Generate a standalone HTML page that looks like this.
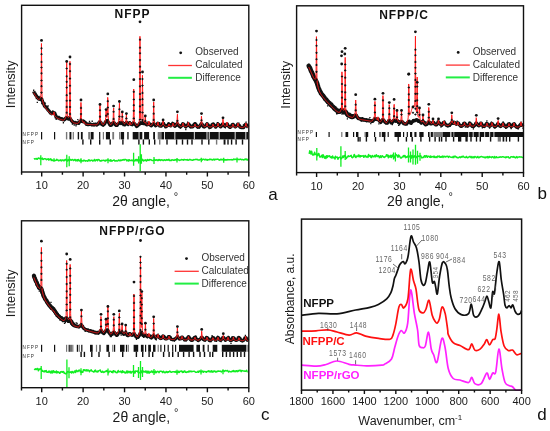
<!DOCTYPE html>
<html><head><meta charset="utf-8"><style>
html,body{margin:0;padding:0;background:#fff;width:550px;height:431px;overflow:hidden}
svg{display:block;font-family:"Liberation Sans",sans-serif;filter:blur(0.3px)}
</style></head><body><svg width="550" height="431" viewBox="0 0 550 431"><rect width="550" height="431" fill="#fff"/>
<path d="M33.7 91.31 L34.2 92.7 L34.7 93.48 L35.2 93.91 L35.7 94.92 L36.2 95.65 L36.7 96.5 L37.2 97.24 L37.7 97.28 L38.2 97.77 L38.7 98.87 L39.2 98.85 L39.7 99.19 L40.2 98.43 L40.7 98.56 L41.2 98.81 L41.7 98.97 L42.2 100.64 L42.7 102 L43.2 102.68 L43.7 103.83 L44.2 105.16 L44.7 106.23 L45.2 106.45 L45.7 106.94 L46.2 107.71 L46.7 108.01 L47.2 108.78 L47.7 109.56 L48.2 110.21 L48.7 110.59 L49.2 111.15 L49.7 111.68 L50.2 112.36 L50.7 112.66 L51.2 112.79 L51.7 113.63 L52.2 113.35 L52.7 113.11 L53.2 112.34 L53.7 112.78 L54.2 112.97 L54.7 113.18 L55.2 114.43 L55.7 115.77 L56.2 116.55 L56.7 117.27 L57.2 117.22 L57.7 117.81 L58.2 117.92 L58.7 117.83 L59.2 118.26 L59.7 118.68 L60.2 118.84 L60.7 118.74 L61.2 118.98 L61.7 118.7 L62.2 119.03 L62.7 119.62 L63.2 119.46 L63.7 119.36 L64.2 119.64 L64.7 119.55 L65.2 119.07 L65.7 118.2 L66.2 117.7 L66.7 117.59 L67.2 118.13 L67.7 118.52 L68.2 118.88 L68.7 119 L69.2 118.35 L69.7 118.1 L70.2 118.77 L70.7 119.61 L71.2 120.19 L71.7 120.89 L72.2 121.35 L72.7 122 L73.2 122.61 L73.7 122.59 L74.2 122.52 L74.7 122.87 L75.2 122.46 L75.7 122.78 L76.2 123.22 L76.7 123 L77.2 122.97 L77.7 122.87 L78.2 123.07 L78.7 123.23 L79.2 122.07 L79.7 122.05 L80.2 121.35 L80.7 120.88 L81.2 120.69 L81.7 121.11 L82.2 121.36 L82.7 121.67 L83.2 121.56 L83.7 121.18 L84.2 121.96 L84.7 122.15 L85.2 122.46 L85.7 123.29 L86.2 123.69 L86.7 123.83 L87.2 123.95 L87.7 124.17 L88.2 124.29 L88.7 124.32 L89.2 124.23 L89.7 123.92 L90.2 124.12 L90.7 124.11 L91.2 124.47 L91.7 124.73 L92.2 124.71 L92.7 124.74 L93.2 124.79 L93.7 124.37 L94.2 124.87 L94.7 124.77 L95.2 124.32 L95.7 124.3 L96.2 124.32 L96.7 124.91 L97.2 124.43 L97.7 124.11 L98.2 124.09 L98.7 123.19 L99.2 122.21 L99.7 121.75 L100.2 122.02 L100.7 122.23 L101.2 123.11 L101.7 124.23 L102.2 124.56 L102.7 124.74 L103.2 124.93 L103.7 124.43 L104.2 124.32 L104.7 123.66 L105.2 122.55 L105.7 121.56 L106.2 121.47 L106.7 120.79 L107.2 120.57 L107.7 121.29 L108.2 122.21 L108.7 122.55 L109.2 123.5 L109.7 124.33 L110.2 125.21 L110.7 124.91 L111.2 125.24 L111.7 124.84 L112.2 124.1 L112.7 123.06 L113.2 123.05 L113.7 122.76 L114.2 122.93 L114.7 123.45 L115.2 124.57 L115.7 124.94 L116.2 125.38 L116.7 125.22 L117.2 125.26 L117.7 124.31 L118.2 123.78 L118.7 123.55 L119.2 122.96 L119.7 122.44 L120.2 123.13 L120.7 122.93 L121.2 123.38 L121.7 122.97 L122.2 122.58 L122.7 122.72 L123.2 123.16 L123.7 124.56 L124.2 124.28 L124.7 124.82 L125.2 124.41 L125.7 123.43 L126.2 122.66 L126.7 123.26 L127.2 123.83 L127.7 124.17 L128.2 124.27 L128.7 123.94 L129.2 123.38 L129.7 122.81 L130.2 123.16 L130.7 123.42 L131.2 123.86 L131.7 124.22 L132.2 124.63 L132.7 123.86 L133.2 123.42 L133.7 122.95 L134.2 123.58 L134.7 124.25 L135.2 124.35 L135.7 125.17 L136.2 125.69 L136.7 126.4 L137.2 126.23 L137.7 125.67 L138.2 125.12 L138.7 124.79 L139.2 124.12 L139.7 123.54 L140.2 122.79 L140.7 123.24 L141.2 123.15 L141.7 122.94 L142.2 123.26 L142.7 122.75 L143.2 123.42 L143.7 123.16 L144.2 123.22 L144.7 123.61 L145.2 122.95 L145.7 123.65 L146.2 124.11 L146.7 124.87 L147.2 124.7 L147.7 124.4 L148.2 123.79 L148.7 123.78 L149.2 123.55 L149.7 124.31 L150.2 125.02 L150.7 125.1 L151.2 125.79 L151.7 125.35 L152.2 124.81 L152.7 124.1 L153.2 124.06 L153.7 123.73 L154.2 124.04 L154.7 124.32 L155.2 125.23 L155.7 125.75 L156.2 125.34 L156.7 124.97 L157.2 123.98 L157.7 123.33 L158.2 123.43 L158.7 124.41 L159.2 124.92 L159.7 125.93 L160.2 126 L160.7 125.94 L161.2 126.06 L161.7 125.48 L162.2 124.05 L162.7 123.95 L163.2 123.33 L163.7 123.74 L164.2 125.09 L164.7 125.19 L165.2 125.92 L165.7 126.81 L166.2 126.42 L166.7 126.02 L167.2 125.66 L167.7 125.09 L168.2 124.79 L168.7 123.77 L169.2 124.36 L169.7 124.34 L170.2 125.42 L170.7 125.8 L171.2 125.32 L171.7 124.84 L172.2 124.34 L172.7 123.52 L173.2 123.92 L173.7 123.9 L174.2 124.61 L174.7 126.01 L175.2 125.71 L175.7 125.71 L176.2 124.98 L176.7 124.15 L177.2 123.49 L177.7 124.23 L178.2 124.84 L178.7 125.63 L179.2 125.65 L179.7 126.17 L180.2 126.64 L180.7 126.79 L181.2 126.01 L181.7 125.43 L182.2 124.63 L182.7 123.76 L183.2 123.93 L183.7 124.22 L184.2 124.94 L184.7 125.54 L185.2 126.17 L185.7 126.87 L186.2 126.24 L186.7 125.88 L187.2 125.12 L187.7 124.63 L188.2 123.82 L188.7 123.92 L189.2 124.58 L189.7 125.36 L190.2 126.45 L190.7 126.91 L191.2 126.64 L191.7 126.71 L192.2 126.82 L192.7 126.62 L193.2 126.18 L193.7 125.21 L194.2 124.26 L194.7 123.89 L195.2 123.71 L195.7 124.56 L196.2 124.94 L196.7 125.67 L197.2 126.63 L197.7 126.63 L198.2 127.12 L198.7 126.83 L199.2 126.9 L199.7 125.87 L200.2 125.45 L200.7 124.91 L201.2 123.78 L201.7 124.42 L202.2 124.28 L202.7 125.54 L203.2 126.44 L203.7 126.8 L204.2 126.58 L204.7 126.3 L205.2 126.2 L205.7 125.84 L206.2 124.56 L206.7 124.49 L207.2 123.83 L207.7 124.93 L208.2 125 L208.7 125.97 L209.2 126.95 L209.7 127.13 L210.2 127.23 L210.7 126.99 L211.2 126.46 L211.7 125.72 L212.2 124.53 L212.7 124.18 L213.2 123.91 L213.7 124.83 L214.2 125.56 L214.7 125.94 L215.2 126.21 L215.7 126.98 L216.2 126.51 L216.7 125.65 L217.2 124.87 L217.7 124.57 L218.2 124.2 L218.7 124.63 L219.2 125.35 L219.7 126 L220.2 126.23 L220.7 126.78 L221.2 126.25 L221.7 125.71 L222.2 124.54 L222.7 124.22 L223.2 123.98 L223.7 124.42 L224.2 125.21 L224.7 126.17 L225.2 125.88 L225.7 125.46 L226.2 124.97 L226.7 124.15 L227.2 123.93 L227.7 124.83 L228.2 125.58 L228.7 126.44 L229.2 126.79 L229.7 127.24 L230.2 127.3 L230.7 126.71 L231.2 126.47 L231.7 125.76 L232.2 124.78 L232.7 124.37 L233.2 124.44 L233.7 125.19 L234.2 125.97 L234.7 126.16 L235.2 126.89 L235.7 126.45 L236.2 126.13 L236.7 125.82 L237.2 125.35 L237.7 124.22 L238.2 124.65 L238.7 125.23 L239.2 125.54 L239.7 126.59 L240.2 127.24 L240.7 127.14 L241.2 127.53 L241.7 127.6 L242.2 127.49 L242.7 127.67 L243.2 127.59 L243.7 127.37 L244.2 126.54 L244.7 125.49 L245.2 124.79 L245.7 124.29 L246.2 124.64 L246.7 125.35 L247.2 125.58 L247.7 126.79 L248.2 127.29" fill="none" stroke="#111" stroke-width="3.4" stroke-linejoin="round"/>
<path d="M33.05 89.62h1.3v1.3h-1.3zM33.95 94.33h1.3v1.3h-1.3zM34.85 95.54h1.3v1.3h-1.3zM35.75 98h1.3v1.3h-1.3zM36.65 101.72h1.3v1.3h-1.3zM37.55 98.86h1.3v1.3h-1.3zM38.45 99.17h1.3v1.3h-1.3zM39.35 95.74h1.3v1.3h-1.3zM40.25 97.45h1.3v1.3h-1.3zM41.15 102.93h1.3v1.3h-1.3zM42.05 102.04h1.3v1.3h-1.3zM42.95 103.08h1.3v1.3h-1.3zM43.85 105.53h1.3v1.3h-1.3zM44.75 102.5h1.3v1.3h-1.3zM45.65 105.64h1.3v1.3h-1.3zM46.55 105.83h1.3v1.3h-1.3zM47.45 105.34h1.3v1.3h-1.3zM48.35 111.97h1.3v1.3h-1.3zM49.25 113.31h1.3v1.3h-1.3zM50.15 111.91h1.3v1.3h-1.3zM51.05 113.37h1.3v1.3h-1.3zM51.95 110.49h1.3v1.3h-1.3zM52.85 112.64h1.3v1.3h-1.3zM53.75 113.76h1.3v1.3h-1.3zM54.65 117.08h1.3v1.3h-1.3zM55.55 118.73h1.3v1.3h-1.3zM56.45 117.5h1.3v1.3h-1.3zM57.35 116.8h1.3v1.3h-1.3zM58.25 115.83h1.3v1.3h-1.3zM59.15 116.6h1.3v1.3h-1.3zM60.05 119.27h1.3v1.3h-1.3zM60.95 119.47h1.3v1.3h-1.3zM61.85 118.71h1.3v1.3h-1.3zM62.75 122.11h1.3v1.3h-1.3zM63.65 120.17h1.3v1.3h-1.3zM64.55 118.31h1.3v1.3h-1.3zM65.45 116.82h1.3v1.3h-1.3zM66.35 117.23h1.3v1.3h-1.3zM67.25 116.25h1.3v1.3h-1.3zM68.15 116.44h1.3v1.3h-1.3zM69.05 118.49h1.3v1.3h-1.3zM69.95 117.3h1.3v1.3h-1.3zM70.85 119.48h1.3v1.3h-1.3zM71.75 123.48h1.3v1.3h-1.3zM72.65 121.24h1.3v1.3h-1.3zM73.55 124.36h1.3v1.3h-1.3zM74.45 121.99h1.3v1.3h-1.3zM75.35 125.08h1.3v1.3h-1.3zM76.25 123.21h1.3v1.3h-1.3zM77.15 119.03h1.3v1.3h-1.3zM78.05 123.7h1.3v1.3h-1.3zM78.95 121.07h1.3v1.3h-1.3zM79.85 117.73h1.3v1.3h-1.3zM80.75 120.09h1.3v1.3h-1.3zM81.65 120.96h1.3v1.3h-1.3zM82.55 119.42h1.3v1.3h-1.3zM83.45 120.23h1.3v1.3h-1.3zM84.35 122.46h1.3v1.3h-1.3zM85.25 124.52h1.3v1.3h-1.3zM86.15 124.7h1.3v1.3h-1.3zM87.05 124.96h1.3v1.3h-1.3zM87.95 124.92h1.3v1.3h-1.3zM88.85 120.66h1.3v1.3h-1.3zM89.75 122.83h1.3v1.3h-1.3zM90.65 123.99h1.3v1.3h-1.3zM91.55 120.59h1.3v1.3h-1.3zM92.45 124.8h1.3v1.3h-1.3zM93.35 125h1.3v1.3h-1.3zM94.25 123.06h1.3v1.3h-1.3zM95.15 123.58h1.3v1.3h-1.3zM96.05 122.93h1.3v1.3h-1.3zM96.95 123.81h1.3v1.3h-1.3zM97.85 122.91h1.3v1.3h-1.3zM98.75 121.64h1.3v1.3h-1.3zM99.65 120.18h1.3v1.3h-1.3zM100.55 123.11h1.3v1.3h-1.3zM101.45 123.46h1.3v1.3h-1.3zM102.35 125.44h1.3v1.3h-1.3zM103.25 124.41h1.3v1.3h-1.3zM104.15 121.12h1.3v1.3h-1.3zM105.05 119.49h1.3v1.3h-1.3zM105.95 120.26h1.3v1.3h-1.3zM106.85 119.77h1.3v1.3h-1.3zM107.75 122.25h1.3v1.3h-1.3zM108.65 124.37h1.3v1.3h-1.3zM109.55 124.41h1.3v1.3h-1.3zM110.45 122.44h1.3v1.3h-1.3zM111.35 122.26h1.3v1.3h-1.3zM112.25 123.04h1.3v1.3h-1.3zM113.15 120.65h1.3v1.3h-1.3zM114.05 124.35h1.3v1.3h-1.3zM114.95 124.17h1.3v1.3h-1.3zM115.85 125.35h1.3v1.3h-1.3zM116.75 123.28h1.3v1.3h-1.3zM117.65 123.01h1.3v1.3h-1.3zM118.55 118.46h1.3v1.3h-1.3zM119.45 121.88h1.3v1.3h-1.3zM120.35 123.13h1.3v1.3h-1.3zM121.25 120.96h1.3v1.3h-1.3zM122.15 121.36h1.3v1.3h-1.3zM123.05 123.54h1.3v1.3h-1.3zM123.95 124.05h1.3v1.3h-1.3zM124.85 122.01h1.3v1.3h-1.3zM125.75 123.04h1.3v1.3h-1.3zM126.65 120.94h1.3v1.3h-1.3zM127.55 124.95h1.3v1.3h-1.3zM128.45 121.28h1.3v1.3h-1.3zM129.35 121.33h1.3v1.3h-1.3zM130.25 124.67h1.3v1.3h-1.3zM131.15 122.73h1.3v1.3h-1.3zM132.05 121.39h1.3v1.3h-1.3zM132.95 122.56h1.3v1.3h-1.3zM133.85 121.88h1.3v1.3h-1.3zM134.75 123.04h1.3v1.3h-1.3zM135.65 124.39h1.3v1.3h-1.3zM136.55 124.46h1.3v1.3h-1.3zM137.45 123.64h1.3v1.3h-1.3zM138.35 122.28h1.3v1.3h-1.3zM139.25 124.32h1.3v1.3h-1.3zM140.15 121.5h1.3v1.3h-1.3zM141.05 123.47h1.3v1.3h-1.3zM141.95 120.59h1.3v1.3h-1.3zM142.85 123.42h1.3v1.3h-1.3zM143.75 121.26h1.3v1.3h-1.3zM144.65 122h1.3v1.3h-1.3zM145.55 124.14h1.3v1.3h-1.3zM146.45 123.52h1.3v1.3h-1.3zM147.35 121.19h1.3v1.3h-1.3zM148.25 122.1h1.3v1.3h-1.3zM149.15 123.25h1.3v1.3h-1.3zM150.05 125.43h1.3v1.3h-1.3zM150.95 123.87h1.3v1.3h-1.3zM151.85 123.74h1.3v1.3h-1.3zM152.75 123.02h1.3v1.3h-1.3zM153.65 121.26h1.3v1.3h-1.3zM154.55 124.36h1.3v1.3h-1.3zM155.45 123.85h1.3v1.3h-1.3zM156.35 124.36h1.3v1.3h-1.3zM157.25 122.8h1.3v1.3h-1.3zM158.15 123.39h1.3v1.3h-1.3zM159.05 122.05h1.3v1.3h-1.3zM159.95 125.35h1.3v1.3h-1.3zM160.85 124.4h1.3v1.3h-1.3zM161.75 122.37h1.3v1.3h-1.3zM162.65 122.43h1.3v1.3h-1.3zM163.55 122.62h1.3v1.3h-1.3zM164.45 125.59h1.3v1.3h-1.3zM165.35 126.63h1.3v1.3h-1.3zM166.25 126.26h1.3v1.3h-1.3zM167.15 123.88h1.3v1.3h-1.3zM168.05 125.45h1.3v1.3h-1.3zM168.95 124.7h1.3v1.3h-1.3zM169.85 123.55h1.3v1.3h-1.3zM170.75 124.53h1.3v1.3h-1.3zM171.65 121.63h1.3v1.3h-1.3zM172.55 123.01h1.3v1.3h-1.3zM173.45 125.06h1.3v1.3h-1.3zM174.35 126.7h1.3v1.3h-1.3zM175.25 124.27h1.3v1.3h-1.3zM176.15 121.38h1.3v1.3h-1.3zM177.05 123.05h1.3v1.3h-1.3zM177.95 126.08h1.3v1.3h-1.3zM178.85 125.78h1.3v1.3h-1.3zM179.75 127.4h1.3v1.3h-1.3zM180.65 126.2h1.3v1.3h-1.3zM181.55 125.73h1.3v1.3h-1.3zM182.45 123.93h1.3v1.3h-1.3zM183.35 123.38h1.3v1.3h-1.3zM184.25 125.98h1.3v1.3h-1.3zM185.15 128.86h1.3v1.3h-1.3zM186.05 124.49h1.3v1.3h-1.3zM186.95 121.53h1.3v1.3h-1.3zM187.85 125.82h1.3v1.3h-1.3zM188.75 124.87h1.3v1.3h-1.3zM189.65 124.88h1.3v1.3h-1.3zM190.55 125.42h1.3v1.3h-1.3zM191.45 124.31h1.3v1.3h-1.3zM192.35 126.51h1.3v1.3h-1.3zM193.25 124.62h1.3v1.3h-1.3zM194.15 122.63h1.3v1.3h-1.3zM195.05 123.36h1.3v1.3h-1.3zM195.95 124.72h1.3v1.3h-1.3zM196.85 127.34h1.3v1.3h-1.3zM197.75 126.01h1.3v1.3h-1.3zM198.65 127.54h1.3v1.3h-1.3zM199.55 123.8h1.3v1.3h-1.3zM200.45 122.81h1.3v1.3h-1.3zM201.35 123.07h1.3v1.3h-1.3zM202.25 124.33h1.3v1.3h-1.3zM203.15 125.84h1.3v1.3h-1.3zM204.05 127.19h1.3v1.3h-1.3zM204.95 126.46h1.3v1.3h-1.3zM205.85 122.41h1.3v1.3h-1.3zM206.75 125.14h1.3v1.3h-1.3zM207.65 125h1.3v1.3h-1.3zM208.55 127.89h1.3v1.3h-1.3zM209.45 126.07h1.3v1.3h-1.3zM210.35 124.82h1.3v1.3h-1.3zM211.25 125.55h1.3v1.3h-1.3zM212.15 124.28h1.3v1.3h-1.3zM213.05 123.46h1.3v1.3h-1.3zM213.95 125.39h1.3v1.3h-1.3zM214.85 126.14h1.3v1.3h-1.3zM215.75 125.76h1.3v1.3h-1.3zM216.65 121.99h1.3v1.3h-1.3zM217.55 122.14h1.3v1.3h-1.3zM218.45 124.73h1.3v1.3h-1.3zM219.35 126.15h1.3v1.3h-1.3zM220.25 125.29h1.3v1.3h-1.3zM221.15 122.74h1.3v1.3h-1.3zM222.05 125.3h1.3v1.3h-1.3zM222.95 123.58h1.3v1.3h-1.3zM223.85 123.84h1.3v1.3h-1.3zM224.75 127.1h1.3v1.3h-1.3zM225.65 125.46h1.3v1.3h-1.3zM226.55 124.92h1.3v1.3h-1.3zM227.45 125.77h1.3v1.3h-1.3zM228.35 126.7h1.3v1.3h-1.3zM229.25 125.31h1.3v1.3h-1.3zM230.15 126.24h1.3v1.3h-1.3zM231.05 125.55h1.3v1.3h-1.3zM231.95 124.63h1.3v1.3h-1.3zM232.85 124.54h1.3v1.3h-1.3zM233.75 124.08h1.3v1.3h-1.3zM234.65 125.43h1.3v1.3h-1.3zM235.55 125.42h1.3v1.3h-1.3zM236.45 124.31h1.3v1.3h-1.3zM237.35 122.69h1.3v1.3h-1.3zM238.25 122.38h1.3v1.3h-1.3zM239.15 124.45h1.3v1.3h-1.3zM240.05 126.96h1.3v1.3h-1.3zM240.95 126.74h1.3v1.3h-1.3zM241.85 127.45h1.3v1.3h-1.3zM242.75 124.27h1.3v1.3h-1.3zM243.65 125.2h1.3v1.3h-1.3zM244.55 125.41h1.3v1.3h-1.3zM245.45 121.52h1.3v1.3h-1.3zM246.35 123.67h1.3v1.3h-1.3zM247.25 124.22h1.3v1.3h-1.3z" fill="#111"/>
<path d="M33.7 92.8 L33.95 93.2 L34.2 93.61 L34.45 94.03 L34.7 94.45 L34.95 94.87 L35.2 95.28 L35.45 95.69 L35.7 96.09 L35.95 96.48 L36.2 96.85 L36.45 97.2 L36.7 97.53 L36.95 97.84 L37.2 98.14 L37.45 98.42 L37.7 98.69 L37.95 98.93 L38.2 99.14 L38.45 99.3 L38.7 99.41 L38.95 99.45 L39.2 99.42 L39.45 99.29 L39.7 99.09 L39.95 98.81 L40.2 98.5 L40.45 98.18 L40.7 97.87 L40.95 95.81 L41.2 77.15 L41.45 43.48 L41.7 62.38 L41.95 92.91 L42.2 99.27 L42.45 100.33 L42.7 101.23 L42.95 102.13 L43.2 103.01 L43.45 103.83 L43.7 104.57 L43.95 105.22 L44.2 105.79 L44.45 106.29 L44.7 106.73 L44.95 107.12 L45.2 107.48 L45.45 107.82 L45.7 108.14 L45.95 108.45 L46.2 108.75 L46.45 109.06 L46.7 109.36 L46.95 109.66 L47.2 109.97 L47.45 110.27 L47.7 110.57 L47.95 110.87 L48.2 111.17 L48.45 111.46 L48.7 111.74 L48.95 112.03 L49.2 112.3 L49.45 112.57 L49.7 112.83 L49.95 113.07 L50.2 113.31 L50.45 113.53 L50.7 113.73 L50.95 113.92 L51.2 114.09 L51.45 114.24 L51.7 114.37 L51.95 114.47 L52.2 114.54 L52.45 114.59 L52.7 114.63 L52.95 114.66 L53.2 114.69 L53.45 114.65 L53.7 113.7 L53.95 111.95 L54.2 113.17 L54.45 115.06 L54.7 115.64 L54.95 115.94 L55.2 116.25 L55.45 116.55 L55.7 116.84 L55.95 117.11 L56.2 117.35 L56.45 117.57 L56.7 117.76 L56.95 117.92 L57.2 118.07 L57.45 118.21 L57.7 118.33 L57.95 118.45 L58.2 118.56 L58.45 118.66 L58.7 118.76 L58.95 118.86 L59.2 118.95 L59.45 119.04 L59.7 119.13 L59.95 119.22 L60.2 119.31 L60.45 119.39 L60.7 119.47 L60.95 119.55 L61.2 119.63 L61.45 119.71 L61.7 119.79 L61.95 119.86 L62.2 119.94 L62.45 120 L62.7 120.06 L62.95 120.1 L63.2 120.13 L63.45 120.13 L63.7 120.08 L63.95 119.98 L64.2 119.81 L64.45 119.57 L64.7 119.23 L64.95 118.82 L65.2 118.34 L65.45 117.81 L65.7 117.29 L65.95 116.71 L66.2 113.06 L66.45 89.09 L66.7 61.83 L66.95 89.05 L67.2 112.95 L67.45 116.49 L67.7 116.88 L67.95 117.14 L68.2 117.33 L68.45 117.4 L68.7 117.37 L68.95 117.25 L69.2 117.04 L69.45 114.96 L69.7 95.85 L69.95 61.36 L70.2 80.49 L70.45 111.43 L70.7 117.69 L70.95 118.52 L71.2 119.17 L71.45 119.82 L71.7 120.44 L71.95 121 L72.2 121.48 L72.45 121.87 L72.7 122.18 L72.95 122.41 L73.2 122.59 L73.45 122.73 L73.7 122.83 L73.95 122.91 L74.2 122.97 L74.45 123.03 L74.7 123.08 L74.95 123.12 L75.2 123.16 L75.45 123.21 L75.7 123.25 L75.95 123.29 L76.2 123.32 L76.45 123.36 L76.7 123.38 L76.95 123.41 L77.2 123.41 L77.45 123.4 L77.7 123.37 L77.95 123.29 L78.2 123.16 L78.45 122.97 L78.7 122.69 L78.95 122.33 L79.2 121.89 L79.45 121.38 L79.7 120.82 L79.95 120.25 L80.2 119.72 L80.45 118.71 L80.7 112.78 L80.95 102.43 L81.2 108.09 L81.45 117.4 L81.7 119.49 L81.95 120.05 L82.2 120.59 L82.45 121.13 L82.7 121.64 L82.95 122.08 L83.2 122.46 L83.45 122.7 L83.7 122.43 L83.95 121.7 L84.2 122.36 L84.45 123.31 L84.7 123.59 L84.95 123.71 L85.2 123.82 L85.45 123.93 L85.7 124.03 L85.95 124.11 L86.2 124.18 L86.45 124.25 L86.7 124.3 L86.95 124.34 L87.2 124.37 L87.45 124.4 L87.7 124.42 L87.95 124.44 L88.2 124.45 L88.45 124.47 L88.7 124.48 L88.95 124.5 L89.2 124.51 L89.45 124.53 L89.7 124.54 L89.95 124.55 L90.2 124.57 L90.45 124.58 L90.7 124.59 L90.95 124.61 L91.2 124.62 L91.45 124.63 L91.7 124.64 L91.95 124.66 L92.2 124.67 L92.45 124.68 L92.7 124.69 L92.95 124.7 L93.2 124.71 L93.45 124.73 L93.7 124.74 L93.95 124.75 L94.2 124.76 L94.45 124.77 L94.7 124.78 L94.95 124.79 L95.2 124.8 L95.45 124.81 L95.7 124.81 L95.95 124.8 L96.2 124.79 L96.45 124.75 L96.7 124.69 L96.95 124.59 L97.2 124.44 L97.45 124.22 L97.7 123.93 L97.95 123.55 L98.2 123.09 L98.45 122.56 L98.7 121.98 L98.95 121.4 L99.2 120.85 L99.45 119.89 L99.7 114.42 L99.95 104.93 L100.2 110.13 L100.45 118.69 L100.7 120.66 L100.95 121.25 L101.2 121.84 L101.45 122.44 L101.7 123.01 L101.95 123.51 L102.2 123.92 L102.45 124.24 L102.7 124.45 L102.95 124.56 L103.2 124.57 L103.45 124.47 L103.7 124.27 L103.95 123.97 L104.2 123.55 L104.45 123.03 L104.7 122.43 L104.95 121.74 L105.2 121.02 L105.45 120.19 L105.7 117.79 L105.95 110.65 L106.2 108.87 L106.45 115.27 L106.7 117.53 L106.95 117.6 L107.2 117.23 L107.45 111.89 L107.7 97.39 L107.95 100.6 L108.2 115.45 L108.45 119.89 L108.7 120.87 L108.95 121.64 L109.2 122.37 L109.45 123.03 L109.7 123.6 L109.95 124.05 L110.2 124.38 L110.45 124.58 L110.7 124.65 L110.95 124.6 L111.2 124.43 L111.45 124.15 L111.7 123.75 L111.95 123.27 L112.2 122.71 L112.45 122.13 L112.7 121.58 L112.95 120.96 L113.2 118.36 L113.45 109.63 L113.7 107.99 L113.95 117.11 L114.2 120.79 L114.45 121.53 L114.7 122.09 L114.95 122.69 L115.2 123.27 L115.45 123.79 L115.7 124.22 L115.95 124.55 L116.2 124.76 L116.45 124.85 L116.7 124.82 L116.95 124.67 L117.2 124.41 L117.45 124.03 L117.7 123.56 L117.95 123.01 L118.2 122.42 L118.45 121.83 L118.7 121.22 L118.95 118.99 L119.2 109.19 L119.45 103.15 L119.7 113.82 L119.95 119.79 L120.2 120.54 L120.45 120.73 L120.7 120.89 L120.95 121 L121.2 121.06 L121.45 121.08 L121.7 120.91 L121.95 118.64 L122.2 112.56 L122.45 113.86 L122.7 120 L122.95 121.89 L123.2 122.38 L123.45 122.79 L123.7 123.17 L123.95 123.48 L124.2 123.68 L124.45 123.75 L124.7 123.69 L124.95 123.52 L125.2 123.27 L125.45 122.98 L125.7 122.66 L125.95 121.58 L126.2 116.98 L126.45 114.19 L126.7 119.32 L126.95 122.3 L127.2 122.88 L127.45 123.23 L127.7 123.58 L127.95 123.92 L128.2 124.2 L128.45 124.41 L128.7 124.55 L128.95 124.63 L129.2 124.67 L129.45 124.58 L129.7 123.64 L129.95 121.95 L130.2 122.89 L130.45 124.41 L130.7 124.71 L130.95 124.7 L131.2 124.64 L131.45 124.5 L131.7 124.27 L131.95 123.94 L132.2 123.52 L132.45 123.03 L132.7 122.5 L132.95 121.98 L133.2 120.9 L133.45 112.07 L133.7 89.06 L133.95 93.25 L134.2 115.29 L134.45 121.39 L134.7 122.22 L134.95 122.8 L135.2 123.4 L135.45 123.97 L135.7 124.49 L135.95 124.92 L136.2 125.25 L136.45 125.49 L136.7 125.62 L136.95 125.66 L137.2 125.59 L137.45 125.43 L137.7 125.16 L137.95 124.8 L138.2 124.33 L138.45 123.79 L138.7 123.18 L138.95 122.56 L139.2 121.88 L139.45 118.39 L139.7 89.05 L139.95 36.3 L140.2 64.78 L140.45 111.05 L140.7 119.74 L140.95 120.08 L141.2 120.08 L141.45 120.07 L141.7 120.03 L141.95 118.48 L142.2 103.11 L142.45 75.23 L142.7 90.76 L142.95 115.82 L143.2 120.8 L143.45 121.32 L143.7 121.63 L143.95 121.9 L144.2 122.12 L144.45 122.29 L144.7 122.3 L144.95 120.7 L145.2 116.22 L145.45 117.25 L145.7 121.91 L145.95 123.35 L146.2 123.73 L146.45 124.05 L146.7 124.34 L146.95 124.59 L147.2 124.77 L147.45 124.87 L147.7 124.91 L147.95 124.89 L148.2 124.84 L148.45 124.65 L148.7 123.35 L148.95 121.05 L149.2 122.35 L149.45 124.47 L149.7 124.98 L149.95 125.14 L150.2 125.28 L150.45 125.41 L150.7 125.47 L150.95 125.47 L151.2 125.37 L151.45 125.16 L151.7 124.84 L151.95 124.42 L152.2 123.91 L152.45 123.35 L152.7 122.79 L152.95 122.24 L153.2 120.65 L153.45 111.85 L153.7 101.99 L153.95 111.85 L154.2 120.65 L154.45 122.25 L154.7 122.8 L154.95 123.36 L155.2 123.91 L155.45 124.4 L155.7 124.81 L155.95 125.12 L156.2 125.31 L156.45 125.41 L156.7 125.43 L156.95 125.39 L157.2 125.32 L157.45 125.14 L157.7 124.02 L157.95 122.07 L158.2 123.16 L158.45 124.94 L158.7 125.38 L158.95 125.54 L159.2 125.69 L159.45 125.84 L159.7 125.98 L159.95 126.08 L160.2 126.15 L160.45 126.16 L160.7 126.13 L160.95 126.04 L161.2 125.9 L161.45 125.73 L161.7 125.52 L161.95 125.29 L162.2 125.07 L162.45 124.84 L162.7 123.95 L162.95 121.04 L163.2 120.5 L163.45 123.54 L163.7 124.78 L163.95 125.06 L164.2 125.28 L164.45 125.52 L164.7 125.76 L164.95 125.97 L165.2 126.15 L165.45 126.29 L165.7 126.4 L165.95 126.47 L166.2 126.51 L166.45 126.51 L166.7 126.49 L166.95 126.45 L167.2 126.38 L167.45 126.3 L167.7 126.21 L167.95 126.12 L168.2 126.03 L168.45 125.9 L168.7 125.22 L168.95 124.04 L169.2 124.68 L169.45 125.73 L169.7 125.97 L169.95 126.04 L170.2 126.1 L170.45 126.15 L170.7 126.18 L170.95 126.17 L171.2 126.14 L171.45 126.07 L171.7 125.99 L171.95 125.89 L172.2 125.78 L172.45 125.61 L172.7 124.67 L172.95 123.06 L173.2 123.94 L173.45 125.39 L173.7 125.73 L173.95 125.81 L174.2 125.88 L174.45 125.92 L174.7 125.91 L174.95 125.82 L175.2 125.66 L175.45 125.41 L175.7 125.09 L175.95 124.7 L176.2 124.28 L176.45 123.85 L176.7 123.44 L176.95 122.23 L177.2 117.25 L177.45 114.25 L177.7 119.77 L177.95 122.99 L178.2 123.64 L178.45 124.07 L178.7 124.53 L178.95 124.97 L179.2 125.39 L179.45 125.74 L179.7 126.03 L179.95 126.24 L180.2 126.38 L180.45 126.45 L180.7 126.47 L180.95 126.44 L181.2 126.36 L181.45 126.26 L181.7 126.14 L181.95 126.01 L182.2 125.89 L182.45 125.7 L182.7 124.73 L182.95 123.07 L183.2 123.98 L183.45 125.48 L183.7 125.85 L183.95 125.98 L184.2 126.11 L184.45 126.24 L184.7 126.36 L184.95 126.46 L185.2 126.53 L185.45 126.57 L185.7 126.57 L185.95 126.53 L186.2 126.45 L186.45 126.34 L186.7 126.2 L186.95 126.04 L187.2 125.87 L187.45 125.71 L187.7 125.51 L187.95 124.6 L188.2 122.36 L188.45 122.77 L188.7 124.92 L188.95 125.58 L189.2 125.76 L189.45 125.93 L189.7 126.1 L189.95 126.27 L190.2 126.43 L190.45 126.56 L190.7 126.66 L190.95 126.74 L191.2 126.8 L191.45 126.83 L191.7 126.85 L191.95 126.85 L192.2 126.83 L192.45 126.8 L192.7 126.75 L192.95 126.69 L193.2 126.61 L193.45 126.52 L193.7 126.41 L193.95 126.31 L194.2 126.22 L194.45 126.07 L194.7 125.33 L194.95 124.06 L195.2 124.75 L195.45 125.91 L195.7 126.19 L195.95 126.29 L196.2 126.39 L196.45 126.5 L196.7 126.6 L196.95 126.69 L197.2 126.76 L197.45 126.81 L197.7 126.85 L197.95 126.85 L198.2 126.83 L198.45 126.77 L198.7 126.68 L198.95 126.54 L199.2 126.34 L199.45 126.09 L199.7 125.78 L199.95 125.42 L200.2 125.04 L200.45 124.65 L200.7 124.29 L200.95 123.73 L201.2 120.96 L201.45 116.21 L201.7 118.81 L201.95 123.1 L202.2 124.15 L202.45 124.52 L202.7 124.9 L202.95 125.3 L203.2 125.66 L203.45 125.99 L203.7 126.25 L203.95 126.45 L204.2 126.59 L204.45 126.66 L204.7 126.67 L204.95 126.63 L205.2 126.56 L205.45 126.45 L205.7 126.32 L205.95 126.18 L206.2 126.05 L206.45 125.85 L206.7 124.83 L206.95 123.08 L207.2 124.04 L207.45 125.63 L207.7 126.02 L207.95 126.16 L208.2 126.3 L208.45 126.45 L208.7 126.59 L208.95 126.71 L209.2 126.81 L209.45 126.89 L209.7 126.94 L209.95 126.97 L210.2 126.97 L210.45 126.95 L210.7 126.91 L210.95 126.85 L211.2 126.76 L211.45 126.67 L211.7 126.56 L211.95 126.45 L212.2 126.35 L212.45 126.19 L212.7 125.41 L212.95 124.06 L213.2 124.8 L213.45 126.02 L213.7 126.32 L213.95 126.42 L214.2 126.53 L214.45 126.63 L214.7 126.72 L214.95 126.79 L215.2 126.83 L215.45 126.84 L215.7 126.82 L215.95 126.76 L216.2 126.66 L216.45 126.55 L216.7 126.41 L216.95 126.27 L217.2 126.14 L217.45 125.93 L217.7 124.88 L217.95 123.08 L218.2 124.07 L218.45 125.7 L218.7 126.09 L218.95 126.23 L219.2 126.36 L219.45 126.49 L219.7 126.6 L219.95 126.68 L220.2 126.71 L220.45 126.68 L220.7 126.6 L220.95 126.45 L221.2 126.26 L221.45 126.01 L221.7 125.74 L221.95 125.46 L222.2 125.19 L222.45 124.77 L222.7 122.7 L222.95 119.15 L223.2 121.08 L223.45 124.28 L223.7 125.04 L223.95 125.29 L224.2 125.52 L224.45 125.75 L224.7 125.93 L224.95 126.06 L225.2 126.12 L225.45 126.12 L225.7 126.06 L225.95 125.97 L226.2 125.86 L226.45 125.64 L226.7 124.34 L226.95 122.08 L227.2 123.34 L227.45 125.4 L227.7 125.9 L227.95 126.09 L228.2 126.27 L228.45 126.46 L228.7 126.64 L228.95 126.8 L229.2 126.93 L229.45 127.03 L229.7 127.1 L229.95 127.14 L230.2 127.15 L230.45 127.14 L230.7 127.1 L230.95 127.03 L231.2 126.95 L231.45 126.84 L231.7 126.73 L231.95 126.62 L232.2 126.51 L232.45 126.34 L232.7 125.5 L232.95 124.06 L233.2 124.85 L233.45 126.15 L233.7 126.47 L233.95 126.58 L234.2 126.69 L234.45 126.8 L234.7 126.9 L234.95 126.98 L235.2 127.02 L235.45 127.03 L235.7 127 L235.95 126.94 L236.2 126.85 L236.45 126.72 L236.7 126.58 L236.95 126.44 L237.2 126.3 L237.45 126.08 L237.7 124.98 L237.95 123.08 L238.2 124.12 L238.45 125.83 L238.7 126.25 L238.95 126.4 L239.2 126.56 L239.45 126.72 L239.7 126.87 L239.95 127 L240.2 127.12 L240.45 127.21 L240.7 127.28 L240.95 127.33 L241.2 127.37 L241.45 127.39 L241.7 127.4 L241.95 127.41 L242.2 127.41 L242.45 127.4 L242.7 127.38 L242.95 127.35 L243.2 127.3 L243.45 127.24 L243.7 127.15 L243.95 127.04 L244.2 126.91 L244.45 126.76 L244.7 126.6 L244.95 126.45 L245.2 126.3 L245.45 125.88 L245.7 124.14 L245.95 123.09 L246.2 125.02 L246.45 126.15 L246.7 126.38 L246.95 126.53 L247.2 126.69 L247.45 126.85 L247.7 127 L247.95 127.13 L248.2 127.23" fill="none" stroke="#ff1a1a" stroke-width="1.0" stroke-linejoin="round"/>
<g fill="#111"><circle cx="41.5" cy="40.4" r="1.4"/><path d="M40.4 47.78h2.2v1h-2.2z M41 47.18h1v2.2h-1z"/><path d="M40.4 53.66h2.2v1h-2.2z M41 53.06h1v2.2h-1z"/><path d="M40.4 61.44h2.2v1h-2.2z M41 60.84h1v2.2h-1z"/><path d="M40.4 66.98h2.2v1h-2.2z M41 66.38h1v2.2h-1z"/><path d="M40.4 72.84h2.2v1h-2.2z M41 72.24h1v2.2h-1z"/><path d="M40.4 80h2.2v1h-2.2z M41 79.4h1v2.2h-1z"/><path d="M40.4 85.65h2.2v1h-2.2z M41 85.05h1v2.2h-1z"/><path d="M40.4 92.1h2.2v1h-2.2z M41 91.5h1v2.2h-1z"/><path d="M40.4 97.92h2.2v1h-2.2z M41 97.32h1v2.2h-1z"/><circle cx="66.7" cy="61.4" r="1.4"/><path d="M65.6 68.02h2.2v1h-2.2z M66.2 67.42h1v2.2h-1z"/><path d="M65.6 75.79h2.2v1h-2.2z M66.2 75.19h1v2.2h-1z"/><path d="M65.6 81.37h2.2v1h-2.2z M66.2 80.77h1v2.2h-1z"/><path d="M65.6 87.03h2.2v1h-2.2z M66.2 86.43h1v2.2h-1z"/><path d="M65.6 94.63h2.2v1h-2.2z M66.2 94.03h1v2.2h-1z"/><path d="M65.6 100.23h2.2v1h-2.2z M66.2 99.63h1v2.2h-1z"/><path d="M65.6 106.42h2.2v1h-2.2z M66.2 105.82h1v2.2h-1z"/><path d="M65.6 112.21h2.2v1h-2.2z M66.2 111.61h1v2.2h-1z"/><circle cx="70" cy="57" r="1.4"/><path d="M68.9 63.58h2.2v1h-2.2z M69.5 62.98h1v2.2h-1z"/><path d="M68.9 70.68h2.2v1h-2.2z M69.5 70.08h1v2.2h-1z"/><path d="M68.9 78.04h2.2v1h-2.2z M69.5 77.44h1v2.2h-1z"/><path d="M68.9 85.26h2.2v1h-2.2z M69.5 84.66h1v2.2h-1z"/><path d="M68.9 92.87h2.2v1h-2.2z M69.5 92.27h1v2.2h-1z"/><path d="M68.9 100.03h2.2v1h-2.2z M69.5 99.43h1v2.2h-1z"/><path d="M68.9 106.5h2.2v1h-2.2z M69.5 105.9h1v2.2h-1z"/><path d="M68.9 113.58h2.2v1h-2.2z M69.5 112.98h1v2.2h-1z"/><circle cx="81" cy="100" r="1.4"/><path d="M79.9 107.42h2.2v1h-2.2z M80.5 106.82h1v2.2h-1z"/><path d="M79.9 113.53h2.2v1h-2.2z M80.5 112.93h1v2.2h-1z"/><path d="M79.9 119.18h2.2v1h-2.2z M80.5 118.58h1v2.2h-1z"/><circle cx="100" cy="104.4" r="1.4"/><path d="M98.9 109.77h2.2v1h-2.2z M99.5 109.17h1v2.2h-1z"/><path d="M98.9 116.15h2.2v1h-2.2z M99.5 115.55h1v2.2h-1z"/><circle cx="106.1" cy="109.6" r="1.4"/><path d="M105 115.18h2.2v1h-2.2z M105.6 114.58h1v2.2h-1z"/><circle cx="107.8" cy="93.9" r="1.4"/><path d="M106.7 100.68h2.2v1h-2.2z M107.3 100.08h1v2.2h-1z"/><path d="M106.7 107.07h2.2v1h-2.2z M107.3 106.47h1v2.2h-1z"/><path d="M106.7 113.6h2.2v1h-2.2z M107.3 113h1v2.2h-1z"/><path d="M106.7 119.6h2.2v1h-2.2z M107.3 119h1v2.2h-1z"/><circle cx="113.6" cy="106.1" r="1.4"/><path d="M112.5 111.27h2.2v1h-2.2z M113.1 110.67h1v2.2h-1z"/><path d="M112.5 118.43h2.2v1h-2.2z M113.1 117.83h1v2.2h-1z"/><circle cx="119.4" cy="101.5" r="1.4"/><path d="M118.3 108.73h2.2v1h-2.2z M118.9 108.13h1v2.2h-1z"/><path d="M118.3 116.03h2.2v1h-2.2z M118.9 115.43h1v2.2h-1z"/><circle cx="122.3" cy="111.9" r="1.4"/><path d="M121.2 116.25h2.2v1h-2.2z M121.8 115.65h1v2.2h-1z"/><circle cx="126.4" cy="113.6" r="1.4"/><path d="M125.3 117.95h2.2v1h-2.2z M125.9 117.35h1v2.2h-1z"/><circle cx="133.8" cy="79.7" r="1.4"/><path d="M132.7 91.36h2.2v1h-2.2z M133.3 90.76h1v2.2h-1z"/><path d="M132.7 98.99h2.2v1h-2.2z M133.3 98.39h1v2.2h-1z"/><path d="M132.7 104.63h2.2v1h-2.2z M133.3 104.03h1v2.2h-1z"/><path d="M132.7 110.35h2.2v1h-2.2z M133.3 109.75h1v2.2h-1z"/><path d="M132.7 117.89h2.2v1h-2.2z M133.3 117.29h1v2.2h-1z"/><circle cx="140" cy="21.8" r="1.4"/><path d="M138.9 39.21h2.2v1h-2.2z M139.5 38.61h1v2.2h-1z"/><path d="M138.9 47.17h2.2v1h-2.2z M139.5 46.57h1v2.2h-1z"/><path d="M138.9 52.77h2.2v1h-2.2z M139.5 52.17h1v2.2h-1z"/><path d="M138.9 59.6h2.2v1h-2.2z M139.5 59h1v2.2h-1z"/><path d="M138.9 66.21h2.2v1h-2.2z M139.5 65.61h1v2.2h-1z"/><path d="M138.9 72.03h2.2v1h-2.2z M139.5 71.43h1v2.2h-1z"/><path d="M138.9 78.52h2.2v1h-2.2z M139.5 77.92h1v2.2h-1z"/><path d="M138.9 85.79h2.2v1h-2.2z M139.5 85.19h1v2.2h-1z"/><path d="M138.9 93.49h2.2v1h-2.2z M139.5 92.89h1v2.2h-1z"/><path d="M138.9 99.05h2.2v1h-2.2z M139.5 98.45h1v2.2h-1z"/><path d="M138.9 105.87h2.2v1h-2.2z M139.5 105.27h1v2.2h-1z"/><path d="M138.9 111.59h2.2v1h-2.2z M139.5 110.99h1v2.2h-1z"/><path d="M138.9 119.09h2.2v1h-2.2z M139.5 118.49h1v2.2h-1z"/><circle cx="142.5" cy="72" r="1.4"/><path d="M141.4 78.6h2.2v1h-2.2z M142 78h1v2.2h-1z"/><path d="M141.4 85.06h2.2v1h-2.2z M142 84.46h1v2.2h-1z"/><path d="M141.4 92.39h2.2v1h-2.2z M142 91.79h1v2.2h-1z"/><path d="M141.4 98.68h2.2v1h-2.2z M142 98.08h1v2.2h-1z"/><path d="M141.4 104.5h2.2v1h-2.2z M142 103.9h1v2.2h-1z"/><path d="M141.4 111.99h2.2v1h-2.2z M142 111.39h1v2.2h-1z"/><path d="M141.4 119.51h2.2v1h-2.2z M142 118.91h1v2.2h-1z"/><circle cx="145.3" cy="116" r="1.4"/><path d="M144.2 120.41h2.2v1h-2.2z M144.8 119.81h1v2.2h-1z"/><circle cx="153.7" cy="100" r="1.4"/><path d="M152.6 106.24h2.2v1h-2.2z M153.2 105.64h1v2.2h-1z"/><path d="M152.6 113.13h2.2v1h-2.2z M153.2 112.53h1v2.2h-1z"/><path d="M152.6 119.45h2.2v1h-2.2z M153.2 118.85h1v2.2h-1z"/><circle cx="163.1" cy="120" r="1.4"/><circle cx="177.4" cy="111.8" r="1.4"/><path d="M176.3 120.37h2.2v1h-2.2z M176.9 119.77h1v2.2h-1z"/><circle cx="201.5" cy="113.6" r="1.4"/><path d="M200.4 119.81h2.2v1h-2.2z M201 119.21h1v2.2h-1z"/><circle cx="223" cy="117.8" r="1.4"/></g>
<g><rect x="41" y="132" width="1.2" height="7.4" fill="#111"/><rect x="54" y="132" width="1.2" height="7.4" fill="#111"/><rect x="65.9" y="132" width="1.4" height="7.4" fill="#777"/><rect x="69.5" y="132" width="1.9" height="7.4" fill="#111"/><rect x="72.7" y="132" width="1.2" height="7.4" fill="#777"/><rect x="77.7" y="132" width="1.4" height="7.4" fill="#111"/><rect x="80.9" y="132" width="1.8" height="7.4" fill="#111"/><rect x="88.2" y="132" width="2.3" height="7.4" fill="#777"/><rect x="90.9" y="132" width="2.7" height="7.4" fill="#111"/><rect x="99.1" y="132" width="1.2" height="7.4" fill="#111"/><rect x="102.8" y="132" width="1.2" height="7.4" fill="#777"/><rect x="105.9" y="132" width="4.1" height="7.4" fill="#111"/><rect x="112.3" y="132" width="1.8" height="7.4" fill="#777"/><rect x="119.1" y="132" width="1.4" height="7.4" fill="#777"/><rect x="120.9" y="132" width="3.2" height="7.4" fill="#111"/><rect x="127.3" y="132" width="1.3" height="7.4" fill="#111"/><rect x="132.7" y="132" width="5.9" height="7.4" fill="#111"/><rect x="139.5" y="132" width="2.8" height="7.4" fill="#111"/><rect x="144.1" y="132" width="5" height="7.4" fill="#111"/><rect x="153.2" y="132" width="1.8" height="7.4" fill="#111"/><rect x="157.7" y="132" width="3.7" height="7.4" fill="#777"/><rect x="161.4" y="132" width="2.7" height="7.4" fill="#111"/><rect x="165" y="132" width="83.3" height="7.4" fill="#111"/><rect x="174.2" y="132" width="1.2" height="7.4" fill="#bbb"/><rect x="193.8" y="132" width="1.2" height="7.4" fill="#bbb"/><rect x="206.4" y="132" width="1.2" height="7.4" fill="#bbb"/><rect x="208.7" y="132" width="1.2" height="7.4" fill="#bbb"/><rect x="218.6" y="132" width="1.2" height="7.4" fill="#bbb"/><rect x="234.6" y="132" width="1.2" height="7.4" fill="#bbb"/><rect x="245.2" y="132" width="1.2" height="7.4" fill="#bbb"/><rect x="82.2" y="139.4" width="1.4" height="5.2" fill="#111"/><rect x="90" y="139.4" width="1.4" height="5.2" fill="#111"/><rect x="99" y="139.4" width="1.4" height="5.2" fill="#111"/><rect x="109.5" y="139.4" width="1.4" height="5.2" fill="#111"/><rect x="122.2" y="139.4" width="1.4" height="5.2" fill="#111"/><rect x="138.2" y="139.4" width="1.4" height="5.2" fill="#111"/><rect x="142.7" y="139.4" width="1.4" height="5.2" fill="#111"/><rect x="148.6" y="139.4" width="1.4" height="5.2" fill="#111"/><rect x="154" y="139.4" width="1.4" height="5.2" fill="#111"/><rect x="159" y="139.4" width="1.4" height="5.2" fill="#777"/><rect x="166.3" y="139.4" width="1.4" height="5.2" fill="#111"/><rect x="175.9" y="139.4" width="1.4" height="5.2" fill="#111"/><rect x="181.8" y="139.4" width="1.4" height="5.2" fill="#111"/><rect x="186.8" y="139.4" width="1.4" height="5.2" fill="#111"/><rect x="191.3" y="139.4" width="1.4" height="5.2" fill="#111"/><rect x="201.3" y="139.4" width="1.4" height="5.2" fill="#111"/><rect x="208.1" y="139.4" width="1.4" height="5.2" fill="#111"/><rect x="215.9" y="139.4" width="1.4" height="5.2" fill="#777"/><rect x="223.6" y="139.4" width="1.9" height="5.2" fill="#111"/><rect x="227.3" y="139.4" width="1.4" height="5.2" fill="#111"/><rect x="230.9" y="139.4" width="1.4" height="5.2" fill="#111"/><rect x="235.4" y="139.4" width="1.4" height="5.2" fill="#111"/><rect x="241.8" y="139.4" width="1.4" height="5.2" fill="#111"/></g>
<text transform="translate(22.6 135.8) scale(0.8 1)" font-size="5.8" fill="#333" letter-spacing="1.3" font-family="Liberation Sans, sans-serif">NFPP</text>
<text transform="translate(22.6 143.6) scale(0.8 1)" font-size="5.8" fill="#333" letter-spacing="1.3" font-family="Liberation Sans, sans-serif">NFP</text>
<path d="M33.9 159.18 L34.5 158.73 L35.1 158.98 L35.7 158.78 L36.3 158.53 L36.9 159.22 L37.5 159.15 L38.1 158.22 L38.7 158.02 L39.3 158.45 L39.9 158.77 L40.5 158.05 L41.1 158.54 L41.7 159 L42.3 158.09 L42.9 159.52 L43.5 159.28 L44.1 158.71 L44.7 158.73 L45.3 158.88 L45.9 158.87 L46.5 159.68 L47.1 159.28 L47.7 159.37 L48.3 158.73 L48.9 160.15 L49.5 159.13 L50.1 159.18 L50.7 158.75 L51.3 160.43 L51.9 159.57 L52.5 160.39 L53.1 160.45 L53.7 160.56 L54.3 160.32 L54.9 160.55 L55.5 160.57 L56.1 160.39 L56.7 159.22 L57.3 159.94 L57.9 160.06 L58.5 160.84 L59.1 160.48 L59.7 160.36 L60.3 160.45 L60.9 159.78 L61.5 160.84 L62.1 160.32 L62.7 159.9 L63.3 160.03 L63.9 160.97 L64.5 160.18 L65.1 159.53 L65.7 159.51 L66.3 160.49 L66.9 160.28 L67.5 160.91 L68.1 159.62 L68.7 160.04 L69.3 160.62 L69.9 159.41 L70.5 159.51 L71.1 160.32 L71.7 159.82 L72.3 159.55 L72.9 159.83 L73.5 160.5 L74.1 160.32 L74.7 159.52 L75.3 159.52 L75.9 160.92 L76.5 160.55 L77.1 159.71 L77.7 160.95 L78.3 159.45 L78.9 160.07 L79.5 160.94 L80.1 160.69 L80.7 159.93 L81.3 161.02 L81.9 160.5 L82.5 160.98 L83.1 161.03 L83.7 160.19 L84.3 160.64 L84.9 160.41 L85.5 161.13 L86.1 160.86 L86.7 160.73 L87.3 160.89 L87.9 161.22 L88.5 159.89 L89.1 159.79 L89.7 160.77 L90.3 160.81 L90.9 160.35 L91.5 160.3 L92.1 160.15 L92.7 161.01 L93.3 160.85 L93.9 160.47 L94.5 159.49 L95.1 160.95 L95.7 160.24 L96.3 159.75 L96.9 159.95 L97.5 160.65 L98.1 159.42 L98.7 159.62 L99.3 159.95 L99.9 161 L100.5 160.74 L101.1 161.14 L101.7 160.37 L102.3 160.42 L102.9 160.38 L103.5 160.34 L104.1 160.36 L104.7 160.86 L105.3 161.1 L105.9 160.12 L106.5 160.52 L107.1 159.93 L107.7 159.92 L108.3 160.29 L108.9 160.43 L109.5 160.36 L110.1 161.13 L110.7 159.66 L111.3 160.51 L111.9 161.15 L112.5 160.69 L113.1 160.38 L113.7 160.02 L114.3 160.08 L114.9 161.04 L115.5 160.96 L116.1 160.55 L116.7 160.96 L117.3 161.01 L117.9 160.86 L118.5 160.03 L119.1 160.17 L119.7 160.77 L120.3 160 L120.9 160.68 L121.5 160.19 L122.1 159.93 L122.7 160.14 L123.3 159.53 L123.9 159.96 L124.5 160.06 L125.1 159.34 L125.7 159.62 L126.3 159.78 L126.9 160.85 L127.5 160.36 L128.1 159.82 L128.7 161.09 L129.3 159.76 L129.9 160.22 L130.5 160.62 L131.1 160.53 L131.7 160.06 L132.3 160.68 L132.9 160.15 L133.5 160.56 L134.1 160.16 L134.7 161.02 L135.3 160.55 L135.9 159.43 L136.5 159.49 L137.1 161 L137.7 159.67 L138.3 159.3 L138.9 159.7 L139.5 160.11 L140.1 160.96 L140.7 159.96 L141.3 160.54 L141.9 160.73 L142.5 159.39 L143.1 160.33 L143.7 161.02 L144.3 160.21 L144.9 160.18 L145.5 159.84 L146.1 160.89 L146.7 160.92 L147.3 159.43 L147.9 160.19 L148.5 159.96 L149.1 160.38 L149.7 159.48 L150.3 159.72 L150.9 159.74 L151.5 160.05 L152.1 160.52 L152.7 160.61 L153.3 160.49 L153.9 160.32 L154.5 159.48 L155.1 159.91 L155.7 160.29 L156.3 159.78 L156.9 160.06 L157.5 160.57 L158.1 159.56 L158.7 160.48 L159.3 159.55 L159.9 159.9 L160.5 160.52 L161.1 159.67 L161.7 160.05 L162.3 159.92 L162.9 160.48 L163.5 160.6 L164.1 159.76 L164.7 160 L165.3 160.48 L165.9 160.05 L166.5 159.65 L167.1 160.3 L167.7 159.79 L168.3 159.97 L168.9 159.39 L169.5 160.56 L170.1 160.16 L170.7 160.48 L171.3 160.53 L171.9 159.68 L172.5 160.01 L173.1 159.88 L173.7 160.26 L174.3 160.36 L174.9 159.62 L175.5 159.67 L176.1 160.19 L176.7 159.83 L177.3 159.49 L177.9 159.56 L178.5 160 L179.1 160.04 L179.7 160.47 L180.3 159.95 L180.9 160.04 L181.5 159.48 L182.1 159.8 L182.7 159.63 L183.3 160.13 L183.9 159.61 L184.5 159.54 L185.1 159.72 L185.7 159.84 L186.3 159.68 L186.9 160 L187.5 159.48 L188.1 160.32 L188.7 160.09 L189.3 159.9 L189.9 159.32 L190.5 159.64 L191.1 160.07 L191.7 160.01 L192.3 160.21 L192.9 160.3 L193.5 159.61 L194.1 159.82 L194.7 159.62 L195.3 159.37 L195.9 159.38 L196.5 159.52 L197.1 159.31 L197.7 159.85 L198.3 160.04 L198.9 159.87 L199.5 160.01 L200.1 159.46 L200.7 159.42 L201.3 159.86 L201.9 160.24 L202.5 159.68 L203.1 159.17 L203.7 159.19 L204.3 159.53 L204.9 159.9 L205.5 159.26 L206.1 159.42 L206.7 159.96 L207.3 160.32 L207.9 159.55 L208.5 159.86 L209.1 159.75 L209.7 159.15 L210.3 159.52 L210.9 159.29 L211.5 159.42 L212.1 160.04 L212.7 159.93 L213.3 159.15 L213.9 159.19 L214.5 159.97 L215.1 159.22 L215.7 159.47 L216.3 159.41 L216.9 159.14 L217.5 159.12 L218.1 159.24 L218.7 159.55 L219.3 160.19 L219.9 159.83 L220.5 159.35 L221.1 159.87 L221.7 159.38 L222.3 159.67 L222.9 159.43 L223.5 160.18 L224.1 159.46 L224.7 160 L225.3 159.8 L225.9 160.04 L226.5 159.75 L227.1 160.06 L227.7 159.5 L228.3 159.83 L228.9 159.75 L229.5 159.64 L230.1 159.68 L230.7 159.64 L231.3 159.47 L231.9 160.07 L232.5 159.75 L233.1 159.64 L233.7 159.05 L234.3 159.59 L234.9 159.18 L235.5 159.23 L236.1 159.49 L236.7 159.62 L237.3 159.26 L237.9 159.28 L238.5 159.59 L239.1 159.52 L239.7 159.43 L240.3 159.07 L240.9 159.39 L241.5 159.72 L242.1 159.59 L242.7 159.58 L243.3 159.94 L243.9 159.79 L244.5 159.74 L245.1 158.95 L245.7 159.28 L246.3 159.73 L246.9 159.09 L247.5 160 L248.1 159.07" fill="none" stroke="#11ee22" stroke-width="1.5" stroke-linejoin="round"/>
<path d="M40.8 155.3 L40.8 165.3 M54 158.23 L54 161.73 M66.8 154.67 L66.8 167.17 M69.2 156.21 L69.2 166.21 M81 158.32 L81 163.32 M108 158.28 L108 163.28 M133.6 152.67 L133.6 165.67 M138.6 156.15 L138.6 163.55 M140.2 144.14 L140.2 171.14 M141.4 154.14 L141.4 163.64 M154 157.07 L154 164.07 M177 157.93 L177 162.43 M201.3 157.78 L201.3 162.28 M223.7 157.64 L223.7 162.64 M237 157.56 L237 162.56" fill="none" stroke="#11ee22" stroke-width="1.3"/>
<rect x="21.6" y="5.3" width="227.2" height="166.7" fill="none" stroke="#111" stroke-width="1.4"/>
<path d="M21.6 172 V174.8 M41.7 172 V176.5 M62.41 172 V174.8 M83.12 172 V176.5 M103.83 172 V174.8 M124.54 172 V176.5 M145.25 172 V174.8 M165.96 172 V176.5 M186.67 172 V174.8 M207.38 172 V176.5 M228.09 172 V174.8 M248.8 172 V176.5" stroke="#111" stroke-width="1.4" fill="none"/>
<text x="41.7" y="189" font-size="11" fill="#1a1a1a" text-anchor="middle" font-family="Liberation Sans, sans-serif">10</text>
<text x="83.12" y="189" font-size="11" fill="#1a1a1a" text-anchor="middle" font-family="Liberation Sans, sans-serif">20</text>
<text x="124.54" y="189" font-size="11" fill="#1a1a1a" text-anchor="middle" font-family="Liberation Sans, sans-serif">30</text>
<text x="165.96" y="189" font-size="11" fill="#1a1a1a" text-anchor="middle" font-family="Liberation Sans, sans-serif">40</text>
<text x="207.38" y="189" font-size="11" fill="#1a1a1a" text-anchor="middle" font-family="Liberation Sans, sans-serif">50</text>
<text x="248.8" y="189" font-size="11" fill="#1a1a1a" text-anchor="middle" font-family="Liberation Sans, sans-serif">60</text>
<text x="114.6" y="17.9" font-size="12" font-weight="bold" fill="#111" letter-spacing="0.95" font-family="Liberation Sans, sans-serif">NFPP</text>
<circle cx="180.7" cy="52.8" r="1.4" fill="#111"/>
<path d="M168.2 65.5 H191.9" stroke="#ff3333" stroke-width="1.3"/>
<path d="M168.2 77.8 H191.9" stroke="#22ee44" stroke-width="2"/>
<text x="195.3" y="55.4" font-size="10" fill="#333" font-family="Liberation Sans, sans-serif">Observed</text>
<text x="195.3" y="68.2" font-size="10" fill="#333" font-family="Liberation Sans, sans-serif">Calculated</text>
<text x="195.3" y="81" font-size="10" fill="#333" font-family="Liberation Sans, sans-serif">Difference</text>
<text transform="translate(14.9 84.3) rotate(-90)" font-size="12.8" fill="#1a1a1a" text-anchor="middle" font-family="Liberation Sans, sans-serif">Intensity</text>
<text x="112.3" y="205.7" font-size="14" fill="#1a1a1a" font-family="Liberation Sans, sans-serif">2θ angle, <tspan font-size="11" dy="-6">°</tspan></text>
<text x="268.3" y="200.2" font-size="17" fill="#111" font-family="Liberation Sans, sans-serif">a</text>
<path d="M308.7 66.16 L309.2 67.26 L309.7 67.64 L310.2 68.74 L310.7 70.43 L311.2 71.44 L311.7 72.49 L312.2 73.33 L312.7 74.73 L313.2 75.91 L313.7 77.08 L314.2 77.85 L314.7 78.99 L315.2 79.65 L315.7 80.5 L316.2 81.49 L316.7 82.66 L317.2 83.97 L317.7 85.72 L318.2 87.32 L318.7 88.61 L319.2 89.79 L319.7 91.14 L320.2 91.9 L320.7 92.76 L321.2 93.94 L321.7 94.39 L322.2 95.13 L322.7 95.56 L323.2 96.06 L323.7 96.95 L324.2 97.42 L324.7 98.32 L325.2 99.29 L325.7 99.6 L326.2 99.76 L326.7 100.87 L327.2 101.33 L327.7 101.8 L328.2 102.46 L328.7 102.85 L329.2 103.38 L329.7 103.54 L330.2 104.56 L330.7 105.06 L331.2 104.94 L331.7 105.94 L332.2 106.43 L332.7 106.75 L333.2 107.32 L333.7 107.79 L334.2 108.63 L334.7 108.77 L335.2 109.5 L335.7 109.56 L336.2 110.41 L336.7 110.82 L337.2 110.85 L337.7 111.28 L338.2 111.87 L338.7 111.98 L339.2 111.97 L339.7 111.79 L340.2 111.67 L340.7 111.52 L341.2 110.54 L341.7 110.79 L342.2 110.39 L342.7 111.42 L343.2 111.55 L343.7 112.4 L344.2 112.12 L344.7 111.74 L345.2 111.77 L345.7 112.37 L346.2 113.18 L346.7 113.87 L347.2 114.48 L347.7 115.11 L348.2 115.63 L348.7 115.49 L349.2 115.22 L349.7 116.06 L350.2 116.28 L350.7 116.72 L351.2 116.39 L351.7 117.03 L352.2 116.63 L352.7 117.19 L353.2 116.86 L353.7 116.6 L354.2 116.64 L354.7 115.37 L355.2 115.15 L355.7 115.26 L356.2 115.18 L356.7 115.96 L357.2 117.4 L357.7 117.77 L358.2 118.49 L358.7 118.23 L359.2 118.67 L359.7 118.65 L360.2 119.16 L360.7 118.8 L361.2 119.6 L361.7 118.96 L362.2 119.62 L362.7 119.15 L363.2 119.44 L363.7 119.98 L364.2 119.56 L364.7 119.67 L365.2 120.17 L365.7 120.02 L366.2 119.84 L366.7 120.69 L367.2 120.11 L367.7 120.11 L368.2 120.45 L368.7 120.76 L369.2 120.95 L369.7 120.54 L370.2 120.81 L370.7 120.65 L371.2 121.06 L371.7 121.36 L372.2 121.31 L372.7 121.25 L373.2 120.7 L373.7 120.14 L374.2 119.32 L374.7 118.71 L375.2 118.56 L375.7 119.31 L376.2 119.43 L376.7 119.34 L377.2 119.38 L377.7 119.48 L378.2 119 L378.7 119.95 L379.2 120.63 L379.7 121.5 L380.2 121.68 L380.7 122.43 L381.2 121.59 L381.7 121.26 L382.2 120.39 L382.7 119.56 L383.2 119.99 L383.7 120.18 L384.2 120.92 L384.7 121.69 L385.2 122.34 L385.7 122.6 L386.2 123.13 L386.7 122.96 L387.2 123.06 L387.7 122.49 L388.2 121.8 L388.7 120.48 L389.2 120.3 L389.7 120.34 L390.2 121.27 L390.7 122.09 L391.2 122.84 L391.7 123.01 L392.2 122.46 L392.7 122.03 L393.2 121.37 L393.7 120.32 L394.2 120.1 L394.7 120.57 L395.2 120.63 L395.7 121.2 L396.2 120.62 L396.7 120.3 L397.2 120.47 L397.7 121.05 L398.2 121.82 L398.7 122.73 L399.2 122.98 L399.7 122.69 L400.2 122.4 L400.7 121.33 L401.2 121.36 L401.7 121.37 L402.2 121.68 L402.7 122.23 L403.2 123.06 L403.7 123.65 L404.2 123.53 L404.7 123.95 L405.2 124.09 L405.7 123.79 L406.2 123.6 L406.7 123.86 L407.2 122.97 L407.7 122.34 L408.2 121.95 L408.7 121.33 L409.2 121.26 L409.7 122.43 L410.2 122.65 L410.7 122.81 L411.2 123.31 L411.7 122.35 L412.2 121.78 L412.7 121.57 L413.2 121.12 L413.7 120.55 L414.2 120.89 L414.7 120.67 L415.2 120.42 L415.7 119.92 L416.2 120.11 L416.7 119.75 L417.2 120.13 L417.7 120.5 L418.2 121.19 L418.7 120.62 L419.2 121.26 L419.7 121.11 L420.2 121.98 L420.7 122.45 L421.2 122.81 L421.7 122.88 L422.2 122.1 L422.7 121.46 L423.2 121.46 L423.7 121.93 L424.2 123.33 L424.7 123.92 L425.2 124.69 L425.7 124.72 L426.2 124.18 L426.7 124.42 L427.2 123.98 L427.7 123.18 L428.2 122.28 L428.7 121.8 L429.2 122.06 L429.7 122.95 L430.2 123.24 L430.7 123.88 L431.2 123.81 L431.7 123.71 L432.2 122.9 L432.7 122.48 L433.2 122.37 L433.7 122.44 L434.2 123.17 L434.7 124.12 L435.2 124.44 L435.7 124.77 L436.2 124.87 L436.7 124.65 L437.2 123.71 L437.7 123.13 L438.2 122.01 L438.7 122.18 L439.2 123.19 L439.7 123.29 L440.2 124.26 L440.7 124.48 L441.2 124.7 L441.7 125.25 L442.2 124.91 L442.7 123.97 L443.2 122.79 L443.7 122.38 L444.2 122.29 L444.7 123.13 L445.2 123.93 L445.7 124.49 L446.2 125.1 L446.7 125.06 L447.2 125.54 L447.7 125.93 L448.2 125.79 L448.7 125.23 L449.2 125.44 L449.7 125.3 L450.2 124.38 L450.7 124.14 L451.2 123.05 L451.7 122.82 L452.2 122.59 L452.7 123.35 L453.2 123.37 L453.7 123.1 L454.2 122.49 L454.7 122.63 L455.2 122.58 L455.7 123.53 L456.2 124.1 L456.7 123.47 L457.2 123.33 L457.7 122.94 L458.2 122.9 L458.7 123.66 L459.2 124.63 L459.7 125.2 L460.2 125.54 L460.7 126.22 L461.2 125.82 L461.7 126.11 L462.2 125.83 L462.7 125.46 L463.2 124.84 L463.7 123.57 L464.2 123.34 L464.7 123.13 L465.2 123.83 L465.7 124.86 L466.2 125.33 L466.7 125.33 L467.2 125.88 L467.7 125.97 L468.2 125.7 L468.7 124.83 L469.2 124.2 L469.7 123.01 L470.2 123.71 L470.7 124.02 L471.2 124.7 L471.7 125.69 L472.2 126.2 L472.7 125.85 L473.2 126.5 L473.7 126.37 L474.2 125.62 L474.7 125.5 L475.2 124.61 L475.7 123.57 L476.2 123.69 L476.7 123.33 L477.2 124.35 L477.7 124.97 L478.2 125.4 L478.7 125.84 L479.2 125.5 L479.7 124.68 L480.2 124.54 L480.7 123.27 L481.2 123.17 L481.7 124.04 L482.2 125.1 L482.7 125.7 L483.2 126.29 L483.7 126.33 L484.2 126.51 L484.7 126.05 L485.2 125.55 L485.7 125.04 L486.2 123.88 L486.7 123.37 L487.2 123.86 L487.7 123.88 L488.2 125.11 L488.7 125.85 L489.2 125.97 L489.7 126.23 L490.2 125.98 L490.7 125.39 L491.2 124.04 L491.7 123.51 L492.2 123.63 L492.7 124.18 L493.2 124.82 L493.7 125.34 L494.2 126.29 L494.7 126.88 L495.2 126.45 L495.7 126.43 L496.2 125.91 L496.7 125.31 L497.2 124.86 L497.7 123.79 L498.2 123.9 L498.7 124.16 L499.2 124.94 L499.7 125.98 L500.2 125.79 L500.7 126.48 L501.2 125.75 L501.7 125.38 L502.2 124.73 L502.7 124.07 L503.2 123.82 L503.7 124.66 L504.2 124.84 L504.7 126.01 L505.2 126.34 L505.7 126.71 L506.2 126.99 L506.7 126.76 L507.2 126.18 L507.7 125.23 L508.2 124.39 L508.7 124.02 L509.2 123.79 L509.7 124.31 L510.2 125.62 L510.7 125.66 L511.2 126.66 L511.7 126.35 L512.2 126 L512.7 125.31 L513.2 124.35 L513.7 124.11 L514.2 123.83 L514.7 124.53 L515.2 125.19 L515.7 126.42 L516.2 126.97 L516.7 126.87 L517.2 127.14 L517.7 127.39 L518.2 126.83 L518.7 126.42 L519.2 126.08 L519.7 125.34 L520.2 124.96 L520.7 124.16 L521.2 124.1 L521.7 124.94 L522.2 125.26 L522.7 126.47" fill="none" stroke="#111" stroke-width="3.4" stroke-linejoin="round"/>
<path d="M308.7 65.86 L309.2 66.96 L309.7 67.34 L310.2 68.44 L310.7 70.13 L311.2 71.14 L311.7 72.19 L312.2 73.03 L312.7 74.43 L313.2 75.61 L313.7 76.78 L314.2 77.55 L314.7 78.69 L315.2 79.35 L315.7 80.2 L316.2 81.19 L316.7 82.36 L317.2 83.67 L317.7 85.42 L318.2 87.02 L318.7 88.31 L319.2 89.49 L319.7 90.84 L320.2 91.6 L320.7 92.46 L321.2 93.64 L321.7 94.09 L322.2 94.83 L322.7 95.26 L323.2 95.76 L323.7 96.65 L324.2 97.12 L324.7 98.02 L325.2 98.99 L325.7 99.3 L326.2 99.46 L326.7 100.57 L327.2 101.03 L327.7 101.5 L328.2 102.16 L328.7 102.55 L329.2 103.08 L329.7 103.24 L330.2 104.26 L330.7 104.76 L331.2 104.64 L331.7 105.64 L332.2 106.13 L332.7 106.45 L333.2 107.02 L333.7 107.49 L334.2 108.33 L334.7 108.47 L335.2 109.2 L335.7 109.26 L336.2 110.11 L336.7 110.52 L337.2 110.55 L337.7 110.98 L338.2 111.57 L338.7 111.68 L339.2 111.67 L339.7 111.49 L340.2 111.37 L340.7 111.22 L341.2 110.24 L341.7 110.49 L342.2 110.09 L342.7 111.12 L343.2 111.25 L343.7 112.1 L344.2 111.82 L344.7 111.44 L345.2 111.47 L345.7 112.07 L346.2 112.88 L346.7 113.57 L347.2 114.18 L347.7 114.81 L348.2 115.33 L348.7 115.19 L349.2 114.92 L349.7 115.76 L350.2 115.98 L350.7 116.42 L351.2 116.09 L351.7 116.73 L352.2 116.33 L352.7 116.89 L353.2 116.56" fill="none" stroke="#111" stroke-width="4.6" stroke-linecap="round" stroke-linejoin="round"/>
<path d="M308.05 63.85h1.3v1.3h-1.3zM308.95 65.69h1.3v1.3h-1.3zM309.85 69.86h1.3v1.3h-1.3zM310.75 69.47h1.3v1.3h-1.3zM311.65 76.23h1.3v1.3h-1.3zM312.55 72.15h1.3v1.3h-1.3zM313.45 74.32h1.3v1.3h-1.3zM314.35 78.78h1.3v1.3h-1.3zM315.25 82.94h1.3v1.3h-1.3zM316.15 80.95h1.3v1.3h-1.3zM317.05 85.14h1.3v1.3h-1.3zM317.95 84.19h1.3v1.3h-1.3zM318.85 93.09h1.3v1.3h-1.3zM319.75 90.46h1.3v1.3h-1.3zM320.65 94.71h1.3v1.3h-1.3zM321.55 94.22h1.3v1.3h-1.3zM322.45 93.61h1.3v1.3h-1.3zM323.35 94.82h1.3v1.3h-1.3zM324.25 96.6h1.3v1.3h-1.3zM325.15 100.35h1.3v1.3h-1.3zM326.05 102.11h1.3v1.3h-1.3zM326.95 105.16h1.3v1.3h-1.3zM327.85 100.46h1.3v1.3h-1.3zM328.75 104.44h1.3v1.3h-1.3zM329.65 104.6h1.3v1.3h-1.3zM330.55 103.8h1.3v1.3h-1.3zM331.45 106.48h1.3v1.3h-1.3zM332.35 106.19h1.3v1.3h-1.3zM333.25 109.1h1.3v1.3h-1.3zM334.15 108.52h1.3v1.3h-1.3zM335.05 106.31h1.3v1.3h-1.3zM335.95 113.09h1.3v1.3h-1.3zM336.85 112.85h1.3v1.3h-1.3zM337.75 108.82h1.3v1.3h-1.3zM338.65 109.14h1.3v1.3h-1.3zM339.55 112.1h1.3v1.3h-1.3zM340.45 110.57h1.3v1.3h-1.3zM341.35 113.44h1.3v1.3h-1.3zM342.25 109.49h1.3v1.3h-1.3zM343.15 112.4h1.3v1.3h-1.3zM344.05 110.38h1.3v1.3h-1.3zM344.95 110.63h1.3v1.3h-1.3zM345.85 111.24h1.3v1.3h-1.3zM346.75 118.26h1.3v1.3h-1.3zM347.65 115.54h1.3v1.3h-1.3zM348.55 115.5h1.3v1.3h-1.3zM349.45 115.8h1.3v1.3h-1.3zM350.35 117.29h1.3v1.3h-1.3zM351.25 114.97h1.3v1.3h-1.3zM352.15 117.13h1.3v1.3h-1.3zM353.05 115.37h1.3v1.3h-1.3zM353.95 115.92h1.3v1.3h-1.3zM354.85 114.42h1.3v1.3h-1.3zM355.75 116.67h1.3v1.3h-1.3zM356.65 116.02h1.3v1.3h-1.3zM357.55 118.66h1.3v1.3h-1.3zM358.45 118.15h1.3v1.3h-1.3zM359.35 117.9h1.3v1.3h-1.3zM360.25 119.97h1.3v1.3h-1.3zM361.15 120.55h1.3v1.3h-1.3zM362.05 117h1.3v1.3h-1.3zM362.95 119.95h1.3v1.3h-1.3zM363.85 120.22h1.3v1.3h-1.3zM364.75 120.49h1.3v1.3h-1.3zM365.65 120.19h1.3v1.3h-1.3zM366.55 118.84h1.3v1.3h-1.3zM367.45 120.09h1.3v1.3h-1.3zM368.35 118.43h1.3v1.3h-1.3zM369.25 116.97h1.3v1.3h-1.3zM370.15 122.93h1.3v1.3h-1.3zM371.05 119.44h1.3v1.3h-1.3zM371.95 121.19h1.3v1.3h-1.3zM372.85 118.71h1.3v1.3h-1.3zM373.75 117.57h1.3v1.3h-1.3zM374.65 119.03h1.3v1.3h-1.3zM375.55 117.55h1.3v1.3h-1.3zM376.45 117.56h1.3v1.3h-1.3zM377.35 117.76h1.3v1.3h-1.3zM378.25 123.13h1.3v1.3h-1.3zM379.15 120.62h1.3v1.3h-1.3zM380.05 122.13h1.3v1.3h-1.3zM380.95 119.55h1.3v1.3h-1.3zM381.85 118.21h1.3v1.3h-1.3zM382.75 120.22h1.3v1.3h-1.3zM383.65 121.35h1.3v1.3h-1.3zM384.55 122.13h1.3v1.3h-1.3zM385.45 122.99h1.3v1.3h-1.3zM386.35 122.15h1.3v1.3h-1.3zM387.25 122.88h1.3v1.3h-1.3zM388.15 119.24h1.3v1.3h-1.3zM389.05 120.3h1.3v1.3h-1.3zM389.95 120.94h1.3v1.3h-1.3zM390.85 121.41h1.3v1.3h-1.3zM391.75 123.83h1.3v1.3h-1.3zM392.65 121.12h1.3v1.3h-1.3zM393.55 119.86h1.3v1.3h-1.3zM394.45 119.8h1.3v1.3h-1.3zM395.35 120.88h1.3v1.3h-1.3zM396.25 121.04h1.3v1.3h-1.3zM397.15 122.19h1.3v1.3h-1.3zM398.05 124.74h1.3v1.3h-1.3zM398.95 124.01h1.3v1.3h-1.3zM399.85 120.97h1.3v1.3h-1.3zM400.75 119.99h1.3v1.3h-1.3zM401.65 121.71h1.3v1.3h-1.3zM402.55 121.87h1.3v1.3h-1.3zM403.45 121.67h1.3v1.3h-1.3zM404.35 123.58h1.3v1.3h-1.3zM405.25 124.28h1.3v1.3h-1.3zM406.15 123.97h1.3v1.3h-1.3zM407.05 122.42h1.3v1.3h-1.3zM407.95 120.92h1.3v1.3h-1.3zM408.85 123.06h1.3v1.3h-1.3zM409.75 121.24h1.3v1.3h-1.3zM410.65 120.65h1.3v1.3h-1.3zM411.55 121.03h1.3v1.3h-1.3zM412.45 120.84h1.3v1.3h-1.3zM413.35 119.83h1.3v1.3h-1.3zM414.25 119.34h1.3v1.3h-1.3zM415.15 119.5h1.3v1.3h-1.3zM416.05 119.87h1.3v1.3h-1.3zM416.95 120.28h1.3v1.3h-1.3zM417.85 120.37h1.3v1.3h-1.3zM418.75 120.88h1.3v1.3h-1.3zM419.65 121.66h1.3v1.3h-1.3zM420.55 123.34h1.3v1.3h-1.3zM421.45 119.94h1.3v1.3h-1.3zM422.35 119.4h1.3v1.3h-1.3zM423.25 123.49h1.3v1.3h-1.3zM424.15 122.2h1.3v1.3h-1.3zM425.05 121.24h1.3v1.3h-1.3zM425.95 123.6h1.3v1.3h-1.3zM426.85 122.96h1.3v1.3h-1.3zM427.75 121.91h1.3v1.3h-1.3zM428.65 122.24h1.3v1.3h-1.3zM429.55 121.24h1.3v1.3h-1.3zM430.45 123.51h1.3v1.3h-1.3zM431.35 123.42h1.3v1.3h-1.3zM432.25 121.03h1.3v1.3h-1.3zM433.15 123.31h1.3v1.3h-1.3zM434.05 122.39h1.3v1.3h-1.3zM434.95 124.7h1.3v1.3h-1.3zM435.85 124.52h1.3v1.3h-1.3zM436.75 120.59h1.3v1.3h-1.3zM437.65 120.38h1.3v1.3h-1.3zM438.55 121.62h1.3v1.3h-1.3zM439.45 123.1h1.3v1.3h-1.3zM440.35 126.33h1.3v1.3h-1.3zM441.25 125.02h1.3v1.3h-1.3zM442.15 122.97h1.3v1.3h-1.3zM443.05 121.35h1.3v1.3h-1.3zM443.95 120.44h1.3v1.3h-1.3zM444.85 123.45h1.3v1.3h-1.3zM445.75 124.32h1.3v1.3h-1.3zM446.65 124.11h1.3v1.3h-1.3zM447.55 124.67h1.3v1.3h-1.3zM448.45 125.35h1.3v1.3h-1.3zM449.35 125.66h1.3v1.3h-1.3zM450.25 121.83h1.3v1.3h-1.3zM451.15 120.64h1.3v1.3h-1.3zM452.05 122.21h1.3v1.3h-1.3zM452.95 120.56h1.3v1.3h-1.3zM453.85 121.66h1.3v1.3h-1.3zM454.75 122.56h1.3v1.3h-1.3zM455.65 123.48h1.3v1.3h-1.3zM456.55 120.46h1.3v1.3h-1.3zM457.45 123.11h1.3v1.3h-1.3zM458.35 121.91h1.3v1.3h-1.3zM459.25 125.4h1.3v1.3h-1.3zM460.15 125.42h1.3v1.3h-1.3zM461.05 126.59h1.3v1.3h-1.3zM461.95 125.78h1.3v1.3h-1.3zM462.85 122.7h1.3v1.3h-1.3zM463.75 122.3h1.3v1.3h-1.3zM464.65 126.37h1.3v1.3h-1.3zM465.55 123.66h1.3v1.3h-1.3zM466.45 126.33h1.3v1.3h-1.3zM467.35 124.15h1.3v1.3h-1.3zM468.25 123.54h1.3v1.3h-1.3zM469.15 123.48h1.3v1.3h-1.3zM470.05 124.03h1.3v1.3h-1.3zM470.95 122.92h1.3v1.3h-1.3zM471.85 124.99h1.3v1.3h-1.3zM472.75 128.13h1.3v1.3h-1.3zM473.65 123.99h1.3v1.3h-1.3zM474.55 123.38h1.3v1.3h-1.3zM475.45 121.18h1.3v1.3h-1.3zM476.35 124.29h1.3v1.3h-1.3zM477.25 122.95h1.3v1.3h-1.3zM478.15 125.61h1.3v1.3h-1.3zM479.05 125.61h1.3v1.3h-1.3zM479.95 124.34h1.3v1.3h-1.3zM480.85 122.79h1.3v1.3h-1.3zM481.75 127.11h1.3v1.3h-1.3zM482.65 125.75h1.3v1.3h-1.3zM483.55 126.78h1.3v1.3h-1.3zM484.45 124.03h1.3v1.3h-1.3zM485.35 123.63h1.3v1.3h-1.3zM486.25 120.28h1.3v1.3h-1.3zM487.15 123.2h1.3v1.3h-1.3zM488.05 125.59h1.3v1.3h-1.3zM488.95 127.43h1.3v1.3h-1.3zM489.85 124h1.3v1.3h-1.3zM490.75 121.44h1.3v1.3h-1.3zM491.65 121.89h1.3v1.3h-1.3zM492.55 124.76h1.3v1.3h-1.3zM493.45 124.75h1.3v1.3h-1.3zM494.35 127.03h1.3v1.3h-1.3zM495.25 125.6h1.3v1.3h-1.3zM496.15 125.33h1.3v1.3h-1.3zM497.05 122.52h1.3v1.3h-1.3zM497.95 123.52h1.3v1.3h-1.3zM498.85 123.18h1.3v1.3h-1.3zM499.75 125.86h1.3v1.3h-1.3zM500.65 124.88h1.3v1.3h-1.3zM501.55 124.53h1.3v1.3h-1.3zM502.45 121.33h1.3v1.3h-1.3zM503.35 122.73h1.3v1.3h-1.3zM504.25 125.79h1.3v1.3h-1.3zM505.15 127.69h1.3v1.3h-1.3zM506.05 124.52h1.3v1.3h-1.3zM506.95 122.79h1.3v1.3h-1.3zM507.85 123.15h1.3v1.3h-1.3zM508.75 122.56h1.3v1.3h-1.3zM509.65 125.37h1.3v1.3h-1.3zM510.55 127.95h1.3v1.3h-1.3zM511.45 125.5h1.3v1.3h-1.3zM512.35 124.52h1.3v1.3h-1.3zM513.25 123.95h1.3v1.3h-1.3zM514.15 123.49h1.3v1.3h-1.3zM515.05 125.05h1.3v1.3h-1.3zM515.95 127.19h1.3v1.3h-1.3zM516.85 126.33h1.3v1.3h-1.3zM517.75 128.18h1.3v1.3h-1.3zM518.65 124.8h1.3v1.3h-1.3zM519.55 125.24h1.3v1.3h-1.3zM520.45 121.54h1.3v1.3h-1.3zM521.35 125.61h1.3v1.3h-1.3zM522.25 127.39h1.3v1.3h-1.3z" fill="#111"/>
<path d="M308.7 67 L308.95 67.55 L309.2 68.09 L309.45 68.64 L309.7 69.17 L309.95 69.71 L310.2 70.25 L310.45 70.78 L310.7 71.32 L310.95 71.86 L311.2 72.4 L311.45 72.95 L311.7 73.5 L311.95 74.06 L312.2 74.61 L312.45 75.17 L312.7 75.73 L312.95 76.28 L313.2 76.81 L313.45 77.33 L313.7 77.82 L313.95 78.26 L314.2 78.63 L314.45 78.93 L314.7 79.14 L314.95 79.3 L315.2 79.4 L315.45 79.5 L315.7 79.6 L315.95 78.28 L316.2 63.52 L316.45 36.62 L316.7 52.32 L316.95 77.43 L317.2 82.98 L317.45 84.22 L317.7 85.31 L317.95 86.41 L318.2 87.46 L318.45 88.45 L318.7 89.34 L318.95 90.13 L319.2 90.84 L319.45 91.46 L319.7 92.02 L319.95 92.52 L320.2 92.99 L320.45 93.42 L320.7 93.83 L320.95 94.23 L321.2 94.61 L321.45 94.98 L321.7 95.34 L321.95 95.7 L322.2 96.05 L322.45 96.4 L322.7 96.73 L322.95 97.07 L323.2 97.39 L323.45 97.71 L323.7 98.03 L323.95 98.34 L324.2 98.64 L324.45 98.94 L324.7 99.24 L324.95 99.53 L325.2 99.81 L325.45 100.09 L325.7 100.37 L325.95 100.65 L326.2 100.92 L326.45 101.18 L326.7 101.45 L326.95 101.71 L327.2 101.97 L327.45 102.23 L327.7 102.49 L327.95 102.74 L328.2 103 L328.45 103.25 L328.7 103.5 L328.95 103.75 L329.2 104 L329.45 104.25 L329.7 104.5 L329.95 104.75 L330.2 105.01 L330.45 105.26 L330.7 105.52 L330.95 105.77 L331.2 106.03 L331.45 106.29 L331.7 106.55 L331.95 106.8 L332.2 107.06 L332.45 107.31 L332.7 107.57 L332.95 107.82 L333.2 108.07 L333.45 108.32 L333.7 108.57 L333.95 108.81 L334.2 109.05 L334.45 109.29 L334.7 109.52 L334.95 109.75 L335.2 109.98 L335.45 110.2 L335.7 110.41 L335.95 110.62 L336.2 110.83 L336.45 111.03 L336.7 111.22 L336.95 111.41 L337.2 111.59 L337.45 111.76 L337.7 111.91 L337.95 112.06 L338.2 112.18 L338.45 112.28 L338.7 112.35 L338.95 112.38 L339.2 112.36 L339.45 112.26 L339.7 112.09 L339.95 111.83 L340.2 111.48 L340.45 111.06 L340.7 110.58 L340.95 110.1 L341.2 109.63 L341.45 107.97 L341.7 95.01 L341.95 71.84 L342.2 84.53 L342.45 105.14 L342.7 109.26 L342.95 109.72 L343.2 109.99 L343.45 110.19 L343.7 110.3 L343.95 110.31 L344.2 110.24 L344.45 110.04 L344.7 106.78 L344.95 83.7 L345.2 57.39 L345.45 84.08 L345.7 107.57 L345.95 111.29 L346.2 112.02 L346.45 112.69 L346.7 113.35 L346.95 113.97 L347.2 114.52 L347.45 114.99 L347.7 115.37 L347.95 115.66 L348.2 115.89 L348.45 116.05 L348.7 116.06 L348.95 115.93 L349.2 116.17 L349.45 116.48 L349.7 116.62 L349.95 116.71 L350.2 116.8 L350.45 116.9 L350.7 116.98 L350.95 117.07 L351.2 117.15 L351.45 117.22 L351.7 117.28 L351.95 117.33 L352.2 117.35 L352.45 117.35 L352.7 117.3 L352.95 117.19 L353.2 117.02 L353.45 116.76 L353.7 116.42 L353.95 116 L354.2 115.51 L354.45 114.98 L354.7 114.46 L354.95 113.96 L355.2 112.79 L355.45 106.73 L355.7 100 L355.95 106.85 L356.2 113.03 L356.45 114.32 L356.7 114.93 L356.95 115.57 L357.2 116.22 L357.45 116.83 L357.7 117.37 L357.95 117.83 L358.2 118.2 L358.45 118.5 L358.7 118.73 L358.95 118.9 L359.2 119.03 L359.45 119.13 L359.7 119.2 L359.95 119.27 L360.2 119.33 L360.45 119.38 L360.7 119.44 L360.95 119.48 L361.2 119.53 L361.45 119.58 L361.7 119.63 L361.95 119.67 L362.2 119.72 L362.45 119.77 L362.7 119.81 L362.95 119.86 L363.2 119.9 L363.45 119.95 L363.7 119.99 L363.95 120.04 L364.2 120.08 L364.45 120.12 L364.7 120.17 L364.95 120.21 L365.2 120.25 L365.45 120.29 L365.7 120.34 L365.95 120.38 L366.2 120.42 L366.45 120.46 L366.7 120.5 L366.95 120.55 L367.2 120.59 L367.45 120.63 L367.7 120.67 L367.95 120.71 L368.2 120.75 L368.45 120.79 L368.7 120.84 L368.95 120.88 L369.2 120.92 L369.45 120.96 L369.7 121 L369.95 121.04 L370.2 121.08 L370.45 121.11 L370.7 121.14 L370.95 121.16 L371.2 121.17 L371.45 121.16 L371.7 121.11 L371.95 121.03 L372.2 120.88 L372.45 120.66 L372.7 120.36 L372.95 119.98 L373.2 119.51 L373.45 118.99 L373.7 118.43 L373.95 117.89 L374.2 117.34 L374.45 115.36 L374.7 106.66 L374.95 101.36 L375.2 111.05 L375.45 116.59 L375.7 117.52 L375.95 117.99 L376.2 118.47 L376.45 118.92 L376.7 119.31 L376.95 119.64 L377.2 119.89 L377.45 119.96 L377.7 118.89 L377.95 116.81 L378.2 118.19 L378.45 120.35 L378.7 120.92 L378.95 121.14 L379.2 121.35 L379.45 121.53 L379.7 121.67 L379.95 121.76 L380.2 121.76 L380.45 121.67 L380.7 121.48 L380.95 121.18 L381.2 120.77 L381.45 120.29 L381.7 119.75 L381.95 119.19 L382.2 118.66 L382.45 117.47 L382.7 109.56 L382.95 95.62 L383.2 103.29 L383.45 115.81 L383.7 118.54 L383.95 119.18 L384.2 119.78 L384.45 120.39 L384.7 120.97 L384.95 121.49 L385.2 121.92 L385.45 122.26 L385.7 122.49 L385.95 122.63 L386.2 122.68 L386.45 122.63 L386.7 122.49 L386.95 122.25 L387.2 121.91 L387.45 121.48 L387.7 120.97 L387.95 120.41 L388.2 119.83 L388.45 119.28 L388.7 118.55 L388.95 114.57 L389.2 104.62 L389.45 106.43 L389.7 116 L389.95 118.82 L390.2 119.45 L390.45 120 L390.7 120.54 L390.95 121.04 L391.2 121.43 L391.45 121.68 L391.7 121.78 L391.95 121.71 L392.2 121.48 L392.45 121.11 L392.7 120.64 L392.95 120.11 L393.2 119.56 L393.45 118.93 L393.7 116.03 L393.95 106.24 L394.2 104.3 L394.45 114.26 L394.7 118.09 L394.95 118.54 L395.2 118.74 L395.45 118.91 L395.7 119.03 L395.95 119.1 L396.2 119.13 L396.45 118.83 L396.7 115.77 L396.95 110.24 L397.2 113.54 L397.45 118.84 L397.7 120.15 L397.95 120.62 L398.2 121.06 L398.45 121.47 L398.7 121.81 L398.95 122.05 L399.2 122.15 L399.45 122.12 L399.7 121.95 L399.95 121.67 L400.2 121.31 L400.45 120.91 L400.7 120.51 L400.95 119.86 L401.2 116.47 L401.45 110.65 L401.7 113.86 L401.95 119.15 L402.2 120.44 L402.45 120.91 L402.7 121.39 L402.95 121.88 L403.2 122.35 L403.45 122.77 L403.7 123.12 L403.95 123.41 L404.2 123.62 L404.45 123.77 L404.7 123.87 L404.95 123.92 L405.2 123.93 L405.45 123.89 L405.7 123.8 L405.95 123.64 L406.2 123.41 L406.45 123.09 L406.7 122.66 L406.95 122.13 L407.2 121.49 L407.45 120.77 L407.7 119.99 L407.95 119.17 L408.2 117.72 L408.45 108.2 L408.7 83.97 L408.95 87.7 L409.2 109.76 L409.45 115.25 L409.7 115.19 L409.95 114.77 L410.2 114.28 L410.45 113.7 L410.7 113 L410.95 112.2 L411.2 111.33 L411.45 110.41 L411.7 109.48 L411.95 108.61 L412.2 107.81 L412.45 107.13 L412.7 106.58 L412.95 106.18 L413.2 105.91 L413.45 105.78 L413.7 105.78 L413.95 105.89 L414.2 106.09 L414.45 106.4 L414.7 106.48 L414.95 99.46 L415.2 60.15 L415.45 36.15 L415.7 81.93 L415.95 107.55 L416.2 110.92 L416.45 111.76 L416.7 110.36 L416.95 94.9 L417.2 77.04 L417.45 96.39 L417.7 113.3 L417.95 116.09 L418.2 116.63 L418.45 117.01 L418.7 117.33 L418.95 117.25 L419.2 113.69 L419.45 107.01 L419.7 111.28 L419.95 117.98 L420.2 119.67 L420.45 120.25 L420.7 120.75 L420.95 121.17 L421.2 121.5 L421.45 121.72 L421.7 121.82 L421.95 121.83 L422.2 121.77 L422.45 121.47 L422.7 119.16 L422.95 115.06 L423.2 117.41 L423.45 121.24 L423.7 122.19 L423.95 122.53 L424.2 122.88 L424.45 123.23 L424.7 123.55 L424.95 123.83 L425.2 124.05 L425.45 124.19 L425.7 124.25 L425.95 124.21 L426.2 124.08 L426.45 123.85 L426.7 123.52 L426.95 123.09 L427.2 122.58 L427.45 122.01 L427.7 121.43 L427.95 120.88 L428.2 120.16 L428.45 116.52 L428.7 107.47 L428.95 109.11 L429.2 117.79 L429.45 120.38 L429.7 120.98 L429.95 121.52 L430.2 122.07 L430.45 122.56 L430.7 122.98 L430.95 123.29 L431.2 123.48 L431.45 123.56 L431.7 123.56 L431.95 123.49 L432.2 123.39 L432.45 123.15 L432.7 121.67 L432.95 119.09 L433.2 120.54 L433.45 122.91 L433.7 123.49 L433.95 123.71 L434.2 123.92 L434.45 124.14 L434.7 124.34 L434.95 124.52 L435.2 124.65 L435.45 124.74 L435.7 124.78 L435.95 124.77 L436.2 124.71 L436.45 124.6 L436.7 124.45 L436.95 124.27 L437.2 124.06 L437.45 123.85 L437.7 123.65 L437.95 123.34 L438.2 121.75 L438.45 119.02 L438.7 120.52 L438.95 123 L439.2 123.61 L439.45 123.84 L439.7 124.06 L439.95 124.29 L440.2 124.51 L440.45 124.7 L440.7 124.85 L440.95 124.96 L441.2 125.03 L441.45 125.05 L441.7 125.02 L441.95 124.96 L442.2 124.86 L442.45 124.74 L442.7 124.6 L442.95 124.46 L443.2 124.32 L443.45 124.1 L443.7 122.99 L443.95 121.08 L444.2 122.14 L444.45 123.88 L444.7 124.31 L444.95 124.47 L445.2 124.64 L445.45 124.81 L445.7 124.97 L445.95 125.11 L446.2 125.23 L446.45 125.33 L446.7 125.41 L446.95 125.47 L447.2 125.51 L447.45 125.53 L447.7 125.55 L447.95 125.55 L448.2 125.53 L448.45 125.5 L448.7 125.44 L448.95 125.34 L449.2 125.2 L449.45 125.01 L449.7 124.76 L449.95 124.44 L450.2 124.08 L450.45 123.68 L450.7 123.26 L450.95 122.87 L451.2 122.38 L451.45 120.18 L451.7 114.8 L451.95 115.73 L452.2 120.83 L452.45 122.34 L452.7 122.67 L452.95 122.96 L453.2 123.26 L453.45 123.52 L453.7 123.75 L453.95 123.93 L454.2 123.91 L454.45 122.8 L454.7 121.5 L454.95 123.01 L455.2 124.35 L455.45 124.62 L455.7 124.72 L455.95 124.79 L456.2 124.84 L456.45 124.86 L456.7 124.85 L456.95 124.82 L457.2 124.77 L457.45 124.64 L457.7 123.69 L457.95 122.03 L458.2 122.99 L458.45 124.54 L458.7 124.93 L458.95 125.08 L459.2 125.23 L459.45 125.37 L459.7 125.52 L459.95 125.64 L460.2 125.75 L460.45 125.83 L460.7 125.9 L460.95 125.94 L461.2 125.96 L461.45 125.97 L461.7 125.95 L461.95 125.92 L462.2 125.87 L462.45 125.8 L462.7 125.7 L462.95 125.6 L463.2 125.48 L463.45 125.36 L463.7 125.25 L463.95 125.08 L464.2 124.19 L464.45 122.67 L464.7 123.51 L464.95 124.9 L465.2 125.24 L465.45 125.37 L465.7 125.5 L465.95 125.63 L466.2 125.75 L466.45 125.86 L466.7 125.94 L466.95 126 L467.2 126.03 L467.45 126.03 L467.7 126 L467.95 125.95 L468.2 125.87 L468.45 125.78 L468.7 125.67 L468.95 125.57 L469.2 125.46 L469.45 125.3 L469.7 124.48 L469.95 123.06 L470.2 123.85 L470.45 125.14 L470.7 125.46 L470.95 125.57 L471.2 125.69 L471.45 125.82 L471.7 125.93 L471.95 126.03 L472.2 126.11 L472.45 126.17 L472.7 126.21 L472.95 126.21 L473.2 126.19 L473.45 126.12 L473.7 126.02 L473.95 125.87 L474.2 125.67 L474.45 125.41 L474.7 125.12 L474.95 124.8 L475.2 124.47 L475.45 124.15 L475.7 123.77 L475.95 122.01 L476.2 117.7 L476.45 118.48 L476.7 122.63 L476.95 123.9 L477.2 124.23 L477.45 124.55 L477.7 124.87 L477.95 125.17 L478.2 125.42 L478.45 125.61 L478.7 125.74 L478.95 125.79 L479.2 125.78 L479.45 125.72 L479.7 125.61 L479.95 125.49 L480.2 125.37 L480.45 125.15 L480.7 124.02 L480.95 122.08 L481.2 123.15 L481.45 124.92 L481.7 125.35 L481.95 125.51 L482.2 125.67 L482.45 125.83 L482.7 125.99 L482.95 126.12 L483.2 126.24 L483.45 126.32 L483.7 126.38 L483.95 126.41 L484.2 126.41 L484.45 126.39 L484.7 126.34 L484.95 126.27 L485.2 126.18 L485.45 126.07 L485.7 125.95 L485.95 125.82 L486.2 125.71 L486.45 125.53 L486.7 124.62 L486.95 123.07 L487.2 123.92 L487.45 125.33 L487.7 125.67 L487.95 125.79 L488.2 125.92 L488.45 126.04 L488.7 126.15 L488.95 126.23 L489.2 126.28 L489.45 126.3 L489.7 126.29 L489.95 126.23 L490.2 126.15 L490.45 126.03 L490.7 125.9 L490.95 125.76 L491.2 125.63 L491.45 125.42 L491.7 124.38 L491.95 122.58 L492.2 123.57 L492.45 125.2 L492.7 125.6 L492.95 125.74 L493.2 125.89 L493.45 126.04 L493.7 126.18 L493.95 126.31 L494.2 126.41 L494.45 126.48 L494.7 126.53 L494.95 126.54 L495.2 126.52 L495.45 126.46 L495.7 126.37 L495.95 126.24 L496.2 126.07 L496.45 125.86 L496.7 125.64 L496.95 125.4 L497.2 125.17 L497.45 124.93 L497.7 124.03 L497.95 121.06 L498.2 120.51 L498.45 123.6 L498.7 124.87 L498.95 125.15 L499.2 125.38 L499.45 125.61 L499.7 125.83 L499.95 126.03 L500.2 126.18 L500.45 126.28 L500.7 126.33 L500.95 126.33 L501.2 126.29 L501.45 126.21 L501.7 126.11 L501.95 125.99 L502.2 125.88 L502.45 125.69 L502.7 124.73 L502.95 123.07 L503.2 123.98 L503.45 125.49 L503.7 125.86 L503.95 125.99 L504.2 126.13 L504.45 126.27 L504.7 126.4 L504.95 126.52 L505.2 126.62 L505.45 126.69 L505.7 126.74 L505.95 126.76 L506.2 126.77 L506.45 126.74 L506.7 126.7 L506.95 126.63 L507.2 126.54 L507.45 126.43 L507.7 126.32 L507.95 126.2 L508.2 126.09 L508.45 125.92 L508.7 125.05 L508.95 123.57 L509.2 124.38 L509.45 125.73 L509.7 126.06 L509.95 126.18 L510.2 126.3 L510.45 126.41 L510.7 126.52 L510.95 126.6 L511.2 126.65 L511.45 126.67 L511.7 126.66 L511.95 126.6 L512.2 126.52 L512.45 126.41 L512.7 126.28 L512.95 126.15 L513.2 126.03 L513.45 125.83 L513.7 124.82 L513.95 123.08 L514.2 124.03 L514.45 125.61 L514.7 126 L514.95 126.14 L515.2 126.29 L515.45 126.43 L515.7 126.58 L515.95 126.7 L516.2 126.81 L516.45 126.89 L516.7 126.96 L516.95 127 L517.2 127.03 L517.45 127.04 L517.7 127.03 L517.95 127.01 L518.2 126.97 L518.45 126.9 L518.7 126.81 L518.95 126.69 L519.2 126.54 L519.45 126.37 L519.7 126.19 L519.95 126 L520.2 125.83 L520.45 125.56 L520.7 124.21 L520.95 121.9 L521.2 123.17 L521.45 125.27 L521.7 125.78 L521.95 125.96 L522.2 126.15 L522.45 126.35 L522.7 126.54 L522.95 126.7" fill="none" stroke="#ff1a1a" stroke-width="1.0" stroke-linejoin="round"/>
<g fill="#111"><circle cx="316.5" cy="31.1" r="1.4"/><path d="M315.4 39.4h2.2v1h-2.2z M316 38.8h1v2.2h-1z"/><path d="M315.4 45.27h2.2v1h-2.2z M316 44.67h1v2.2h-1z"/><path d="M315.4 52.29h2.2v1h-2.2z M316 51.69h1v2.2h-1z"/><path d="M315.4 58.73h2.2v1h-2.2z M316 58.13h1v2.2h-1z"/><path d="M315.4 64.39h2.2v1h-2.2z M316 63.79h1v2.2h-1z"/><path d="M315.4 71.36h2.2v1h-2.2z M316 70.76h1v2.2h-1z"/><path d="M315.4 79.15h2.2v1h-2.2z M316 78.55h1v2.2h-1z"/><circle cx="342" cy="51.7" r="1.4"/><path d="M340.9 75.99h2.2v1h-2.2z M341.5 75.39h1v2.2h-1z"/><path d="M340.9 83.49h2.2v1h-2.2z M341.5 82.89h1v2.2h-1z"/><path d="M340.9 91.28h2.2v1h-2.2z M341.5 90.68h1v2.2h-1z"/><path d="M340.9 97.16h2.2v1h-2.2z M341.5 96.56h1v2.2h-1z"/><path d="M340.9 103.4h2.2v1h-2.2z M341.5 102.8h1v2.2h-1z"/><circle cx="345.2" cy="48.3" r="1.4"/><path d="M344.1 63.88h2.2v1h-2.2z M344.7 63.28h1v2.2h-1z"/><path d="M344.1 69.89h2.2v1h-2.2z M344.7 69.29h1v2.2h-1z"/><path d="M344.1 77.14h2.2v1h-2.2z M344.7 76.54h1v2.2h-1z"/><path d="M344.1 84.83h2.2v1h-2.2z M344.7 84.23h1v2.2h-1z"/><path d="M344.1 91.81h2.2v1h-2.2z M344.7 91.21h1v2.2h-1z"/><path d="M344.1 99.06h2.2v1h-2.2z M344.7 98.46h1v2.2h-1z"/><path d="M344.1 105.87h2.2v1h-2.2z M344.7 105.27h1v2.2h-1z"/><circle cx="355.7" cy="94.7" r="1.4"/><path d="M354.6 104.14h2.2v1h-2.2z M355.2 103.54h1v2.2h-1z"/><path d="M354.6 109.79h2.2v1h-2.2z M355.2 109.19h1v2.2h-1z"/><circle cx="374.9" cy="99.2" r="1.4"/><path d="M373.8 104.92h2.2v1h-2.2z M374.4 104.32h1v2.2h-1z"/><path d="M373.8 111.97h2.2v1h-2.2z M374.4 111.37h1v2.2h-1z"/><circle cx="383" cy="93.3" r="1.4"/><path d="M381.9 99.81h2.2v1h-2.2z M382.5 99.21h1v2.2h-1z"/><path d="M381.9 107.73h2.2v1h-2.2z M382.5 107.13h1v2.2h-1z"/><path d="M381.9 114.21h2.2v1h-2.2z M382.5 113.61h1v2.2h-1z"/><circle cx="389.3" cy="102.6" r="1.4"/><path d="M388.2 107.64h2.2v1h-2.2z M388.8 107.04h1v2.2h-1z"/><path d="M388.2 113.68h2.2v1h-2.2z M388.8 113.08h1v2.2h-1z"/><circle cx="394.1" cy="99.4" r="1.4"/><path d="M393 108.1h2.2v1h-2.2z M393.6 107.5h1v2.2h-1z"/><path d="M393 115.64h2.2v1h-2.2z M393.6 115.04h1v2.2h-1z"/><circle cx="397" cy="110.4" r="1.4"/><path d="M395.9 116.74h2.2v1h-2.2z M396.5 116.14h1v2.2h-1z"/><circle cx="401.5" cy="110.4" r="1.4"/><path d="M400.4 114.06h2.2v1h-2.2z M401 113.46h1v2.2h-1z"/><circle cx="408.8" cy="73.8" r="1.4"/><path d="M407.7 87h2.2v1h-2.2z M408.3 86.4h1v2.2h-1z"/><path d="M407.7 93.79h2.2v1h-2.2z M408.3 93.19h1v2.2h-1z"/><path d="M407.7 99.54h2.2v1h-2.2z M408.3 98.94h1v2.2h-1z"/><path d="M407.7 106.32h2.2v1h-2.2z M408.3 105.72h1v2.2h-1z"/><path d="M407.7 113.12h2.2v1h-2.2z M408.3 112.52h1v2.2h-1z"/><circle cx="413" cy="107" r="1.4"/><path d="M411.9 112.24h2.2v1h-2.2z M412.5 111.64h1v2.2h-1z"/><path d="M411.9 119.5h2.2v1h-2.2z M412.5 118.9h1v2.2h-1z"/><circle cx="415.4" cy="31.8" r="1.4"/><path d="M414.3 49.16h2.2v1h-2.2z M414.9 48.56h1v2.2h-1z"/><path d="M414.3 54.73h2.2v1h-2.2z M414.9 54.13h1v2.2h-1z"/><path d="M414.3 61.42h2.2v1h-2.2z M414.9 60.82h1v2.2h-1z"/><path d="M414.3 67.24h2.2v1h-2.2z M414.9 66.64h1v2.2h-1z"/><path d="M414.3 73.1h2.2v1h-2.2z M414.9 72.5h1v2.2h-1z"/><path d="M414.3 79.4h2.2v1h-2.2z M414.9 78.8h1v2.2h-1z"/><path d="M414.3 86.25h2.2v1h-2.2z M414.9 85.65h1v2.2h-1z"/><path d="M414.3 93.29h2.2v1h-2.2z M414.9 92.69h1v2.2h-1z"/><path d="M414.3 100.4h2.2v1h-2.2z M414.9 99.8h1v2.2h-1z"/><path d="M414.3 108.26h2.2v1h-2.2z M414.9 107.66h1v2.2h-1z"/><path d="M414.3 114.01h2.2v1h-2.2z M414.9 113.41h1v2.2h-1z"/><circle cx="417.2" cy="82.3" r="1.4"/><path d="M416.1 86.06h2.2v1h-2.2z M416.7 85.46h1v2.2h-1z"/><path d="M416.1 93.23h2.2v1h-2.2z M416.7 92.63h1v2.2h-1z"/><path d="M416.1 99.83h2.2v1h-2.2z M416.7 99.23h1v2.2h-1z"/><path d="M416.1 105.68h2.2v1h-2.2z M416.7 105.08h1v2.2h-1z"/><path d="M416.1 111.96h2.2v1h-2.2z M416.7 111.36h1v2.2h-1z"/><path d="M416.1 119.11h2.2v1h-2.2z M416.7 118.51h1v2.2h-1z"/><circle cx="419.5" cy="108" r="1.4"/><path d="M418.4 114.33h2.2v1h-2.2z M419 113.73h1v2.2h-1z"/><circle cx="423" cy="115" r="1.4"/><path d="M421.9 119.52h2.2v1h-2.2z M422.5 118.92h1v2.2h-1z"/><circle cx="428.8" cy="104.3" r="1.4"/><path d="M427.7 111.32h2.2v1h-2.2z M428.3 110.72h1v2.2h-1z"/><path d="M427.7 117.09h2.2v1h-2.2z M428.3 116.49h1v2.2h-1z"/><circle cx="433" cy="119" r="1.4"/><circle cx="438.5" cy="118.9" r="1.4"/><circle cx="451.8" cy="112.8" r="1.4"/><path d="M450.7 119.41h2.2v1h-2.2z M451.3 118.81h1v2.2h-1z"/><circle cx="476.3" cy="115.3" r="1.4"/><circle cx="498.1" cy="118.6" r="1.4"/><circle cx="341.5" cy="55.8" r="1.4"/><circle cx="344.8" cy="54" r="1.4"/><circle cx="341.7" cy="64" r="1.4"/><circle cx="408.7" cy="74.3" r="1.4"/></g>
<g><rect x="315.8" y="132" width="1.2" height="5" fill="#111"/><rect x="328.5" y="132" width="1.2" height="5" fill="#111"/><rect x="341.2" y="132" width="1.2" height="5" fill="#777"/><rect x="345.5" y="132" width="2.7" height="5" fill="#111"/><rect x="353" y="132" width="1.2" height="5" fill="#111"/><rect x="356" y="132" width="2.4" height="5" fill="#111"/><rect x="364.5" y="132" width="1.5" height="5" fill="#777"/><rect x="366" y="132" width="2.2" height="5" fill="#111"/><rect x="374" y="132" width="1.2" height="5" fill="#111"/><rect x="379.4" y="132" width="1.2" height="5" fill="#111"/><rect x="381.8" y="132" width="3.7" height="5" fill="#111"/><rect x="387.6" y="132" width="1.2" height="5" fill="#111"/><rect x="394.5" y="132" width="6.4" height="5" fill="#111"/><rect x="403" y="132" width="1.2" height="5" fill="#111"/><rect x="406.7" y="132" width="1.2" height="5" fill="#111"/><rect x="410" y="132" width="2.2" height="5" fill="#111"/><rect x="414.4" y="132" width="2.1" height="5" fill="#111"/><rect x="419.3" y="132" width="4.3" height="5" fill="#111"/><rect x="428" y="132" width="1.6" height="5" fill="#111"/><rect x="430.7" y="132" width="2.2" height="5" fill="#111"/><rect x="433.4" y="132" width="9.3" height="5" fill="#777"/><rect x="442.7" y="132" width="7.6" height="5" fill="#111"/><rect x="451.4" y="132" width="2.2" height="5" fill="#111"/><rect x="454.2" y="132" width="69" height="5" fill="#111"/><rect x="468" y="132" width="1.2" height="5" fill="#bbb"/><rect x="472.6" y="132" width="1.2" height="5" fill="#bbb"/><rect x="478.6" y="132" width="1.2" height="5" fill="#bbb"/><rect x="484" y="132" width="1.2" height="5" fill="#bbb"/><rect x="489" y="132" width="1.2" height="5" fill="#bbb"/><rect x="493.3" y="132" width="1.2" height="5" fill="#bbb"/><rect x="357.5" y="137" width="1.4" height="4.6" fill="#111"/><rect x="359.3" y="137" width="1.4" height="4.6" fill="#111"/><rect x="365.7" y="137" width="1.4" height="4.6" fill="#111"/><rect x="374.8" y="137" width="1.4" height="4.6" fill="#111"/><rect x="383.8" y="137" width="1.4" height="4.6" fill="#111"/><rect x="397.5" y="137" width="1.4" height="4.6" fill="#111"/><rect x="405.7" y="137" width="1.4" height="4.6" fill="#111"/><rect x="411.5" y="137" width="1.4" height="4.6" fill="#111"/><rect x="420.2" y="137" width="1.4" height="4.6" fill="#111"/><rect x="428.9" y="137" width="1.4" height="4.6" fill="#111"/><rect x="434.4" y="137" width="1.4" height="4.6" fill="#111"/><rect x="438.7" y="137" width="1.4" height="4.6" fill="#111"/><rect x="440.9" y="137" width="1.4" height="4.6" fill="#111"/><rect x="445.3" y="137" width="1.4" height="4.6" fill="#111"/><rect x="452.9" y="137" width="1.4" height="4.6" fill="#111"/><rect x="458" y="137" width="3.3" height="4.6" fill="#111"/><rect x="465.4" y="137" width="2.3" height="4.6" fill="#111"/><rect x="470.3" y="137" width="1.4" height="4.6" fill="#111"/><rect x="475.8" y="137" width="1.4" height="4.6" fill="#111"/><rect x="479.6" y="137" width="1.4" height="4.6" fill="#111"/><rect x="489.9" y="137" width="1.4" height="4.6" fill="#111"/><rect x="497.7" y="137" width="3.3" height="4.6" fill="#777"/><rect x="502.6" y="137" width="1.7" height="4.6" fill="#111"/><rect x="505.7" y="137" width="1.4" height="4.6" fill="#111"/><rect x="509" y="137" width="1.4" height="4.6" fill="#111"/><rect x="517.7" y="137" width="1.4" height="4.6" fill="#111"/></g>
<text transform="translate(297.6 134.2) scale(0.8 1)" font-size="5.8" fill="#333" letter-spacing="1.3" font-family="Liberation Sans, sans-serif">NFPP</text>
<text transform="translate(297.6 140.8) scale(0.8 1)" font-size="5.8" fill="#333" letter-spacing="1.3" font-family="Liberation Sans, sans-serif">NFP</text>
<path d="M309.2 153.98 L309.8 150.75 L310.4 152.04 L311 153.99 L311.6 151.18 L312.2 153.74 L312.8 155.08 L313.4 154.24 L314 154.95 L314.6 152.32 L315.2 154.17 L315.8 154.6 L316.4 154.16 L317 154.29 L317.6 155.8 L318.2 153.75 L318.8 153.51 L319.4 155.64 L320 157.15 L320.6 156.83 L321.2 156.45 L321.8 155.27 L322.4 157.59 L323 154.68 L323.6 155.56 L324.2 157.62 L324.8 158.13 L325.4 156.51 L326 158.42 L326.6 155.7 L327.2 157.52 L327.8 155.74 L328.4 156.41 L329 156.32 L329.6 155.73 L330.2 157.18 L330.8 157.55 L331.4 156.81 L332 158.13 L332.6 156.04 L333.2 157.69 L333.8 157.73 L334.4 157.29 L335 159.08 L335.6 156.3 L336.2 157.34 L336.8 157.43 L337.4 157.1 L338 159.18 L338.6 157.74 L339.2 157.51 L339.8 157.2 L340.4 157.15 L341 158.89 L341.6 158.32 L342.2 157.74 L342.8 156 L343.4 157.44 L344 155.77 L344.6 156.48 L345.2 155.29 L345.8 157.59 L346.4 158.48 L347 157.24 L347.6 156.94 L348.2 155.77 L348.8 156.38 L349.4 156.39 L350 156.19 L350.6 155.6 L351.2 155.37 L351.8 157.15 L352.4 157.79 L353 157.29 L353.6 156.55 L354.2 154.46 L354.8 155.36 L355.4 157.16 L356 157.58 L356.6 156.09 L357.2 156.13 L357.8 156.5 L358.4 154.97 L359 156.55 L359.6 155.35 L360.2 156.98 L360.8 155.66 L361.4 156.34 L362 155.97 L362.6 155.89 L363.2 155.64 L363.8 157.31 L364.4 156.64 L365 155.5 L365.6 155.79 L366.2 157.12 L366.8 156.62 L367.4 156.3 L368 157.34 L368.6 154.5 L369.2 156.13 L369.8 156.23 L370.4 155.66 L371 157.39 L371.6 157.41 L372.2 155.48 L372.8 156.25 L373.4 156.76 L374 156.54 L374.6 155.43 L375.2 156.91 L375.8 155.41 L376.4 154.75 L377 156.5 L377.6 156.47 L378.2 155.67 L378.8 155.99 L379.4 157.65 L380 157.06 L380.6 155.74 L381.2 157.44 L381.8 156.31 L382.4 155.78 L383 156.6 L383.6 157.08 L384.2 157.47 L384.8 156.73 L385.4 156.74 L386 155.87 L386.6 154.69 L387.2 156.08 L387.8 154.97 L388.4 157.73 L389 155.83 L389.6 156.65 L390.2 157.08 L390.8 155.27 L391.4 157.45 L392 155.78 L392.6 154.99 L393.2 156.72 L393.8 156.08 L394.4 157.79 L395 156.24 L395.6 155.1 L396.2 154.86 L396.8 154.92 L397.4 156.45 L398 157.18 L398.6 155.01 L399.2 155.93 L399.8 156.43 L400.4 157.8 L401 158.05 L401.6 157.74 L402.2 156.97 L402.8 156.77 L403.4 155.63 L404 156.9 L404.6 155.46 L405.2 155.91 L405.8 157.63 L406.4 156.78 L407 157.3 L407.6 156.46 L408.2 155.86 L408.8 156.6 L409.4 156.83 L410 155.76 L410.6 157.72 L411.2 158.16 L411.8 155.58 L412.4 155.78 L413 157.63 L413.6 157.34 L414.2 155.75 L414.8 156.91 L415.4 155.8 L416 157.81 L416.6 156.93 L417.2 156.69 L417.8 155.58 L418.4 156.37 L419 156.59 L419.6 156.24 L420.2 155.67 L420.8 155.76 L421.4 157.29 L422 157.92 L422.6 157.66 L423.2 157.02 L423.8 157.47 L424.4 155.8 L425 156.03 L425.6 157.2 L426.2 155.63 L426.8 155.86 L427.4 157.3 L428 156.16 L428.6 156.18 L429.2 156.58 L429.8 157.31 L430.4 155.98 L431 157.37 L431.6 156.46 L432.2 156.89 L432.8 156.74 L433.4 156.18 L434 157.53 L434.6 156.28 L435.2 157.29 L435.8 157.41 L436.4 156.74 L437 157.55 L437.6 156.12 L438.2 156.26 L438.8 156.8 L439.4 156.15 L440 157.33 L440.6 156.89 L441.2 157.33 L441.8 156.51 L442.4 156.1 L443 157.48 L443.6 156.4 L444.2 156.74 L444.8 156.27 L445.4 157.02 L446 156.82 L446.6 156.4 L447.2 156.15 L447.8 156.63 L448.4 157.35 L449 156.35 L449.6 156.47 L450.2 157.1 L450.8 157.13 L451.4 157.41 L452 157.16 L452.6 157.49 L453.2 156.38 L453.8 157.61 L454.4 156.19 L455 156.33 L455.6 156.31 L456.2 157.39 L456.8 156.96 L457.4 157.64 L458 157.72 L458.6 157.69 L459.2 157.16 L459.8 156.74 L460.4 157.71 L461 157.36 L461.6 156.5 L462.2 157.08 L462.8 156.23 L463.4 156.23 L464 157.23 L464.6 157.36 L465.2 157.59 L465.8 157.42 L466.4 156.44 L467 157.41 L467.6 157.8 L468.2 157.32 L468.8 157.01 L469.4 156.71 L470 156.35 L470.6 157.25 L471.2 157.79 L471.8 156.44 L472.4 157.57 L473 157.7 L473.6 156.83 L474.2 157.63 L474.8 156.53 L475.4 156.76 L476 157.19 L476.6 157.69 L477.2 157.15 L477.8 156.44 L478.4 157.79 L479 157.22 L479.6 157.55 L480.2 156.68 L480.8 156.85 L481.4 156.46 L482 156.62 L482.6 157.03 L483.2 156.99 L483.8 157.39 L484.4 157.67 L485 156.88 L485.6 157.83 L486.2 157.4 L486.8 156.91 L487.4 156.65 L488 157.89 L488.6 157.42 L489.2 156.44 L489.8 157.47 L490.4 156.98 L491 157.05 L491.6 157.61 L492.2 156.75 L492.8 156.82 L493.4 157.26 L494 157.85 L494.6 156.54 L495.2 157.74 L495.8 157.57 L496.4 156.7 L497 157.48 L497.6 157.42 L498.2 157.56 L498.8 157.29 L499.4 156.94 L500 157.24 L500.6 156.82 L501.2 157.18 L501.8 157.1 L502.4 156.63 L503 156.83 L503.6 157.02 L504.2 157.1 L504.8 157.37 L505.4 157.67 L506 156.9 L506.6 157.37 L507.2 157.03 L507.8 156.86 L508.4 156.72 L509 158.04 L509.6 158 L510.2 157.84 L510.8 156.79 L511.4 156.76 L512 156.69 L512.6 157.01 L513.2 157.21 L513.8 156.55 L514.4 157.21 L515 157.65 L515.6 157.88 L516.2 156.85 L516.8 156.56 L517.4 157.83 L518 157.17 L518.6 157.07 L519.2 156.82 L519.8 157.01 L520.4 157.01 L521 157 L521.6 156.96 L522.2 157.42 L522.8 157.9" fill="none" stroke="#11ee22" stroke-width="1.5" stroke-linejoin="round"/>
<path d="M316.8 148.02 L316.8 160.52 M340.9 146.33 L340.9 166.83 M345.2 150.94 L345.2 159.94 M393.5 152.39 L393.5 159.39 M395.4 152.43 L395.4 161.43 M408.5 147.58 L408.5 162.58 M410.5 151.6 L410.5 162.6 M413 149.62 L413 164.62 M415.5 144.64 L415.5 164.64 M417.5 150.66 L417.5 163.66 M420 152.68 L420 160.68" fill="none" stroke="#11ee22" stroke-width="1.3"/>
<rect x="296.6" y="5.8" width="226.9" height="166.8" fill="none" stroke="#111" stroke-width="1.4"/>
<path d="M296.6 172.6 V175.4 M316.6 172.6 V177.1 M337.3 172.6 V175.4 M358 172.6 V177.1 M378.7 172.6 V175.4 M399.4 172.6 V177.1 M420.1 172.6 V175.4 M440.8 172.6 V177.1 M461.5 172.6 V175.4 M482.2 172.6 V177.1 M502.9 172.6 V175.4 M523.5 172.6 V177.1" stroke="#111" stroke-width="1.4" fill="none"/>
<text x="316.6" y="189.6" font-size="11" fill="#1a1a1a" text-anchor="middle" font-family="Liberation Sans, sans-serif">10</text>
<text x="358" y="189.6" font-size="11" fill="#1a1a1a" text-anchor="middle" font-family="Liberation Sans, sans-serif">20</text>
<text x="399.4" y="189.6" font-size="11" fill="#1a1a1a" text-anchor="middle" font-family="Liberation Sans, sans-serif">30</text>
<text x="440.8" y="189.6" font-size="11" fill="#1a1a1a" text-anchor="middle" font-family="Liberation Sans, sans-serif">40</text>
<text x="482.2" y="189.6" font-size="11" fill="#1a1a1a" text-anchor="middle" font-family="Liberation Sans, sans-serif">50</text>
<text x="523.5" y="189.6" font-size="11" fill="#1a1a1a" text-anchor="middle" font-family="Liberation Sans, sans-serif">60</text>
<text x="379.3" y="18.9" font-size="12" font-weight="bold" fill="#111" letter-spacing="0.9" font-family="Liberation Sans, sans-serif">NFPP/C</text>
<circle cx="458.2" cy="52.4" r="1.4" fill="#111"/>
<path d="M445.8 65.1 H469.8" stroke="#ff3333" stroke-width="1.3"/>
<path d="M445.8 77.4 H469.8" stroke="#22ee44" stroke-width="2"/>
<text x="472.7" y="55" font-size="10" fill="#333" font-family="Liberation Sans, sans-serif">Observed</text>
<text x="472.7" y="67.8" font-size="10" fill="#333" font-family="Liberation Sans, sans-serif">Calculated</text>
<text x="472.7" y="80.6" font-size="10" fill="#333" font-family="Liberation Sans, sans-serif">Difference</text>
<text transform="translate(290.2 84.8) rotate(-90)" font-size="12.8" fill="#1a1a1a" text-anchor="middle" font-family="Liberation Sans, sans-serif">Intensity</text>
<text x="386.9" y="205.9" font-size="14" fill="#1a1a1a" font-family="Liberation Sans, sans-serif">2θ angle, <tspan font-size="11" dy="-6">°</tspan></text>
<text x="537.5" y="199.3" font-size="17" fill="#111" font-family="Liberation Sans, sans-serif">b</text>
<path d="M33.9 276.09 L34.4 277.57 L34.9 278.69 L35.4 280.15 L35.9 281.4 L36.4 282.16 L36.9 283.25 L37.4 284.97 L37.9 285.52 L38.4 286.44 L38.9 287.86 L39.4 288.04 L39.9 288.66 L40.4 288.52 L40.9 288.89 L41.4 289.15 L41.9 290.74 L42.4 292.55 L42.9 293.98 L43.4 295.68 L43.9 296.89 L44.4 297.45 L44.9 298.92 L45.4 299.63 L45.9 300.19 L46.4 300.74 L46.9 302.14 L47.4 302.54 L47.9 303.44 L48.4 304.25 L48.9 304.79 L49.4 305.62 L49.9 305.85 L50.4 306.81 L50.9 307.15 L51.4 308.13 L51.9 308.6 L52.4 308.42 L52.9 308.83 L53.4 309.29 L53.9 310.39 L54.4 310.66 L54.9 311.65 L55.4 312.26 L55.9 313.24 L56.4 313.86 L56.9 314.45 L57.4 315.19 L57.9 315.68 L58.4 316.41 L58.9 316.68 L59.4 317.31 L59.9 317.67 L60.4 318.19 L60.9 318.32 L61.4 318.3 L61.9 319.22 L62.4 319.65 L62.9 319.94 L63.4 319.97 L63.9 320.3 L64.4 319.96 L64.9 320.28 L65.4 319.65 L65.9 318.9 L66.4 318.42 L66.9 319.22 L67.4 319.97 L67.9 320.03 L68.4 321.12 L68.9 320.86 L69.4 320.39 L69.9 320.3 L70.4 320.89 L70.9 321.69 L71.4 322.02 L71.9 323.44 L72.4 323.72 L72.9 324.75 L73.4 324.77 L73.9 325.46 L74.4 325.76 L74.9 325.58 L75.4 326.18 L75.9 325.82 L76.4 325.83 L76.9 326.44 L77.4 326.17 L77.9 326.47 L78.4 326.76 L78.9 326.93 L79.4 326.39 L79.9 325.86 L80.4 325.92 L80.9 324.96 L81.4 325.37 L81.9 325.75 L82.4 326.15 L82.9 327.1 L83.4 327.87 L83.9 328.48 L84.4 328.81 L84.9 329.08 L85.4 329.4 L85.9 329.91 L86.4 329.77 L86.9 329.9 L87.4 330.31 L87.9 330.09 L88.4 330.31 L88.9 331.01 L89.4 330.8 L89.9 330.98 L90.4 330.7 L90.9 331.18 L91.4 331.46 L91.9 331.15 L92.4 331.77 L92.9 331.92 L93.4 331.6 L93.9 332.18 L94.4 332.18 L94.9 332.47 L95.4 332.33 L95.9 332.72 L96.4 332.86 L96.9 332.38 L97.4 332.5 L97.9 333.04 L98.4 333.22 L98.9 332.42 L99.4 332.1 L99.9 331.54 L100.4 330.67 L100.9 330.41 L101.4 330.62 L101.9 331.37 L102.4 332.41 L102.9 332.87 L103.4 333.28 L103.9 333.55 L104.4 332.51 L104.9 332.2 L105.4 331.49 L105.9 330.47 L106.4 330.01 L106.9 330.39 L107.4 330.09 L107.9 330.49 L108.4 331.44 L108.9 332.6 L109.4 333.04 L109.9 333.91 L110.4 334.32 L110.9 334.86 L111.4 334.46 L111.9 334.44 L112.4 333.28 L112.9 332.68 L113.4 332.34 L113.9 332.41 L114.4 332.49 L114.9 333.09 L115.4 333.81 L115.9 334.73 L116.4 334.74 L116.9 335.22 L117.4 334.92 L117.9 333.79 L118.4 333.11 L118.9 332.9 L119.4 332.52 L119.9 332.8 L120.4 332.69 L120.9 332.59 L121.4 332.56 L121.9 332.84 L122.4 332.63 L122.9 333.25 L123.4 333.91 L123.9 334.2 L124.4 333.99 L124.9 333.9 L125.4 332.87 L125.9 332.76 L126.4 334.03 L126.9 334.74 L127.4 335.46 L127.9 335.26 L128.4 335.43 L128.9 334.81 L129.4 333.6 L129.9 333.69 L130.4 333.97 L130.9 334.46 L131.4 335.04 L131.9 335.25 L132.4 335.18 L132.9 334.58 L133.4 333.84 L133.9 333.95 L134.4 333.93 L134.9 335.03 L135.4 335.26 L135.9 336.66 L136.4 336.95 L136.9 337.37 L137.4 337.42 L137.9 337.35 L138.4 336.8 L138.9 335.75 L139.4 335.41 L139.9 333.84 L140.4 332.95 L140.9 332.66 L141.4 332.59 L141.9 333.15 L142.4 334.6 L142.9 335.36 L143.4 335.79 L143.9 335.8 L144.4 335.89 L144.9 335.08 L145.4 335.13 L145.9 335.07 L146.4 335.54 L146.9 336.32 L147.4 336.63 L147.9 335.76 L148.4 335.73 L148.9 335.56 L149.4 335.69 L149.9 336.38 L150.4 336.52 L150.9 337.62 L151.4 338.03 L151.9 337.15 L152.4 336.74 L152.9 336.02 L153.4 335.7 L153.9 335.6 L154.4 336.13 L154.9 337.13 L155.4 337.14 L155.9 337.41 L156.4 337.21 L156.9 336.59 L157.4 335.88 L157.9 336.27 L158.4 336.37 L158.9 336.42 L159.4 337.56 L159.9 338.07 L160.4 338.42 L160.9 338.44 L161.4 338.31 L161.9 337.61 L162.4 336.68 L162.9 336.01 L163.4 336.09 L163.9 336.42 L164.4 337.56 L164.9 338.45 L165.4 338.7 L165.9 338.71 L166.4 338.79 L166.9 338.69 L167.4 338.34 L167.9 337.74 L168.4 336.7 L168.9 336.68 L169.4 336.73 L169.9 337.23 L170.4 337.99 L170.9 338.77 L171.4 339.37 L171.9 339.37 L172.4 339.69 L172.9 339.54 L173.4 339.39 L173.9 339.62 L174.4 339.7 L174.9 339.05 L175.4 338.98 L175.9 338.38 L176.4 337.98 L176.9 337.35 L177.4 336.64 L177.9 337.35 L178.4 337.95 L178.9 338.28 L179.4 338.93 L179.9 338.72 L180.4 338.89 L180.9 338.08 L181.4 337.56 L181.9 337.12 L182.4 337.21 L182.9 337.9 L183.4 338.57 L183.9 338.88 L184.4 339.69 L184.9 339.43 L185.4 339.58 L185.9 339.98 L186.4 339.09 L186.9 338.58 L187.4 337.83 L187.9 337.73 L188.4 336.8 L188.9 336.86 L189.4 338.16 L189.9 338.38 L190.4 339.64 L190.9 339.92 L191.4 340.25 L191.9 340.39 L192.4 339.98 L192.9 339.85 L193.4 338.69 L193.9 338.52 L194.4 337.59 L194.9 337.38 L195.4 337.07 L195.9 338.23 L196.4 339.18 L196.9 339.15 L197.4 339.79 L197.9 340.19 L198.4 340.45 L198.9 339.92 L199.4 339.65 L199.9 339.25 L200.4 338.85 L200.9 338.18 L201.4 337.35 L201.9 337.28 L202.4 337.79 L202.9 338.52 L203.4 339.31 L203.9 339.52 L204.4 339.99 L204.9 340.18 L205.4 339.21 L205.9 338.73 L206.4 337.54 L206.9 337.59 L207.4 337.82 L207.9 338.39 L208.4 339.06 L208.9 339.7 L209.4 340.24 L209.9 340.6 L210.4 339.94 L210.9 339.61 L211.4 339.58 L211.9 338.95 L212.4 337.9 L212.9 337.47 L213.4 337.86 L213.9 338.07 L214.4 338.92 L214.9 339.48 L215.4 340.07 L215.9 339.74 L216.4 339.19 L216.9 338.82 L217.4 338.31 L217.9 337.4 L218.4 337.91 L218.9 338.31 L219.4 339.45 L219.9 339.88 L220.4 339.96 L220.9 339.93 L221.4 339.44 L221.9 339.17 L222.4 338.31 L222.9 337.52 L223.4 337.5 L223.9 337.86 L224.4 338.94 L224.9 339.16 L225.4 340.26 L225.9 339.86 L226.4 339.53 L226.9 338.72 L227.4 338.29 L227.9 337.91 L228.4 337.87 L228.9 338.44 L229.4 339.42 L229.9 340.18 L230.4 340.17 L230.9 340.47 L231.4 340.37 L231.9 339.39 L232.4 338.42 L232.9 337.74 L233.4 337.85 L233.9 338.1 L234.4 339.02 L234.9 339.72 L235.4 339.84 L235.9 340.11 L236.4 340.2 L236.9 339.89 L237.4 339.76 L237.9 339.12 L238.4 338.43 L238.9 337.53 L239.4 338.19 L239.9 338.39 L240.4 339.27 L240.9 340.18 L241.4 340.09 L241.9 340.29 L242.4 340.94 L242.9 340.43 L243.4 340.26 L243.9 339.97 L244.4 339.35 L244.9 338.03 L245.4 337.74 L245.9 337.77 L246.4 338.29 L246.9 338.84 L247.4 339.89 L247.9 340.71" fill="none" stroke="#111" stroke-width="3.4" stroke-linejoin="round"/>
<path d="M33.9 275.79 L34.4 277.27 L34.9 278.39 L35.4 279.85 L35.9 281.1 L36.4 281.86 L36.9 282.95 L37.4 284.67 L37.9 285.22 L38.4 286.14 L38.9 287.56 L39.4 287.74 L39.9 288.36 L40.4 288.22 L40.9 288.59 L41.4 288.85 L41.9 290.44 L42.4 292.25 L42.9 293.68 L43.4 295.38 L43.9 296.59 L44.4 297.15 L44.9 298.62 L45.4 299.33 L45.9 299.89 L46.4 300.44 L46.9 301.84 L47.4 302.24 L47.9 303.14 L48.4 303.95 L48.9 304.49 L49.4 305.32 L49.9 305.55 L50.4 306.51 L50.9 306.85 L51.4 307.83 L51.9 308.3 L52.4 308.12 L52.9 308.53 L53.4 308.99 L53.9 310.09 L54.4 310.36 L54.9 311.35 L55.4 311.96 L55.9 312.94 L56.4 313.56 L56.9 314.15 L57.4 314.89 L57.9 315.38 L58.4 316.11 L58.9 316.38 L59.4 317.01 L59.9 317.37 L60.4 317.89 L60.9 318.02 L61.4 318 L61.9 318.92 L62.4 319.35 L62.9 319.64 L63.4 319.67 L63.9 320 L64.4 319.66 L64.9 319.98 L65.4 319.35 L65.9 318.6 L66.4 318.12 L66.9 318.92 L67.4 319.67 L67.9 319.73 L68.4 320.82 L68.9 320.56 L69.4 320.09 L69.9 320 L70.4 320.59 L70.9 321.39 L71.4 321.72 L71.9 323.14 L72.4 323.42 L72.9 324.45 L73.4 324.47" fill="none" stroke="#111" stroke-width="4.2" stroke-linecap="round" stroke-linejoin="round"/>
<path d="M33.25 273.79h1.3v1.3h-1.3zM34.15 279.42h1.3v1.3h-1.3zM35.05 281.29h1.3v1.3h-1.3zM35.95 283.36h1.3v1.3h-1.3zM36.85 283.78h1.3v1.3h-1.3zM37.75 285.19h1.3v1.3h-1.3zM38.65 290.5h1.3v1.3h-1.3zM39.55 285.11h1.3v1.3h-1.3zM40.45 292.08h1.3v1.3h-1.3zM41.35 292.9h1.3v1.3h-1.3zM42.25 290.98h1.3v1.3h-1.3zM43.15 298.21h1.3v1.3h-1.3zM44.05 297.78h1.3v1.3h-1.3zM44.95 297.63h1.3v1.3h-1.3zM45.85 299.35h1.3v1.3h-1.3zM46.75 299.41h1.3v1.3h-1.3zM47.65 303.68h1.3v1.3h-1.3zM48.55 302.95h1.3v1.3h-1.3zM49.45 305.67h1.3v1.3h-1.3zM50.35 301.77h1.3v1.3h-1.3zM51.25 306.54h1.3v1.3h-1.3zM52.15 306.29h1.3v1.3h-1.3zM53.05 310.85h1.3v1.3h-1.3zM53.95 311.85h1.3v1.3h-1.3zM54.85 310.11h1.3v1.3h-1.3zM55.75 315.75h1.3v1.3h-1.3zM56.65 313.28h1.3v1.3h-1.3zM57.55 313.01h1.3v1.3h-1.3zM58.45 317.2h1.3v1.3h-1.3zM59.35 319.34h1.3v1.3h-1.3zM60.25 316.71h1.3v1.3h-1.3zM61.15 317.33h1.3v1.3h-1.3zM62.05 320.99h1.3v1.3h-1.3zM62.95 317.57h1.3v1.3h-1.3zM63.85 322.71h1.3v1.3h-1.3zM64.75 322.05h1.3v1.3h-1.3zM65.65 319.23h1.3v1.3h-1.3zM66.55 319.97h1.3v1.3h-1.3zM67.45 319.49h1.3v1.3h-1.3zM68.35 317.7h1.3v1.3h-1.3zM69.25 317.2h1.3v1.3h-1.3zM70.15 319.63h1.3v1.3h-1.3zM71.05 320.73h1.3v1.3h-1.3zM71.95 324.09h1.3v1.3h-1.3zM72.85 324.63h1.3v1.3h-1.3zM73.75 325.37h1.3v1.3h-1.3zM74.65 324.4h1.3v1.3h-1.3zM75.55 322.3h1.3v1.3h-1.3zM76.45 322.75h1.3v1.3h-1.3zM77.35 325.25h1.3v1.3h-1.3zM78.25 325.6h1.3v1.3h-1.3zM79.15 326.41h1.3v1.3h-1.3zM80.05 322.82h1.3v1.3h-1.3zM80.95 326.09h1.3v1.3h-1.3zM81.85 327.15h1.3v1.3h-1.3zM82.75 327.58h1.3v1.3h-1.3zM83.65 328.05h1.3v1.3h-1.3zM84.55 330.61h1.3v1.3h-1.3zM85.45 328.33h1.3v1.3h-1.3zM86.35 330.2h1.3v1.3h-1.3zM87.25 328.42h1.3v1.3h-1.3zM88.15 330.8h1.3v1.3h-1.3zM89.05 330.38h1.3v1.3h-1.3zM89.95 329.4h1.3v1.3h-1.3zM90.85 331.11h1.3v1.3h-1.3zM91.75 330.55h1.3v1.3h-1.3zM92.65 331.2h1.3v1.3h-1.3zM93.55 332.05h1.3v1.3h-1.3zM94.45 333.31h1.3v1.3h-1.3zM95.35 333.29h1.3v1.3h-1.3zM96.25 332.01h1.3v1.3h-1.3zM97.15 331.48h1.3v1.3h-1.3zM98.05 332.55h1.3v1.3h-1.3zM98.95 332.39h1.3v1.3h-1.3zM99.85 329.97h1.3v1.3h-1.3zM100.75 327.91h1.3v1.3h-1.3zM101.65 331.51h1.3v1.3h-1.3zM102.55 331.03h1.3v1.3h-1.3zM103.45 333.28h1.3v1.3h-1.3zM104.35 332.29h1.3v1.3h-1.3zM105.25 330.48h1.3v1.3h-1.3zM106.15 330.87h1.3v1.3h-1.3zM107.05 329.14h1.3v1.3h-1.3zM107.95 330.88h1.3v1.3h-1.3zM108.85 332.87h1.3v1.3h-1.3zM109.75 335.89h1.3v1.3h-1.3zM110.65 336.02h1.3v1.3h-1.3zM111.55 333.58h1.3v1.3h-1.3zM112.45 334.16h1.3v1.3h-1.3zM113.35 329.64h1.3v1.3h-1.3zM114.25 331.53h1.3v1.3h-1.3zM115.15 334.98h1.3v1.3h-1.3zM116.05 332.89h1.3v1.3h-1.3zM116.95 332.94h1.3v1.3h-1.3zM117.85 334.3h1.3v1.3h-1.3zM118.75 331.5h1.3v1.3h-1.3zM119.65 331.4h1.3v1.3h-1.3zM120.55 334.42h1.3v1.3h-1.3zM121.45 330.37h1.3v1.3h-1.3zM122.35 333.02h1.3v1.3h-1.3zM123.25 333.6h1.3v1.3h-1.3zM124.15 332.94h1.3v1.3h-1.3zM125.05 332.66h1.3v1.3h-1.3zM125.95 331.56h1.3v1.3h-1.3zM126.85 333.05h1.3v1.3h-1.3zM127.75 334.5h1.3v1.3h-1.3zM128.65 332.52h1.3v1.3h-1.3zM129.55 333.1h1.3v1.3h-1.3zM130.45 333.65h1.3v1.3h-1.3zM131.35 334.72h1.3v1.3h-1.3zM132.25 332.42h1.3v1.3h-1.3zM133.15 333.25h1.3v1.3h-1.3zM134.05 332.37h1.3v1.3h-1.3zM134.95 335.82h1.3v1.3h-1.3zM135.85 338.66h1.3v1.3h-1.3zM136.75 335.81h1.3v1.3h-1.3zM137.65 337.57h1.3v1.3h-1.3zM138.55 336.57h1.3v1.3h-1.3zM139.45 332.75h1.3v1.3h-1.3zM140.35 331.57h1.3v1.3h-1.3zM141.25 332.01h1.3v1.3h-1.3zM142.15 335.11h1.3v1.3h-1.3zM143.05 336.7h1.3v1.3h-1.3zM143.95 335.44h1.3v1.3h-1.3zM144.85 335.23h1.3v1.3h-1.3zM145.75 334.68h1.3v1.3h-1.3zM146.65 337.02h1.3v1.3h-1.3zM147.55 333.71h1.3v1.3h-1.3zM148.45 336.17h1.3v1.3h-1.3zM149.35 337.4h1.3v1.3h-1.3zM150.25 334.66h1.3v1.3h-1.3zM151.15 335.31h1.3v1.3h-1.3zM152.05 335.42h1.3v1.3h-1.3zM152.95 333.03h1.3v1.3h-1.3zM153.85 334.44h1.3v1.3h-1.3zM154.75 338.7h1.3v1.3h-1.3zM155.65 339.12h1.3v1.3h-1.3zM156.55 334.83h1.3v1.3h-1.3zM157.45 333.39h1.3v1.3h-1.3zM158.35 337.04h1.3v1.3h-1.3zM159.25 337h1.3v1.3h-1.3zM160.15 337.99h1.3v1.3h-1.3zM161.05 337.65h1.3v1.3h-1.3zM161.95 336.01h1.3v1.3h-1.3zM162.85 335.85h1.3v1.3h-1.3zM163.75 337.54h1.3v1.3h-1.3zM164.65 336.21h1.3v1.3h-1.3zM165.55 338.46h1.3v1.3h-1.3zM166.45 336.74h1.3v1.3h-1.3zM167.35 336.41h1.3v1.3h-1.3zM168.25 335.18h1.3v1.3h-1.3zM169.15 335.65h1.3v1.3h-1.3zM170.05 335.91h1.3v1.3h-1.3zM170.95 339.12h1.3v1.3h-1.3zM171.85 338.28h1.3v1.3h-1.3zM172.75 339.38h1.3v1.3h-1.3zM173.65 340.46h1.3v1.3h-1.3zM174.55 337.43h1.3v1.3h-1.3zM175.45 336.72h1.3v1.3h-1.3zM176.35 337.11h1.3v1.3h-1.3zM177.25 334.79h1.3v1.3h-1.3zM178.15 337.39h1.3v1.3h-1.3zM179.05 338.42h1.3v1.3h-1.3zM179.95 337.82h1.3v1.3h-1.3zM180.85 337.02h1.3v1.3h-1.3zM181.75 338.45h1.3v1.3h-1.3zM182.65 338.54h1.3v1.3h-1.3zM183.55 339.88h1.3v1.3h-1.3zM184.45 339.49h1.3v1.3h-1.3zM185.35 339.84h1.3v1.3h-1.3zM186.25 338.84h1.3v1.3h-1.3zM187.15 337.98h1.3v1.3h-1.3zM188.05 336.59h1.3v1.3h-1.3zM188.95 337.8h1.3v1.3h-1.3zM189.85 339.38h1.3v1.3h-1.3zM190.75 339.8h1.3v1.3h-1.3zM191.65 338.88h1.3v1.3h-1.3zM192.55 338.69h1.3v1.3h-1.3zM193.45 338.64h1.3v1.3h-1.3zM194.35 336.73h1.3v1.3h-1.3zM195.25 335.81h1.3v1.3h-1.3zM196.15 339.76h1.3v1.3h-1.3zM197.05 340.58h1.3v1.3h-1.3zM197.95 339.92h1.3v1.3h-1.3zM198.85 338.96h1.3v1.3h-1.3zM199.75 338.28h1.3v1.3h-1.3zM200.65 337.68h1.3v1.3h-1.3zM201.55 336.79h1.3v1.3h-1.3zM202.45 339.44h1.3v1.3h-1.3zM203.35 340.02h1.3v1.3h-1.3zM204.25 340h1.3v1.3h-1.3zM205.15 339.48h1.3v1.3h-1.3zM206.05 336.52h1.3v1.3h-1.3zM206.95 337.68h1.3v1.3h-1.3zM207.85 340.38h1.3v1.3h-1.3zM208.75 340.09h1.3v1.3h-1.3zM209.65 339.27h1.3v1.3h-1.3zM210.55 341.07h1.3v1.3h-1.3zM211.45 334.93h1.3v1.3h-1.3zM212.35 337.46h1.3v1.3h-1.3zM213.25 337.39h1.3v1.3h-1.3zM214.15 339.84h1.3v1.3h-1.3zM215.05 339.11h1.3v1.3h-1.3zM215.95 340.67h1.3v1.3h-1.3zM216.85 336.42h1.3v1.3h-1.3zM217.75 336.29h1.3v1.3h-1.3zM218.65 339.87h1.3v1.3h-1.3zM219.55 340.41h1.3v1.3h-1.3zM220.45 340.99h1.3v1.3h-1.3zM221.35 338.08h1.3v1.3h-1.3zM222.25 337.43h1.3v1.3h-1.3zM223.15 337.24h1.3v1.3h-1.3zM224.05 339.14h1.3v1.3h-1.3zM224.95 339.67h1.3v1.3h-1.3zM225.85 339.07h1.3v1.3h-1.3zM226.75 337.46h1.3v1.3h-1.3zM227.65 335.64h1.3v1.3h-1.3zM228.55 336.16h1.3v1.3h-1.3zM229.45 340.41h1.3v1.3h-1.3zM230.35 342.69h1.3v1.3h-1.3zM231.25 336.62h1.3v1.3h-1.3zM232.15 337.73h1.3v1.3h-1.3zM233.05 339.6h1.3v1.3h-1.3zM233.95 336.91h1.3v1.3h-1.3zM234.85 340.48h1.3v1.3h-1.3zM235.75 339.96h1.3v1.3h-1.3zM236.65 336.8h1.3v1.3h-1.3zM237.55 335.92h1.3v1.3h-1.3zM238.45 337.93h1.3v1.3h-1.3zM239.35 338.57h1.3v1.3h-1.3zM240.25 339.7h1.3v1.3h-1.3zM241.15 339.46h1.3v1.3h-1.3zM242.05 339.16h1.3v1.3h-1.3zM242.95 340.26h1.3v1.3h-1.3zM243.85 337.23h1.3v1.3h-1.3zM244.75 334.73h1.3v1.3h-1.3zM245.65 338.42h1.3v1.3h-1.3zM246.55 340.64h1.3v1.3h-1.3zM247.45 339.6h1.3v1.3h-1.3z" fill="#111"/>
<path d="M33.9 277.5 L34.15 278.11 L34.4 278.73 L34.65 279.35 L34.9 279.98 L35.15 280.61 L35.4 281.24 L35.65 281.86 L35.9 282.47 L36.15 283.07 L36.4 283.66 L36.65 284.23 L36.9 284.78 L37.15 285.3 L37.4 285.81 L37.65 286.29 L37.9 286.75 L38.15 287.18 L38.4 287.55 L38.65 287.87 L38.9 288.11 L39.15 288.27 L39.4 288.34 L39.65 288.32 L39.9 288.24 L40.15 288.11 L40.4 287.99 L40.65 287.84 L40.9 285.4 L41.15 267.61 L41.4 247.4 L41.65 268.53 L41.9 287.23 L42.15 290.59 L42.4 291.66 L42.65 292.71 L42.9 293.75 L43.15 294.76 L43.4 295.7 L43.65 296.55 L43.9 297.31 L44.15 297.99 L44.4 298.6 L44.65 299.14 L44.9 299.64 L45.15 300.1 L45.4 300.53 L45.65 300.94 L45.9 301.34 L46.15 301.72 L46.4 302.09 L46.65 302.46 L46.9 302.82 L47.15 303.18 L47.4 303.53 L47.65 303.88 L47.9 304.22 L48.15 304.56 L48.4 304.9 L48.65 305.23 L48.9 305.56 L49.15 305.89 L49.4 306.21 L49.65 306.54 L49.9 306.86 L50.15 307.17 L50.4 307.49 L50.65 307.8 L50.9 308.11 L51.15 308.41 L51.4 308.71 L51.65 309.01 L51.9 309.3 L52.15 309.58 L52.4 309.86 L52.65 310.14 L52.9 310.42 L53.15 310.7 L53.4 310.98 L53.65 311.1 L53.9 310.95 L54.15 311.35 L54.4 312.1 L54.65 312.55 L54.9 312.89 L55.15 313.23 L55.4 313.56 L55.65 313.89 L55.9 314.21 L56.15 314.52 L56.4 314.82 L56.65 315.11 L56.9 315.39 L57.15 315.66 L57.4 315.92 L57.65 316.17 L57.9 316.4 L58.15 316.64 L58.4 316.86 L58.65 317.08 L58.9 317.3 L59.15 317.52 L59.4 317.73 L59.65 317.94 L59.9 318.14 L60.15 318.34 L60.4 318.54 L60.65 318.73 L60.9 318.92 L61.15 319.11 L61.4 319.29 L61.65 319.47 L61.9 319.65 L62.15 319.82 L62.4 319.98 L62.65 320.13 L62.9 320.27 L63.15 320.39 L63.4 320.47 L63.65 320.52 L63.9 320.51 L64.15 320.43 L64.4 320.27 L64.65 320.02 L64.9 319.69 L65.15 319.28 L65.4 318.83 L65.65 318.37 L65.9 317.89 L66.15 315.58 L66.4 295.89 L66.65 260.48 L66.9 279.97 L67.15 311.55 L67.4 317.82 L67.65 318.48 L67.9 318.88 L68.15 319.2 L68.4 319.41 L68.65 319.49 L68.9 319.45 L69.15 319.31 L69.4 319.09 L69.65 317.04 L69.9 298.27 L70.15 264.39 L70.4 283.22 L70.65 313.68 L70.9 319.88 L71.15 320.75 L71.4 321.44 L71.65 322.15 L71.9 322.82 L72.15 323.43 L72.4 323.95 L72.65 324.4 L72.9 324.76 L73.15 325.04 L73.4 325.27 L73.65 325.46 L73.9 325.61 L74.15 325.74 L74.4 325.86 L74.65 325.97 L74.9 326.07 L75.15 326.17 L75.4 326.26 L75.65 326.36 L75.9 326.45 L76.15 326.55 L76.4 326.64 L76.65 326.73 L76.9 326.81 L77.15 326.89 L77.4 326.97 L77.65 327.03 L77.9 327.07 L78.15 327.08 L78.4 327.05 L78.65 326.96 L78.9 326.81 L79.15 326.57 L79.4 326.25 L79.65 325.85 L79.9 325.39 L80.15 324.88 L80.4 324.38 L80.65 323.92 L80.9 322.83 L81.15 317.21 L81.4 310.99 L81.65 317.38 L81.9 323.16 L82.15 324.41 L82.4 325.04 L82.65 325.7 L82.9 326.37 L83.15 327 L83.4 327.56 L83.65 327.99 L83.9 328.26 L84.15 328.61 L84.4 329 L84.65 329.25 L84.9 329.42 L85.15 329.56 L85.4 329.69 L85.65 329.8 L85.9 329.9 L86.15 329.99 L86.4 330.08 L86.65 330.17 L86.9 330.25 L87.15 330.34 L87.4 330.42 L87.65 330.5 L87.9 330.58 L88.15 330.65 L88.4 330.73 L88.65 330.81 L88.9 330.88 L89.15 330.96 L89.4 331.03 L89.65 331.11 L89.9 331.18 L90.15 331.25 L90.4 331.33 L90.65 331.4 L90.9 331.47 L91.15 331.54 L91.4 331.61 L91.65 331.68 L91.9 331.74 L92.15 331.81 L92.4 331.87 L92.65 331.94 L92.9 332 L93.15 332.07 L93.4 332.13 L93.65 332.19 L93.9 332.25 L94.15 332.31 L94.4 332.37 L94.65 332.42 L94.9 332.48 L95.15 332.54 L95.4 332.59 L95.65 332.64 L95.9 332.69 L96.15 332.74 L96.4 332.79 L96.65 332.83 L96.9 332.86 L97.15 332.89 L97.4 332.89 L97.65 332.87 L97.9 332.81 L98.15 332.71 L98.4 332.53 L98.65 332.29 L98.9 331.96 L99.15 331.54 L99.4 331.05 L99.65 330.51 L99.9 329.96 L100.15 329.43 L100.4 328.76 L100.65 325.22 L100.9 316.43 L101.15 318.06 L101.4 326.57 L101.65 329.14 L101.9 329.78 L102.15 330.37 L102.4 330.96 L102.65 331.51 L102.9 331.97 L103.15 332.31 L103.4 332.51 L103.65 332.55 L103.9 332.44 L104.15 332.18 L104.4 331.78 L104.65 331.29 L104.9 330.71 L105.15 330.09 L105.4 329.29 L105.65 326.24 L105.9 319.13 L106.15 319.89 L106.4 325.84 L106.65 327.26 L106.9 327.24 L107.15 327.2 L107.4 325.97 L107.65 316.41 L107.9 305.55 L108.15 317.31 L108.4 327.76 L108.65 329.8 L108.9 330.58 L109.15 331.31 L109.4 332.01 L109.65 332.63 L109.9 333.15 L110.15 333.57 L110.4 333.87 L110.65 334.05 L110.9 334.11 L111.15 334.06 L111.4 333.89 L111.65 333.61 L111.9 333.22 L112.15 332.74 L112.4 332.21 L112.65 331.64 L112.9 331.1 L113.15 330.49 L113.4 327.73 L113.65 318.36 L113.9 316.61 L114.15 326.43 L114.4 330.38 L114.65 331.15 L114.9 331.73 L115.15 332.33 L115.4 332.91 L115.65 333.43 L115.9 333.85 L116.15 334.15 L116.4 334.32 L116.65 334.36 L116.9 334.25 L117.15 334.02 L117.4 333.67 L117.65 333.21 L117.9 332.67 L118.15 332.1 L118.4 331.53 L118.65 330.85 L118.9 327.4 L119.15 315.5 L119.4 313.16 L119.65 325.34 L119.9 330 L120.15 330.53 L120.4 330.76 L120.65 330.98 L120.9 331.16 L121.15 331.3 L121.4 331.37 L121.65 330.64 L121.9 326.33 L122.15 323.76 L122.4 328.98 L122.65 332 L122.9 332.58 L123.15 332.89 L123.4 333.16 L123.65 333.36 L123.9 333.47 L124.15 333.49 L124.4 333.41 L124.65 333.28 L124.9 333.11 L125.15 332.7 L125.4 330.13 L125.65 325.63 L125.9 328.17 L126.15 332.34 L126.4 333.37 L126.65 333.74 L126.9 334.12 L127.15 334.49 L127.4 334.82 L127.65 335.11 L127.9 335.32 L128.15 335.46 L128.4 335.54 L128.65 335.56 L128.9 335.54 L129.15 335.49 L129.4 335.4 L129.65 334.79 L129.9 333.21 L130.15 333.51 L130.4 335.03 L130.65 335.46 L130.9 335.51 L131.15 335.5 L131.4 335.44 L131.65 335.3 L131.9 335.06 L132.15 334.72 L132.4 334.28 L132.65 333.79 L132.9 333.26 L133.15 332.74 L133.4 331.55 L133.65 321.18 L133.9 294.04 L134.15 299 L134.4 325.01 L134.65 332.17 L134.9 333.07 L135.15 333.67 L135.4 334.29 L135.65 334.88 L135.9 335.42 L136.15 335.88 L136.4 336.24 L136.65 336.51 L136.9 336.69 L137.15 336.79 L137.4 336.8 L137.65 336.72 L137.9 336.55 L138.15 336.26 L138.4 335.87 L138.65 335.35 L138.9 334.71 L139.15 333.95 L139.4 333.11 L139.65 332.19 L139.9 329.82 L140.15 309.42 L140.4 256.22 L140.65 265.2 L140.9 314.98 L141.15 327.64 L141.4 321.96 L141.65 297.31 L141.9 293.11 L142.15 319.99 L142.4 330.53 L142.65 332.05 L142.9 332.79 L143.15 333.39 L143.4 333.84 L143.65 334.1 L143.9 334.18 L144.15 334.11 L144.4 333.94 L144.65 333.7 L144.9 332.88 L145.15 328.25 L145.4 323.08 L145.65 328.37 L145.9 333.14 L146.15 334.13 L146.4 334.58 L146.65 335.03 L146.9 335.46 L147.15 335.82 L147.4 336.11 L147.65 336.31 L147.9 336.43 L148.15 336.49 L148.4 336.44 L148.65 335.59 L148.9 333.28 L149.15 333.77 L149.4 336.11 L149.65 336.83 L149.9 337.02 L150.15 337.18 L150.4 337.32 L150.65 337.41 L150.9 337.43 L151.15 337.36 L151.4 337.19 L151.65 336.9 L151.9 336.51 L152.15 336.03 L152.4 335.5 L152.65 334.94 L152.9 334.41 L153.15 333.46 L153.4 327.97 L153.65 318.42 L153.9 323.66 L154.15 332.28 L154.4 334.26 L154.65 334.84 L154.9 335.4 L155.15 335.97 L155.4 336.49 L155.65 336.92 L155.9 337.25 L156.15 337.48 L156.4 337.59 L156.65 337.63 L156.9 337.6 L157.15 337.53 L157.4 337.4 L157.65 336.54 L157.9 334.34 L158.15 334.76 L158.4 336.93 L158.65 337.6 L158.9 337.79 L159.15 337.97 L159.4 338.15 L159.65 338.32 L159.9 338.47 L160.15 338.59 L160.4 338.66 L160.65 338.7 L160.9 338.69 L161.15 338.65 L161.4 338.57 L161.65 338.47 L161.9 338.35 L162.15 338.22 L162.4 338.09 L162.65 337.9 L162.9 336.86 L163.15 335.08 L163.4 336.07 L163.65 337.71 L163.9 338.11 L164.15 338.27 L164.4 338.42 L164.65 338.58 L164.9 338.73 L165.15 338.86 L165.4 338.97 L165.65 339.05 L165.9 339.11 L166.15 339.14 L166.4 339.14 L166.65 339.11 L166.9 339.06 L167.15 338.98 L167.4 338.89 L167.65 338.78 L167.9 338.67 L168.15 338.57 L168.4 338.44 L168.65 337.81 L168.9 336.25 L169.15 336.54 L169.4 338.06 L169.65 338.53 L169.9 338.66 L170.15 338.79 L170.4 338.92 L170.65 339.05 L170.9 339.17 L171.15 339.27 L171.4 339.35 L171.65 339.42 L171.9 339.47 L172.15 339.51 L172.4 339.53 L172.65 339.55 L172.9 339.57 L173.15 339.57 L173.4 339.57 L173.65 339.56 L173.9 339.54 L174.15 339.49 L174.4 339.42 L174.65 339.3 L174.9 339.14 L175.15 338.92 L175.4 338.65 L175.65 338.31 L175.9 337.93 L176.15 337.52 L176.4 337.12 L176.65 336.74 L176.9 335.95 L177.15 332.17 L177.4 328 L177.65 332.19 L177.9 335.98 L178.15 336.77 L178.4 337.16 L178.65 337.57 L178.9 337.97 L179.15 338.33 L179.4 338.63 L179.65 338.86 L179.9 339.01 L180.15 339.08 L180.4 339.08 L180.65 339.04 L180.9 338.97 L181.15 338.88 L181.4 338.74 L181.65 338.04 L181.9 336.28 L182.15 336.61 L182.4 338.32 L182.65 338.85 L182.9 339 L183.15 339.14 L183.4 339.28 L183.65 339.42 L183.9 339.55 L184.15 339.66 L184.4 339.74 L184.65 339.81 L184.9 339.85 L185.15 339.87 L185.4 339.88 L185.65 339.87 L185.9 339.83 L186.15 339.78 L186.4 339.71 L186.65 339.61 L186.9 339.5 L187.15 339.37 L187.4 339.25 L187.65 339.13 L187.9 338.98 L188.15 338.28 L188.4 336.58 L188.65 336.89 L188.9 338.54 L189.15 339.05 L189.4 339.19 L189.65 339.33 L189.9 339.47 L190.15 339.6 L190.4 339.72 L190.65 339.83 L190.9 339.91 L191.15 339.97 L191.4 340.02 L191.65 340.04 L191.9 340.05 L192.15 340.04 L192.4 340.01 L192.65 339.96 L192.9 339.9 L193.15 339.82 L193.4 339.73 L193.65 339.62 L193.9 339.51 L194.15 339.41 L194.4 339.28 L194.65 338.69 L194.9 337.24 L195.15 337.5 L195.4 338.91 L195.65 339.35 L195.9 339.47 L196.15 339.58 L196.4 339.7 L196.65 339.82 L196.9 339.92 L197.15 340.01 L197.4 340.08 L197.65 340.12 L197.9 340.15 L198.15 340.16 L198.4 340.14 L198.65 340.1 L198.9 340.02 L199.15 339.9 L199.4 339.74 L199.65 339.53 L199.9 339.27 L200.15 338.97 L200.4 338.65 L200.65 338.32 L200.9 338.01 L201.15 337.55 L201.4 335.2 L201.65 331.18 L201.9 333.38 L202.15 337.02 L202.4 337.91 L202.65 338.23 L202.9 338.55 L203.15 338.89 L203.4 339.2 L203.65 339.47 L203.9 339.69 L204.15 339.85 L204.4 339.96 L204.65 340.01 L204.9 340.01 L205.15 339.97 L205.4 339.89 L205.65 339.79 L205.9 339.69 L206.15 339.58 L206.4 339.45 L206.65 338.81 L206.9 337.25 L207.15 337.54 L207.4 339.05 L207.65 339.51 L207.9 339.64 L208.15 339.76 L208.4 339.88 L208.65 340 L208.9 340.11 L209.15 340.2 L209.4 340.27 L209.65 340.32 L209.9 340.34 L210.15 340.35 L210.4 340.33 L210.65 340.29 L210.9 340.24 L211.15 340.16 L211.4 340.07 L211.65 339.97 L211.9 339.87 L212.15 339.77 L212.4 339.65 L212.65 339.09 L212.9 337.72 L213.15 337.97 L213.4 339.29 L213.65 339.7 L213.9 339.81 L214.15 339.91 L214.4 340.01 L214.65 340.1 L214.9 340.17 L215.15 340.22 L215.4 340.25 L215.65 340.24 L215.9 340.2 L216.15 340.13 L216.4 340.03 L216.65 339.92 L216.9 339.8 L217.15 339.69 L217.4 339.55 L217.65 338.89 L217.9 337.26 L218.15 337.56 L218.4 339.12 L218.65 339.6 L218.9 339.73 L219.15 339.85 L219.4 339.97 L219.65 340.08 L219.9 340.18 L220.15 340.24 L220.4 340.27 L220.65 340.27 L220.9 340.22 L221.15 340.13 L221.4 340.01 L221.65 339.85 L221.9 339.66 L222.15 339.47 L222.4 339.28 L222.65 339.09 L222.9 338.34 L223.15 335.88 L223.4 335.42 L223.65 337.98 L223.9 339.03 L224.15 339.25 L224.4 339.43 L224.65 339.62 L224.9 339.8 L225.15 339.94 L225.4 340.05 L225.65 340.12 L225.9 340.13 L226.15 340.11 L226.4 340.05 L226.65 339.95 L226.9 339.85 L227.15 339.74 L227.4 339.6 L227.65 338.93 L227.9 337.27 L228.15 337.57 L228.4 339.17 L228.65 339.66 L228.9 339.79 L229.15 339.92 L229.4 340.04 L229.65 340.17 L229.9 340.27 L230.15 340.35 L230.4 340.4 L230.65 340.43 L230.9 340.42 L231.15 340.38 L231.4 340.31 L231.65 340.22 L231.9 340.11 L232.15 339.98 L232.4 339.86 L232.65 339.74 L232.9 339.49 L233.15 338.31 L233.4 337 L233.65 338.31 L233.9 339.5 L234.15 339.75 L234.4 339.87 L234.65 340 L234.9 340.13 L235.15 340.25 L235.4 340.35 L235.65 340.43 L235.9 340.48 L236.15 340.51 L236.4 340.51 L236.65 340.48 L236.9 340.43 L237.15 340.35 L237.4 340.26 L237.65 340.15 L237.9 340.04 L238.15 339.94 L238.4 339.81 L238.65 339.21 L238.9 337.74 L239.15 338.01 L239.4 339.42 L239.65 339.85 L239.9 339.97 L240.15 340.08 L240.4 340.2 L240.65 340.31 L240.9 340.41 L241.15 340.5 L241.4 340.57 L241.65 340.62 L241.9 340.65 L242.15 340.67 L242.4 340.67 L242.65 340.65 L242.9 340.62 L243.15 340.57 L243.4 340.49 L243.65 340.39 L243.9 340.26 L244.15 340.12 L244.4 339.96 L244.65 339.81 L244.9 339.66 L245.15 339.44 L245.4 338.31 L245.65 336.39 L245.9 337.44 L246.15 339.19 L246.4 339.61 L246.65 339.77 L246.9 339.92 L247.15 340.09 L247.4 340.24 L247.65 340.38 L247.9 340.49 L248.15 340.59" fill="none" stroke="#ff1a1a" stroke-width="1.0" stroke-linejoin="round"/>
<g fill="#111"><circle cx="41.4" cy="241.2" r="1.4"/><path d="M40.3 252.56h2.2v1h-2.2z M40.9 251.96h1v2.2h-1z"/><path d="M40.3 260.37h2.2v1h-2.2z M40.9 259.77h1v2.2h-1z"/><path d="M40.3 266.78h2.2v1h-2.2z M40.9 266.18h1v2.2h-1z"/><path d="M40.3 273.31h2.2v1h-2.2z M40.9 272.71h1v2.2h-1z"/><path d="M40.3 279.39h2.2v1h-2.2z M40.9 278.79h1v2.2h-1z"/><path d="M40.3 286.83h2.2v1h-2.2z M40.9 286.23h1v2.2h-1z"/><circle cx="66.7" cy="254" r="1.4"/><path d="M65.6 263.31h2.2v1h-2.2z M66.2 262.71h1v2.2h-1z"/><path d="M65.6 269.23h2.2v1h-2.2z M66.2 268.63h1v2.2h-1z"/><path d="M65.6 276.53h2.2v1h-2.2z M66.2 275.93h1v2.2h-1z"/><path d="M65.6 283.55h2.2v1h-2.2z M66.2 282.95h1v2.2h-1z"/><path d="M65.6 290.83h2.2v1h-2.2z M66.2 290.23h1v2.2h-1z"/><path d="M65.6 297.29h2.2v1h-2.2z M66.2 296.69h1v2.2h-1z"/><path d="M65.6 304.01h2.2v1h-2.2z M66.2 303.41h1v2.2h-1z"/><path d="M65.6 309.89h2.2v1h-2.2z M66.2 309.29h1v2.2h-1z"/><path d="M65.6 317.17h2.2v1h-2.2z M66.2 316.57h1v2.2h-1z"/><circle cx="70.2" cy="259.4" r="1.4"/><path d="M69.1 267.9h2.2v1h-2.2z M69.7 267.3h1v2.2h-1z"/><path d="M69.1 275.3h2.2v1h-2.2z M69.7 274.7h1v2.2h-1z"/><path d="M69.1 282.49h2.2v1h-2.2z M69.7 281.89h1v2.2h-1z"/><path d="M69.1 288.23h2.2v1h-2.2z M69.7 287.63h1v2.2h-1z"/><path d="M69.1 294.33h2.2v1h-2.2z M69.7 293.73h1v2.2h-1z"/><path d="M69.1 301.94h2.2v1h-2.2z M69.7 301.34h1v2.2h-1z"/><path d="M69.1 309.04h2.2v1h-2.2z M69.7 308.44h1v2.2h-1z"/><path d="M69.1 316.74h2.2v1h-2.2z M69.7 316.14h1v2.2h-1z"/><circle cx="81.4" cy="310.1" r="1.4"/><path d="M80.3 315.85h2.2v1h-2.2z M80.9 315.25h1v2.2h-1z"/><path d="M80.3 323.59h2.2v1h-2.2z M80.9 322.99h1v2.2h-1z"/><circle cx="101" cy="314.3" r="1.4"/><path d="M99.9 319.5h2.2v1h-2.2z M100.5 318.9h1v2.2h-1z"/><path d="M99.9 325.93h2.2v1h-2.2z M100.5 325.33h1v2.2h-1z"/><circle cx="106" cy="319.2" r="1.4"/><path d="M104.9 324.2h2.2v1h-2.2z M105.5 323.6h1v2.2h-1z"/><circle cx="107.9" cy="306.4" r="1.4"/><path d="M106.8 310.81h2.2v1h-2.2z M107.4 310.21h1v2.2h-1z"/><path d="M106.8 317.74h2.2v1h-2.2z M107.4 317.14h1v2.2h-1z"/><path d="M106.8 323.51h2.2v1h-2.2z M107.4 322.91h1v2.2h-1z"/><path d="M106.8 329.21h2.2v1h-2.2z M107.4 328.61h1v2.2h-1z"/><circle cx="113.8" cy="314.3" r="1.4"/><path d="M112.7 319.22h2.2v1h-2.2z M113.3 318.62h1v2.2h-1z"/><path d="M112.7 324.84h2.2v1h-2.2z M113.3 324.24h1v2.2h-1z"/><circle cx="119.3" cy="310.9" r="1.4"/><path d="M118.2 316.93h2.2v1h-2.2z M118.8 316.33h1v2.2h-1z"/><path d="M118.2 323.9h2.2v1h-2.2z M118.8 323.3h1v2.2h-1z"/><path d="M118.2 329.43h2.2v1h-2.2z M118.8 328.83h1v2.2h-1z"/><circle cx="122.1" cy="324" r="1.4"/><path d="M121 330.4h2.2v1h-2.2z M121.6 329.8h1v2.2h-1z"/><circle cx="125.7" cy="325.1" r="1.4"/><path d="M124.6 330.69h2.2v1h-2.2z M125.2 330.09h1v2.2h-1z"/><circle cx="134" cy="282.1" r="1.4"/><path d="M132.9 295.44h2.2v1h-2.2z M133.5 294.84h1v2.2h-1z"/><path d="M132.9 302.45h2.2v1h-2.2z M133.5 301.85h1v2.2h-1z"/><path d="M132.9 309.93h2.2v1h-2.2z M133.5 309.33h1v2.2h-1z"/><path d="M132.9 316.76h2.2v1h-2.2z M133.5 316.16h1v2.2h-1z"/><path d="M132.9 322.73h2.2v1h-2.2z M133.5 322.13h1v2.2h-1z"/><path d="M132.9 328.68h2.2v1h-2.2z M133.5 328.08h1v2.2h-1z"/><circle cx="140.5" cy="240.5" r="1.4"/><path d="M139.4 256.28h2.2v1h-2.2z M140 255.68h1v2.2h-1z"/><path d="M139.4 262.06h2.2v1h-2.2z M140 261.46h1v2.2h-1z"/><path d="M139.4 267.62h2.2v1h-2.2z M140 267.02h1v2.2h-1z"/><path d="M139.4 275.53h2.2v1h-2.2z M140 274.93h1v2.2h-1z"/><path d="M139.4 281.53h2.2v1h-2.2z M140 280.93h1v2.2h-1z"/><path d="M139.4 289.27h2.2v1h-2.2z M140 288.67h1v2.2h-1z"/><path d="M139.4 294.98h2.2v1h-2.2z M140 294.38h1v2.2h-1z"/><path d="M139.4 301.64h2.2v1h-2.2z M140 301.04h1v2.2h-1z"/><path d="M139.4 307.7h2.2v1h-2.2z M140 307.1h1v2.2h-1z"/><path d="M139.4 315.27h2.2v1h-2.2z M140 314.67h1v2.2h-1z"/><path d="M139.4 322.31h2.2v1h-2.2z M140 321.71h1v2.2h-1z"/><path d="M139.4 329.42h2.2v1h-2.2z M140 328.82h1v2.2h-1z"/><circle cx="141.8" cy="291.6" r="1.4"/><path d="M140.7 297.72h2.2v1h-2.2z M141.3 297.12h1v2.2h-1z"/><path d="M140.7 304.08h2.2v1h-2.2z M141.3 303.48h1v2.2h-1z"/><path d="M140.7 311.09h2.2v1h-2.2z M141.3 310.49h1v2.2h-1z"/><path d="M140.7 317.7h2.2v1h-2.2z M141.3 317.1h1v2.2h-1z"/><path d="M140.7 323.48h2.2v1h-2.2z M141.3 322.88h1v2.2h-1z"/><path d="M140.7 331.07h2.2v1h-2.2z M141.3 330.47h1v2.2h-1z"/><circle cx="145.4" cy="323.2" r="1.4"/><path d="M144.3 329.14h2.2v1h-2.2z M144.9 328.54h1v2.2h-1z"/><circle cx="153.7" cy="316.8" r="1.4"/><path d="M152.6 323.12h2.2v1h-2.2z M153.2 322.52h1v2.2h-1z"/><path d="M152.6 329.78h2.2v1h-2.2z M153.2 329.18h1v2.2h-1z"/><circle cx="177.4" cy="326.6" r="1.4"/><path d="M176.3 331.73h2.2v1h-2.2z M176.9 331.13h1v2.2h-1z"/><circle cx="201.7" cy="329.4" r="1.4"/><circle cx="223.3" cy="333.7" r="1.4"/></g>
<g><rect x="41" y="344.8" width="1.2" height="7" fill="#111"/><rect x="54" y="344.8" width="1.2" height="7" fill="#111"/><rect x="66" y="344.8" width="1.2" height="7" fill="#777"/><rect x="68.6" y="344.8" width="1.2" height="7" fill="#111"/><rect x="70.4" y="344.8" width="1.2" height="7" fill="#111"/><rect x="72.2" y="344.8" width="1.2" height="7" fill="#777"/><rect x="76.8" y="344.8" width="1.2" height="7" fill="#111"/><rect x="78.6" y="344.8" width="1.2" height="7" fill="#777"/><rect x="81.2" y="344.8" width="1.2" height="7" fill="#111"/><rect x="90" y="344.8" width="2.7" height="7" fill="#111"/><rect x="95.9" y="344.8" width="1.2" height="7" fill="#777"/><rect x="99.4" y="344.8" width="1.2" height="7" fill="#111"/><rect x="106.4" y="344.8" width="2.7" height="7" fill="#111"/><rect x="112.2" y="344.8" width="1.2" height="7" fill="#777"/><rect x="114" y="344.8" width="1.2" height="7" fill="#111"/><rect x="120" y="344.8" width="4.5" height="7" fill="#111"/><rect x="125.9" y="344.8" width="1.2" height="7" fill="#111"/><rect x="127.7" y="344.8" width="1.2" height="7" fill="#777"/><rect x="133.6" y="344.8" width="4.6" height="7" fill="#111"/><rect x="140.9" y="344.8" width="2.7" height="7" fill="#111"/><rect x="145" y="344.8" width="1.2" height="7" fill="#111"/><rect x="148.2" y="344.8" width="2.7" height="7" fill="#111"/><rect x="153" y="344.8" width="2.5" height="7" fill="#111"/><rect x="157.6" y="344.8" width="1.2" height="7" fill="#777"/><rect x="160.3" y="344.8" width="1.2" height="7" fill="#111"/><rect x="164" y="344.8" width="1.2" height="7" fill="#111"/><rect x="167.6" y="344.8" width="1.2" height="7" fill="#111"/><rect x="172.1" y="344.8" width="1.2" height="7" fill="#111"/><rect x="175" y="344.8" width="1.2" height="7" fill="#111"/><rect x="179" y="344.8" width="14.6" height="7" fill="#111"/><rect x="196.4" y="344.8" width="3.6" height="7" fill="#111"/><rect x="202.7" y="344.8" width="1.8" height="7" fill="#111"/><rect x="207.6" y="344.8" width="1.2" height="7" fill="#111"/><rect x="212.7" y="344.8" width="4.6" height="7" fill="#111"/><rect x="221.8" y="344.8" width="24.6" height="7" fill="#111"/><rect x="247.6" y="344.8" width="1.2" height="7" fill="#111"/><rect x="80.4" y="351.8" width="1.4" height="5.2" fill="#111"/><rect x="83.7" y="351.8" width="1.4" height="5.2" fill="#111"/><rect x="91.1" y="351.8" width="1.4" height="5.2" fill="#111"/><rect x="98.3" y="351.8" width="1.4" height="5.2" fill="#111"/><rect x="108.4" y="351.8" width="1.4" height="5.2" fill="#111"/><rect x="122" y="351.8" width="1.4" height="5.2" fill="#111"/><rect x="135.7" y="351.8" width="1.4" height="5.2" fill="#111"/><rect x="142" y="351.8" width="1.4" height="5.2" fill="#111"/><rect x="148.4" y="351.8" width="1.4" height="5.2" fill="#111"/><rect x="152" y="351.8" width="1.4" height="5.2" fill="#111"/><rect x="162.9" y="351.8" width="1.4" height="5.2" fill="#111"/><rect x="168.4" y="351.8" width="1.4" height="5.2" fill="#111"/><rect x="172" y="351.8" width="1.4" height="5.2" fill="#111"/><rect x="177.5" y="351.8" width="1.4" height="5.2" fill="#111"/><rect x="182.9" y="351.8" width="1.4" height="5.2" fill="#111"/><rect x="188.4" y="351.8" width="1.4" height="5.2" fill="#111"/><rect x="192.9" y="351.8" width="1.4" height="5.2" fill="#111"/><rect x="199.3" y="351.8" width="1.4" height="5.2" fill="#111"/><rect x="203.8" y="351.8" width="1.4" height="5.2" fill="#111"/><rect x="209.3" y="351.8" width="1.4" height="5.2" fill="#111"/><rect x="212" y="351.8" width="1.4" height="5.2" fill="#111"/><rect x="222" y="351.8" width="1.4" height="5.2" fill="#111"/><rect x="225.7" y="351.8" width="1.4" height="5.2" fill="#111"/><rect x="229.3" y="351.8" width="1.4" height="5.2" fill="#111"/><rect x="232.9" y="351.8" width="1.4" height="5.2" fill="#111"/><rect x="236.6" y="351.8" width="1.4" height="5.2" fill="#111"/><rect x="240.2" y="351.8" width="1.4" height="5.2" fill="#111"/><rect x="243.8" y="351.8" width="1.4" height="5.2" fill="#111"/></g>
<text transform="translate(22.5 349.4) scale(0.8 1)" font-size="5.8" fill="#333" letter-spacing="1.3" font-family="Liberation Sans, sans-serif">NFPP</text>
<text transform="translate(22.5 357.6) scale(0.8 1)" font-size="5.8" fill="#333" letter-spacing="1.3" font-family="Liberation Sans, sans-serif">NFP</text>
<path d="M34.2 368.95 L34.8 369.55 L35.4 368.76 L36 369.48 L36.6 369.46 L37.2 368.46 L37.8 368.94 L38.4 370.84 L39 369.1 L39.6 369.47 L40.2 368.61 L40.8 369.09 L41.4 369.05 L42 371.28 L42.6 370.82 L43.2 371.33 L43.8 371.75 L44.4 370.82 L45 371.8 L45.6 370.81 L46.2 370.6 L46.8 372.16 L47.4 372.13 L48 372.36 L48.6 371.18 L49.2 372.07 L49.8 371.16 L50.4 372.87 L51 372.74 L51.6 371.11 L52.2 372.95 L52.8 370.98 L53.4 370.82 L54 372.6 L54.6 371.5 L55.2 372.18 L55.8 372.57 L56.4 371 L57 372.97 L57.6 371.75 L58.2 372.21 L58.8 372.02 L59.4 373.13 L60 373.17 L60.6 371.95 L61.2 371.47 L61.8 372.01 L62.4 372.31 L63 371.41 L63.6 371.6 L64.2 373.23 L64.8 373.04 L65.4 373.76 L66 373.74 L66.6 373.43 L67.2 372.04 L67.8 371.44 L68.4 371.8 L69 372.16 L69.6 372.28 L70.2 372.27 L70.8 371.73 L71.4 372.99 L72 371.42 L72.6 371.84 L73.2 372.91 L73.8 372.64 L74.4 371.22 L75 371.02 L75.6 372.46 L76.2 370.29 L76.8 370.56 L77.4 371.56 L78 371.52 L78.6 370.49 L79.2 370.13 L79.8 370.49 L80.4 371.94 L81 371.09 L81.6 372.4 L82.2 371.86 L82.8 372.33 L83.4 369.83 L84 370.2 L84.6 369.73 L85.2 370.82 L85.8 370.56 L86.4 369.81 L87 371.09 L87.6 369.91 L88.2 370.48 L88.8 370.31 L89.4 371.76 L90 370.76 L90.6 370.36 L91.2 369.8 L91.8 370.81 L92.4 371.33 L93 371.47 L93.6 372.09 L94.2 371.84 L94.8 370.4 L95.4 370.13 L96 371.75 L96.6 371.85 L97.2 371.14 L97.8 371.99 L98.4 371.29 L99 370.61 L99.6 370.35 L100.2 369.98 L100.8 371.6 L101.4 372.27 L102 372.31 L102.6 371.21 L103.2 371.74 L103.8 372.43 L104.4 372.15 L105 371.63 L105.6 371.17 L106.2 371.46 L106.8 370.59 L107.4 370.64 L108 371.92 L108.6 372.72 L109.2 371.6 L109.8 371.26 L110.4 371.13 L111 371.4 L111.6 372.29 L112.2 371.42 L112.8 372.71 L113.4 370.7 L114 371.12 L114.6 371.65 L115.2 371.39 L115.8 372.5 L116.4 372.45 L117 372.73 L117.6 371.94 L118.2 370.5 L118.8 371.88 L119.4 371.83 L120 371.69 L120.6 371.18 L121.2 372.27 L121.8 372.78 L122.4 370.79 L123 372.21 L123.6 371.48 L124.2 371.85 L124.8 372.81 L125.4 372.98 L126 372.21 L126.6 371.11 L127.2 372.91 L127.8 371.1 L128.4 371.61 L129 372.72 L129.6 371.47 L130.2 371.37 L130.8 373.04 L131.4 373.04 L132 371.51 L132.6 371.7 L133.2 371.44 L133.8 371.08 L134.4 371.37 L135 373.16 L135.6 370.97 L136.2 371.34 L136.8 371.27 L137.4 370.98 L138 372.07 L138.6 372.59 L139.2 372.82 L139.8 372.32 L140.4 372.77 L141 370.8 L141.6 371.47 L142.2 373.1 L142.8 370.95 L143.4 371.43 L144 371.94 L144.6 371.42 L145.2 372.09 L145.8 370.91 L146.4 371.36 L147 373.02 L147.6 371.16 L148.2 372.87 L148.8 371.25 L149.4 373.02 L150 372.33 L150.6 372.26 L151.2 371.21 L151.8 371.04 L152.4 372.46 L153 371.3 L153.6 371.33 L154.2 372.55 L154.8 372.63 L155.4 371.09 L156 372.75 L156.6 371.98 L157.2 371.7 L157.8 371.23 L158.4 371.72 L159 372.7 L159.6 371.54 L160.2 371.3 L160.8 371.32 L161.4 371.28 L162 371.64 L162.6 372.53 L163.2 371.19 L163.8 371.37 L164.4 372.56 L165 372.65 L165.6 372.61 L166.2 371.44 L166.8 371.6 L167.4 372.55 L168 371.8 L168.6 372.15 L169.2 371.52 L169.8 371.05 L170.4 371.56 L171 372.2 L171.6 372.25 L172.2 371.9 L172.8 371.73 L173.4 371.84 L174 371.68 L174.6 371.82 L175.2 372.3 L175.8 371.28 L176.4 371.9 L177 372.44 L177.6 372.3 L178.2 371.22 L178.8 372.47 L179.4 372.27 L180 371.19 L180.6 371.34 L181.2 371.23 L181.8 370.99 L182.4 372.46 L183 371.54 L183.6 372.28 L184.2 371.06 L184.8 370.89 L185.4 372.26 L186 372.13 L186.6 372.44 L187.2 371.94 L187.8 371.68 L188.4 372.06 L189 370.98 L189.6 371.69 L190.2 371.52 L190.8 371.04 L191.4 371.76 L192 371.31 L192.6 371.6 L193.2 371.38 L193.8 371.29 L194.4 371.35 L195 371.73 L195.6 372.33 L196.2 372.25 L196.8 372.13 L197.4 372.08 L198 371.19 L198.6 372.29 L199.2 371.15 L199.8 370.91 L200.4 371.51 L201 371.87 L201.6 371.24 L202.2 371.72 L202.8 371.13 L203.4 372.22 L204 371.39 L204.6 371.43 L205.2 371.5 L205.8 372.05 L206.4 372.22 L207 371.48 L207.6 371.33 L208.2 371.61 L208.8 370.72 L209.4 371.29 L210 371.96 L210.6 371.84 L211.2 370.68 L211.8 371.95 L212.4 371.19 L213 372.14 L213.6 371.15 L214.2 370.9 L214.8 371.43 L215.4 371.95 L216 371.22 L216.6 371.92 L217.2 371.66 L217.8 371.09 L218.4 370.99 L219 371.31 L219.6 371.13 L220.2 371.08 L220.8 371.52 L221.4 371.87 L222 371.4 L222.6 370.69 L223.2 370.81 L223.8 371.04 L224.4 371.42 L225 370.66 L225.6 370.56 L226.2 370.93 L226.8 370.87 L227.4 370.46 L228 371.26 L228.6 371.87 L229.2 371.24 L229.8 371.56 L230.4 371.7 L231 371.71 L231.6 371.82 L232.2 371.06 L232.8 371.44 L233.4 370.54 L234 371.75 L234.6 370.94 L235.2 371.09 L235.8 371.74 L236.4 370.77 L237 370.61 L237.6 371.62 L238.2 371.25 L238.8 370.42 L239.4 370.33 L240 370.84 L240.6 370.28 L241.2 371.6 L241.8 370.55 L242.4 370.69 L243 370.87 L243.6 371.06 L244.2 370.93 L244.8 371.24 L245.4 371.28 L246 370.92 L246.6 370.37 L247.2 371.77 L247.8 371.31" fill="none" stroke="#11ee22" stroke-width="1.5" stroke-linejoin="round"/>
<path d="M41.2 365.94 L41.2 378.94 M66.9 359.4 L66.9 387.4 M69 367.26 L69 378.26 M81 368.18 L81 375.18 M108 368.46 L108 375.46 M133.5 364.97 L133.5 376.97 M138.5 367 L138.5 378 M140.5 361 L140.5 380 M142.5 366.99 L142.5 376.99 M154 368.93 L154 374.93 M177 369.75 L177 374.75 M201 369.5 L201 374.5 M223 369.26 L223 374.26" fill="none" stroke="#11ee22" stroke-width="1.3"/>
<rect x="21.5" y="220.8" width="227.3" height="166.9" fill="none" stroke="#111" stroke-width="1.4"/>
<path d="M21.5 387.7 V390.5 M41.7 387.7 V392.2 M62.41 387.7 V390.5 M83.12 387.7 V392.2 M103.83 387.7 V390.5 M124.54 387.7 V392.2 M145.25 387.7 V390.5 M165.96 387.7 V392.2 M186.67 387.7 V390.5 M207.38 387.7 V392.2 M228.09 387.7 V390.5 M248.8 387.7 V392.2" stroke="#111" stroke-width="1.4" fill="none"/>
<text x="41.7" y="404.7" font-size="11" fill="#1a1a1a" text-anchor="middle" font-family="Liberation Sans, sans-serif">10</text>
<text x="83.12" y="404.7" font-size="11" fill="#1a1a1a" text-anchor="middle" font-family="Liberation Sans, sans-serif">20</text>
<text x="124.54" y="404.7" font-size="11" fill="#1a1a1a" text-anchor="middle" font-family="Liberation Sans, sans-serif">30</text>
<text x="165.96" y="404.7" font-size="11" fill="#1a1a1a" text-anchor="middle" font-family="Liberation Sans, sans-serif">40</text>
<text x="207.38" y="404.7" font-size="11" fill="#1a1a1a" text-anchor="middle" font-family="Liberation Sans, sans-serif">50</text>
<text x="248.8" y="404.7" font-size="11" fill="#1a1a1a" text-anchor="middle" font-family="Liberation Sans, sans-serif">60</text>
<text x="99.3" y="234.7" font-size="12" font-weight="bold" fill="#111" letter-spacing="0.95" font-family="Liberation Sans, sans-serif">NFPP/rGO</text>
<circle cx="186.5" cy="258.6" r="1.4" fill="#111"/>
<path d="M174.6 271.3 H198.8" stroke="#ff3333" stroke-width="1.3"/>
<path d="M174.6 283.6 H198.8" stroke="#22ee44" stroke-width="2"/>
<text x="201.5" y="261.2" font-size="10" fill="#333" font-family="Liberation Sans, sans-serif">Observed</text>
<text x="201.5" y="274" font-size="10" fill="#333" font-family="Liberation Sans, sans-serif">Calculated</text>
<text x="201.5" y="286.8" font-size="10" fill="#333" font-family="Liberation Sans, sans-serif">Difference</text>
<text transform="translate(15.2 293.3) rotate(-90)" font-size="12.8" fill="#1a1a1a" text-anchor="middle" font-family="Liberation Sans, sans-serif">Intensity</text>
<text x="112.6" y="421.6" font-size="14" fill="#1a1a1a" font-family="Liberation Sans, sans-serif">2θ angle, <tspan font-size="11" dy="-6">°</tspan></text>
<text x="261" y="419.6" font-size="17" fill="#111" font-family="Liberation Sans, sans-serif">c</text>
<path d="M301.5 365.1 C303.98 365.28 312.32 366.3 316.4 366.2 C320.48 366.1 322.6 365.37 326 364.5 C329.4 363.63 332.95 361.03 336.8 361 C340.65 360.97 345.97 363.62 349.1 364.3 C352.23 364.98 352.33 364.83 355.6 365.1 C358.87 365.37 364.33 365.9 368.7 365.9 C373.07 365.9 379.08 365.43 381.8 365.1 C384.52 364.77 383.38 364.92 385 363.9 C386.62 362.88 389.88 361.72 391.5 359 C393.12 356.28 393.62 351.4 394.7 347.6 C395.78 343.8 396.92 339.03 398 336.2 C399.08 333.37 400.12 331.13 401.2 330.6 C402.28 330.07 403.42 334.23 404.5 333 C405.58 331.77 406.68 330.37 407.7 323.2 C408.72 316.03 409.48 291.6 410.6 290 C411.72 288.4 413.23 306.93 414.4 313.6 C415.57 320.27 416.82 324.73 417.6 330 C418.38 335.27 418.3 342.27 419.1 345.2 C419.9 348.13 421.37 347.47 422.4 347.6 C423.43 347.73 424.28 348.57 425.3 346 C426.32 343.43 427.5 331.67 428.5 332.2 C429.5 332.73 430.43 345.42 431.3 349.2 C432.17 352.98 432.75 352.73 433.7 354.9 C434.65 357.07 435.65 364.9 437 362.2 C438.35 359.5 440.45 341.13 441.8 338.7 C443.15 336.27 444.02 342.6 445.1 347.6 C446.18 352.6 446.95 363.55 448.3 368.7 C449.65 373.85 451.25 376.62 453.2 378.5 C455.15 380.38 457.43 379.33 460 380 C462.57 380.67 466.65 382.95 468.6 382.5 C470.55 382.05 470.67 377.12 471.7 377.3 C472.73 377.48 473.22 382.55 474.8 383.6 C476.38 384.65 479.2 385.35 481.2 383.6 C483.2 381.85 485.42 373.8 486.8 373.1 C488.18 372.4 488.53 379.4 489.5 379.4 C490.47 379.4 491.57 374.32 492.6 373.1 C493.63 371.88 494.65 376.1 495.7 372.1 C496.75 368.1 497.85 349.62 498.9 349.1 C499.95 348.58 500.97 363.43 502 369 C503.03 374.57 503.88 379.72 505.1 382.5 C506.32 385.28 508.07 385 509.3 385.7 C510.53 386.4 511.45 385.98 512.5 386.7 C513.55 387.42 514.12 389.45 515.6 390 C517.08 390.55 520.43 390 521.4 390" fill="none" stroke="#ff22ff" stroke-width="1.7" stroke-linejoin="round"/>
<path d="M301.5 331.2 C303.92 331.13 311.62 331.03 316 330.8 C320.38 330.57 324.3 329.6 327.8 329.8 C331.3 330 333.45 331.12 337 332 C340.55 332.88 345.85 334.97 349.1 335.1 C352.35 335.23 353.77 332.63 356.5 332.8 C359.23 332.97 361.82 335.17 365.5 336.1 C369.18 337.03 374.52 337.87 378.6 338.4 C382.68 338.93 387.58 339.93 390 339.3 C392.42 338.67 392.17 337 393.1 334.6 C394.03 332.2 394.63 329.48 395.6 324.9 C396.57 320.32 397.93 310.5 398.9 307.1 C399.87 303.7 400.58 304.37 401.4 304.5 C402.22 304.63 402.72 308.82 403.8 307.9 C404.88 306.98 406.77 305.37 407.9 299 C409.03 292.63 409.65 272.68 410.6 269.7 C411.55 266.72 412.7 277.85 413.6 281.1 C414.5 284.35 415.12 284.47 416 289.2 C416.88 293.93 417.68 305.57 418.9 309.5 C420.12 313.43 422.12 312.88 423.3 312.8 C424.48 312.72 425.05 311.08 426 309 C426.95 306.92 427.97 299.27 429 300.3 C430.03 301.33 431.15 311.65 432.2 315.2 C433.25 318.75 434.45 320.3 435.3 321.6 C436.15 322.9 436.62 323.43 437.3 323 C437.98 322.57 438.62 321.65 439.4 319 C440.18 316.35 441.03 308 442 307.1 C442.97 306.2 444.25 309.78 445.2 313.6 C446.15 317.42 447.18 326.5 447.7 330 C448.22 333.5 447.38 332.48 448.3 334.6 C449.22 336.72 451.25 340.88 453.2 342.7 C455.15 344.52 457.43 344.33 460 345.5 C462.57 346.67 466.65 349.97 468.6 349.7 C470.55 349.43 470.67 343.83 471.7 343.9 C472.73 343.97 473.4 349.23 474.8 350.1 C476.2 350.97 478.52 350.13 480.1 349.1 C481.68 348.07 483.18 345.47 484.3 343.9 C485.42 342.33 485.93 339.53 486.8 339.7 C487.67 339.87 488.53 344.9 489.5 344.9 C490.47 344.9 491.67 340.73 492.6 339.7 C493.53 338.67 494.4 340.43 495.1 338.7 C495.8 336.97 496.17 333.38 496.8 329.3 C497.43 325.22 498.2 313.87 498.9 314.2 C499.6 314.53 500.13 326 501 331.3 C501.87 336.6 502.88 342.78 504.1 346 C505.32 349.22 506.9 349.92 508.3 350.6 C509.7 351.28 511.12 349.42 512.5 350.1 C513.88 350.78 515.12 354.17 516.6 354.7 C518.08 355.23 520.6 353.53 521.4 353.3" fill="none" stroke="#ff1111" stroke-width="1.7" stroke-linejoin="round"/>
<path d="M301.5 315.3 C304.33 314.98 312.58 313.65 318.5 313.4 C324.42 313.15 330.8 314.37 337 313.8 C343.2 313.23 350.2 311.08 355.7 310 C361.2 308.92 366.22 308.22 370 307.3 C373.78 306.38 375.62 305.9 378.4 304.5 C381.18 303.1 384.62 300.88 386.7 298.9 C388.78 296.92 389.85 294.8 390.9 292.6 C391.95 290.4 392.42 288.05 393 285.7 C393.58 283.35 393.93 280.2 394.4 278.5 C394.87 276.8 395.22 276.98 395.8 275.5 C396.38 274.02 397.32 271.27 397.9 269.6 C398.48 267.93 398.72 266.65 399.3 265.5 C399.88 264.35 400.72 263.37 401.4 262.7 C402.08 262.03 402.83 261.28 403.4 261.5 C403.97 261.72 404.22 264.15 404.8 264 C405.38 263.85 406.32 262.1 406.9 260.6 C407.48 259.1 407.62 259.07 408.3 255 C408.98 250.93 410.13 238.37 411 236.2 C411.87 234.03 412.58 240.03 413.5 242 C414.42 243.97 415.58 244.67 416.5 248 C417.42 251.33 418.27 256.75 419 262 C419.73 267.25 420.18 275.63 420.9 279.5 C421.62 283.37 422.55 284.67 423.3 285.2 C424.05 285.73 424.7 284.9 425.4 282.7 C426.1 280.5 426.77 275.45 427.5 272 C428.23 268.55 429 260.33 429.8 262 C430.6 263.67 431.53 278.75 432.3 282 C433.07 285.25 433.85 280.75 434.4 281.5 C434.95 282.25 435.12 284.42 435.6 286.5 C436.08 288.58 436.65 295.58 437.3 294 C437.95 292.42 438.63 282.25 439.5 277 C440.37 271.75 441.43 264.6 442.5 262.5 C443.57 260.4 445.07 263.07 445.9 264.4 C446.73 265.73 446.95 266.9 447.5 270.5 C448.05 274.1 448.58 281.42 449.2 286 C449.82 290.58 450.23 294.22 451.2 298 C452.17 301.78 453.32 305.93 455 308.7 C456.68 311.47 459.03 313.78 461.3 314.6 C463.57 315.42 466.93 315.33 468.6 313.6 C470.27 311.87 470.43 303.85 471.3 304.2 C472.17 304.55 472.68 313.7 473.8 315.7 C474.92 317.7 476.6 317.42 478 316.2 C479.4 314.98 481.07 310.82 482.2 308.4 C483.33 305.98 484.02 303.77 484.8 301.7 C485.58 299.63 486.27 296.12 486.9 296 C487.53 295.88 487.93 299.03 488.6 301 C489.27 302.97 490.23 309.3 490.9 307.8 C491.57 306.3 492.03 294.3 492.6 292 C493.17 289.7 493.8 295.42 494.3 294 C494.8 292.58 495.15 287.28 495.6 283.5 C496.05 279.72 496.4 274.93 497 271.3 C497.6 267.67 498.48 260.25 499.2 261.7 C499.92 263.15 500.57 274.62 501.3 280 C502.03 285.38 502.98 289.83 503.6 294 C504.22 298.17 504.47 302.7 505 305 C505.53 307.3 506.12 307.72 506.8 307.8 C507.48 307.88 508.4 305.5 509.1 305.5 C509.8 305.5 510.38 307.88 511 307.8 C511.62 307.72 512.1 304.38 512.8 305 C513.5 305.62 514.42 309.95 515.2 311.5 C515.98 313.05 516.65 313.98 517.5 314.3 C518.35 314.62 519.65 314.02 520.3 313.4 C520.95 312.78 521.22 311.07 521.4 310.6" fill="none" stroke="#111" stroke-width="1.7" stroke-linejoin="round"/>
<rect x="301.5" y="219.1" width="220.1" height="171" fill="none" stroke="#111" stroke-width="1.5"/>
<path d="M301.5 390.1 V394.1 M317.22 390.1 V392.6 M332.94 390.1 V394.1 M348.66 390.1 V392.6 M364.39 390.1 V394.1 M380.11 390.1 V392.6 M395.83 390.1 V394.1 M411.55 390.1 V392.6 M427.27 390.1 V394.1 M442.99 390.1 V392.6 M458.71 390.1 V394.1 M474.44 390.1 V392.6 M490.16 390.1 V394.1 M505.88 390.1 V392.6 M521.6 390.1 V394.1" stroke="#111" stroke-width="1.4" fill="none"/>
<text x="301.5" y="404.8" font-size="11" fill="#1a1a1a" text-anchor="middle" font-family="Liberation Sans, sans-serif">1800</text>
<text x="332.94" y="404.8" font-size="11" fill="#1a1a1a" text-anchor="middle" font-family="Liberation Sans, sans-serif">1600</text>
<text x="364.39" y="404.8" font-size="11" fill="#1a1a1a" text-anchor="middle" font-family="Liberation Sans, sans-serif">1400</text>
<text x="395.83" y="404.8" font-size="11" fill="#1a1a1a" text-anchor="middle" font-family="Liberation Sans, sans-serif">1200</text>
<text x="427.27" y="404.8" font-size="11" fill="#1a1a1a" text-anchor="middle" font-family="Liberation Sans, sans-serif">1000</text>
<text x="458.71" y="404.8" font-size="11" fill="#1a1a1a" text-anchor="middle" font-family="Liberation Sans, sans-serif">800</text>
<text x="490.16" y="404.8" font-size="11" fill="#1a1a1a" text-anchor="middle" font-family="Liberation Sans, sans-serif">600</text>
<text x="521.6" y="404.8" font-size="11" fill="#1a1a1a" text-anchor="middle" font-family="Liberation Sans, sans-serif">400</text>
<text x="358.3" y="425" font-size="12.5" fill="#1a1a1a" font-family="Liberation Sans, sans-serif">Wavenumber, cm<tspan font-size="8" dy="-5">-1</tspan></text>
<text transform="translate(293.6 298.8) rotate(-90)" font-size="12" fill="#1a1a1a" text-anchor="middle" font-family="Liberation Sans, sans-serif">Absorbance, a.u.</text>
<text x="303.3" y="307.3" font-size="11.5" font-weight="bold" fill="#111" font-family="Liberation Sans, sans-serif">NFPP</text>
<text x="302.5" y="344.6" font-size="11.5" font-weight="bold" fill="#ff1111" font-family="Liberation Sans, sans-serif">NFPP/C</text>
<text x="303.3" y="379" font-size="11.5" font-weight="bold" fill="#ff22ff" font-family="Liberation Sans, sans-serif">NFPP/rGO</text>
<text x="537.3" y="419.6" font-size="17" fill="#111" font-family="Liberation Sans, sans-serif">d</text>
<text x="0" y="0" transform="translate(403.5 230) scale(0.74 1)" font-size="9.2" fill="#666" letter-spacing="0.8" font-family="Liberation Sans, sans-serif">1105</text>
<text x="0" y="0" transform="translate(421.4 240.9) scale(0.74 1)" font-size="9.2" fill="#666" letter-spacing="0.8" font-family="Liberation Sans, sans-serif">1080</text>
<text x="0" y="0" transform="translate(390.8 250.5) scale(0.74 1)" font-size="9.2" fill="#666" letter-spacing="0.8" font-family="Liberation Sans, sans-serif">1164</text>
<text x="0" y="0" transform="translate(375.5 262.3) scale(0.74 1)" font-size="9.2" fill="#666" letter-spacing="0.8" font-family="Liberation Sans, sans-serif">1176</text>
<text x="0" y="0" transform="translate(378.5 273.1) scale(0.74 1)" font-size="9.2" fill="#666" letter-spacing="0.8" font-family="Liberation Sans, sans-serif">1204</text>
<text x="0" y="0" transform="translate(420.9 259.2) scale(0.74 1)" font-size="9.2" fill="#666" letter-spacing="0.8" font-family="Liberation Sans, sans-serif">986</text>
<text x="0" y="0" transform="translate(436 259.2) scale(0.74 1)" font-size="9.2" fill="#666" letter-spacing="0.8" font-family="Liberation Sans, sans-serif">904</text>
<text x="0" y="0" transform="translate(452.7 263) scale(0.74 1)" font-size="9.2" fill="#666" letter-spacing="0.8" font-family="Liberation Sans, sans-serif">884</text>
<text x="0" y="0" transform="translate(493.5 258.1) scale(0.74 1)" font-size="9.2" fill="#666" letter-spacing="0.8" font-family="Liberation Sans, sans-serif">543</text>
<text x="0" y="0" transform="translate(482.7 281) scale(0.74 1)" font-size="9.2" fill="#666" letter-spacing="0.8" font-family="Liberation Sans, sans-serif">582</text>
<text x="0" y="0" transform="translate(477.5 292) scale(0.74 1)" font-size="9.2" fill="#666" letter-spacing="0.8" font-family="Liberation Sans, sans-serif">622</text>
<text x="0" y="0" transform="translate(459.6 303) scale(0.74 1)" font-size="9.2" fill="#666" letter-spacing="0.8" font-family="Liberation Sans, sans-serif">720</text>
<text x="0" y="0" transform="translate(472.6 301.9) scale(0.74 1)" font-size="9.2" fill="#666" letter-spacing="0.8" font-family="Liberation Sans, sans-serif">644</text>
<text x="0" y="0" transform="translate(320 327.5) scale(0.74 1)" font-size="9.2" fill="#666" letter-spacing="0.8" font-family="Liberation Sans, sans-serif">1630</text>
<text x="0" y="0" transform="translate(349.7 327.5) scale(0.74 1)" font-size="9.2" fill="#666" letter-spacing="0.8" font-family="Liberation Sans, sans-serif">1448</text>
<text x="0" y="0" transform="translate(329.1 356) scale(0.74 1)" font-size="9.2" fill="#666" letter-spacing="0.8" font-family="Liberation Sans, sans-serif">1573</text>
<text x="0" y="0" transform="translate(349.1 358.4) scale(0.74 1)" font-size="9.2" fill="#666" letter-spacing="0.8" font-family="Liberation Sans, sans-serif">1460</text>
<text transform="translate(437.6 278.3) rotate(-90) scale(0.85 1)" font-size="7.5" fill="#666" letter-spacing="0.4" font-family="Liberation Sans, sans-serif">954</text>
<text transform="translate(509.8 301.8) rotate(-90) scale(0.85 1)" font-size="7.5" fill="#666" letter-spacing="0.4" font-family="Liberation Sans, sans-serif">462</text>
<text transform="translate(518.2 301.8) rotate(-90) scale(0.85 1)" font-size="7.5" fill="#666" letter-spacing="0.4" font-family="Liberation Sans, sans-serif">458</text>
<path d="M401.7 254 V259.3 M393 264 L398 268 M416.5 246 L422 240 M446 262 L452 259 M495.6 285.6 V290.4 M493 293 V297 M327.8 327.5 V330.5 M356.6 327.7 V331 M337.6 357.7 V360.7 M355.6 360.2 V364.3" stroke="#444" stroke-width="0.8" fill="none"/></svg></body></html>
